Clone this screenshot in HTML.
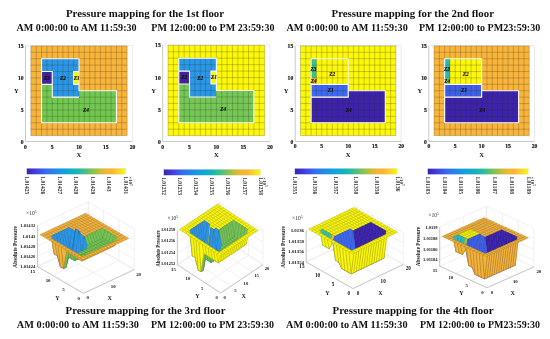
<!DOCTYPE html>
<html><head><meta charset="utf-8"><style>html,body{margin:0;padding:0;background:#fff;overflow:hidden}svg{display:block}.e{fill:none;stroke:#000;stroke-opacity:0.4;stroke-width:0.3}</style></head>
<body><svg width="550" height="339" viewBox="0 0 550 339">
<rect width="550" height="339" fill="#fff"/>
<text x="66" y="16.9" font-family="Liberation Serif, serif" font-weight="bold" font-size="10.5" textLength="158.1" lengthAdjust="spacingAndGlyphs" fill="#111">Pressure mapping for the 1st floor</text>
<text x="331.5" y="16.9" font-family="Liberation Serif, serif" font-weight="bold" font-size="10.5" textLength="162.5" lengthAdjust="spacingAndGlyphs" fill="#111">Pressure mapping for the 2nd floor</text>
<text x="16.5" y="30.5" font-family="Liberation Serif, serif" font-weight="bold" font-size="10.5" textLength="120.1" lengthAdjust="spacingAndGlyphs" fill="#111">AM 0:00:00 to AM 11:59:30</text>
<text x="151.3" y="30.5" font-family="Liberation Serif, serif" font-weight="bold" font-size="10.5" textLength="123.2" lengthAdjust="spacingAndGlyphs" fill="#111">PM 12:00:00 to PM 23:59:30</text>
<text x="286.5" y="30.5" font-family="Liberation Serif, serif" font-weight="bold" font-size="10.5" textLength="121.3" lengthAdjust="spacingAndGlyphs" fill="#111">AM 0:00:00 to AM 11:59:30</text>
<text x="418.9" y="30.5" font-family="Liberation Serif, serif" font-weight="bold" font-size="10.5" textLength="121.4" lengthAdjust="spacingAndGlyphs" fill="#111">PM 12:00:00 to PM23:59:30</text>
<text x="65.6" y="313.8" font-family="Liberation Serif, serif" font-weight="bold" font-size="9.9" textLength="159.9" lengthAdjust="spacingAndGlyphs" fill="#111">Pressure mapping for the 3rd floor</text>
<text x="332.5" y="313.8" font-family="Liberation Serif, serif" font-weight="bold" font-size="9.9" textLength="161.0" lengthAdjust="spacingAndGlyphs" fill="#111">Pressure mapping for the 4th floor</text>
<text x="16.8" y="327.5" font-family="Liberation Serif, serif" font-weight="bold" font-size="9.9" textLength="122.2" lengthAdjust="spacingAndGlyphs" fill="#111">AM 0:00:00 to AM 11:59:30</text>
<text x="151" y="327.5" font-family="Liberation Serif, serif" font-weight="bold" font-size="9.9" textLength="123.0" lengthAdjust="spacingAndGlyphs" fill="#111">PM 12:00:00 to PM 23:59:30</text>
<text x="286" y="327.5" font-family="Liberation Serif, serif" font-weight="bold" font-size="9.9" textLength="121.5" lengthAdjust="spacingAndGlyphs" fill="#111">AM 0:00:00 to AM 11:59:30</text>
<text x="420" y="327.5" font-family="Liberation Serif, serif" font-weight="bold" font-size="9.9" textLength="120.0" lengthAdjust="spacingAndGlyphs" fill="#111">PM 12:00:00 to PM23:59:30</text>
<path d="M25.50 45.60H132.50V141.50" fill="none" stroke="#e6e6e6" stroke-width="0.8"/>
<path d="M25.50 45.60V141.50H132.50" fill="none" stroke="#c8c8c8" stroke-width="1"/>
<rect x="30.85" y="45.90" width="96.30" height="89.69" fill="#f7b53c"/>
<path d="M41.55 58.71H79.00V71.53H41.55ZM52.25 71.53H73.65V84.34H52.25ZM52.25 84.34H79.00V97.15H52.25Z" fill="#2a98e8"/>
<path d="M41.55 71.53H52.25V84.34H41.55Z" fill="#43239f"/>
<path d="M73.65 71.53H79.00V84.34H73.65Z" fill="#fcf80a"/>
<path d="M41.55 84.34H52.25V122.78H41.55ZM52.25 97.15H79.00V122.78H52.25ZM79.00 90.75H116.45V122.78H79.00Z" fill="#70c850"/>
<path d="M30.85 135.59V45.90M36.20 135.59V45.90M41.55 135.59V45.90M46.90 135.59V45.90M52.25 135.59V45.90M57.60 135.59V45.90M62.95 135.59V45.90M68.30 135.59V45.90M73.65 135.59V45.90M79.00 135.59V45.90M84.35 135.59V45.90M89.70 135.59V45.90M95.05 135.59V45.90M100.40 135.59V45.90M105.75 135.59V45.90M111.10 135.59V45.90M116.45 135.59V45.90M121.80 135.59V45.90M127.15 135.59V45.90M30.85 135.59H127.15M30.85 129.19H127.15M30.85 122.78H127.15M30.85 116.37H127.15M30.85 109.97H127.15M30.85 103.56H127.15M30.85 97.15H127.15M30.85 90.75H127.15M30.85 84.34H127.15M30.85 77.93H127.15M30.85 71.53H127.15M30.85 65.12H127.15M30.85 58.71H127.15M30.85 52.31H127.15M30.85 45.90H127.15" stroke="#3a2a10" stroke-opacity="0.55" stroke-width="0.45" fill="none"/>
<path d="M41.55 58.71L79.00 58.71L79.00 90.75L116.45 90.75L116.45 122.78L41.55 122.78ZM41.55 84.34L52.25 84.34L52.25 71.53L41.55 71.53ZM73.65 84.34L79.00 84.34L79.00 71.53L73.65 71.53ZM52.25 84.34L52.25 97.15L79.00 97.15" stroke="#fff" stroke-width="1.1" fill="none" stroke-linejoin="miter"/>
<text x="76.59" y="79.85" font-family="Liberation Serif, serif" font-style="italic" font-weight="bold" font-size="5.3" text-anchor="middle" fill="#111" stroke="#111" stroke-width="0.15">Z1</text>
<text x="62.95" y="80.17" font-family="Liberation Serif, serif" font-style="italic" font-weight="bold" font-size="5.3" text-anchor="middle" fill="#111" stroke="#111" stroke-width="0.15">Z2</text>
<text x="46.90" y="79.85" font-family="Liberation Serif, serif" font-style="italic" font-weight="bold" font-size="5.3" text-anchor="middle" fill="#111" stroke="#111" stroke-width="0.15">Z3</text>
<text x="85.95" y="111.57" font-family="Liberation Serif, serif" font-style="italic" font-weight="bold" font-size="5.3" text-anchor="middle" fill="#111" stroke="#111" stroke-width="0.15">Z4</text>
<text x="25.50" y="149.10" font-family="Liberation Serif, serif" font-weight="bold" font-size="5.6" text-anchor="middle" fill="#1a1a1a" stroke="#1a1a1a" stroke-width="0.2">0</text>
<text x="52.25" y="149.10" font-family="Liberation Serif, serif" font-weight="bold" font-size="5.6" text-anchor="middle" fill="#1a1a1a" stroke="#1a1a1a" stroke-width="0.2">5</text>
<text x="79.00" y="149.10" font-family="Liberation Serif, serif" font-weight="bold" font-size="5.6" text-anchor="middle" fill="#1a1a1a" stroke="#1a1a1a" stroke-width="0.2">10</text>
<text x="105.75" y="149.10" font-family="Liberation Serif, serif" font-weight="bold" font-size="5.6" text-anchor="middle" fill="#1a1a1a" stroke="#1a1a1a" stroke-width="0.2">15</text>
<text x="132.50" y="149.10" font-family="Liberation Serif, serif" font-weight="bold" font-size="5.6" text-anchor="middle" fill="#1a1a1a" stroke="#1a1a1a" stroke-width="0.2">20</text>
<text x="23.50" y="144.00" font-family="Liberation Serif, serif" font-weight="bold" font-size="5.6" text-anchor="end" fill="#1a1a1a" stroke="#1a1a1a" stroke-width="0.2">0</text>
<text x="23.50" y="111.97" font-family="Liberation Serif, serif" font-weight="bold" font-size="5.6" text-anchor="end" fill="#1a1a1a" stroke="#1a1a1a" stroke-width="0.2">5</text>
<text x="23.50" y="79.93" font-family="Liberation Serif, serif" font-weight="bold" font-size="5.6" text-anchor="end" fill="#1a1a1a" stroke="#1a1a1a" stroke-width="0.2">10</text>
<text x="23.50" y="47.90" font-family="Liberation Serif, serif" font-weight="bold" font-size="5.6" text-anchor="end" fill="#1a1a1a" stroke="#1a1a1a" stroke-width="0.2">15</text>
<text x="79.00" y="157.20" font-family="Liberation Serif, serif" font-weight="bold" font-size="6.6" text-anchor="middle" fill="#111">X</text>
<text x="16.50" y="93.05" font-family="Liberation Serif, serif" font-weight="bold" font-size="6.6" text-anchor="middle" fill="#111">Y</text>
<path d="M162.70 45.00H270.00V141.60" fill="none" stroke="#e6e6e6" stroke-width="0.8"/>
<path d="M162.70 45.00V141.60H270.00" fill="none" stroke="#c8c8c8" stroke-width="1"/>
<rect x="168.06" y="45.30" width="96.57" height="90.35" fill="#fcf80a"/>
<path d="M178.79 58.21H216.35V71.11H178.79ZM189.52 71.11H210.98V84.02H189.52ZM189.52 84.02H216.35V96.93H189.52Z" fill="#2a98e8"/>
<path d="M178.79 71.11H189.52V84.02H178.79Z" fill="#43239f"/>
<path d="M210.98 71.11H216.35V84.02H210.98Z" fill="#fcf80a"/>
<path d="M178.79 84.02H189.52V122.74H178.79ZM189.52 96.93H216.35V122.74H189.52ZM216.35 90.47H253.90V122.74H216.35Z" fill="#74c858"/>
<path d="M168.06 135.65V45.30M173.43 135.65V45.30M178.79 135.65V45.30M184.16 135.65V45.30M189.52 135.65V45.30M194.89 135.65V45.30M200.25 135.65V45.30M205.62 135.65V45.30M210.98 135.65V45.30M216.35 135.65V45.30M221.71 135.65V45.30M227.08 135.65V45.30M232.44 135.65V45.30M237.81 135.65V45.30M243.18 135.65V45.30M248.54 135.65V45.30M253.90 135.65V45.30M259.27 135.65V45.30M264.63 135.65V45.30M168.06 135.65H264.63M168.06 129.19H264.63M168.06 122.74H264.63M168.06 116.29H264.63M168.06 109.83H264.63M168.06 103.38H264.63M168.06 96.93H264.63M168.06 90.47H264.63M168.06 84.02H264.63M168.06 77.57H264.63M168.06 71.11H264.63M168.06 64.66H264.63M168.06 58.21H264.63M168.06 51.75H264.63M168.06 45.30H264.63" stroke="#3a2a10" stroke-opacity="0.55" stroke-width="0.45" fill="none"/>
<path d="M178.79 58.21L216.35 58.21L216.35 90.47L253.90 90.47L253.90 122.74L178.79 122.74ZM178.79 84.02L189.52 84.02L189.52 71.11L178.79 71.11ZM210.98 84.02L216.35 84.02L216.35 71.11L210.98 71.11ZM189.52 84.02L189.52 96.93L216.35 96.93" stroke="#fff" stroke-width="1.1" fill="none" stroke-linejoin="miter"/>
<text x="213.94" y="79.49" font-family="Liberation Serif, serif" font-style="italic" font-weight="bold" font-size="5.3" text-anchor="middle" fill="#111" stroke="#111" stroke-width="0.15">Z1</text>
<text x="200.25" y="79.81" font-family="Liberation Serif, serif" font-style="italic" font-weight="bold" font-size="5.3" text-anchor="middle" fill="#111" stroke="#111" stroke-width="0.15">Z2</text>
<text x="184.16" y="79.49" font-family="Liberation Serif, serif" font-style="italic" font-weight="bold" font-size="5.3" text-anchor="middle" fill="#111" stroke="#111" stroke-width="0.15">Z3</text>
<text x="223.32" y="111.43" font-family="Liberation Serif, serif" font-style="italic" font-weight="bold" font-size="5.3" text-anchor="middle" fill="#111" stroke="#111" stroke-width="0.15">Z4</text>
<text x="162.70" y="149.20" font-family="Liberation Serif, serif" font-weight="bold" font-size="5.6" text-anchor="middle" fill="#1a1a1a" stroke="#1a1a1a" stroke-width="0.2">0</text>
<text x="189.52" y="149.20" font-family="Liberation Serif, serif" font-weight="bold" font-size="5.6" text-anchor="middle" fill="#1a1a1a" stroke="#1a1a1a" stroke-width="0.2">5</text>
<text x="216.35" y="149.20" font-family="Liberation Serif, serif" font-weight="bold" font-size="5.6" text-anchor="middle" fill="#1a1a1a" stroke="#1a1a1a" stroke-width="0.2">10</text>
<text x="243.18" y="149.20" font-family="Liberation Serif, serif" font-weight="bold" font-size="5.6" text-anchor="middle" fill="#1a1a1a" stroke="#1a1a1a" stroke-width="0.2">15</text>
<text x="270.00" y="149.20" font-family="Liberation Serif, serif" font-weight="bold" font-size="5.6" text-anchor="middle" fill="#1a1a1a" stroke="#1a1a1a" stroke-width="0.2">20</text>
<text x="160.70" y="144.10" font-family="Liberation Serif, serif" font-weight="bold" font-size="5.6" text-anchor="end" fill="#1a1a1a" stroke="#1a1a1a" stroke-width="0.2">0</text>
<text x="160.70" y="111.83" font-family="Liberation Serif, serif" font-weight="bold" font-size="5.6" text-anchor="end" fill="#1a1a1a" stroke="#1a1a1a" stroke-width="0.2">5</text>
<text x="160.70" y="79.57" font-family="Liberation Serif, serif" font-weight="bold" font-size="5.6" text-anchor="end" fill="#1a1a1a" stroke="#1a1a1a" stroke-width="0.2">10</text>
<text x="160.70" y="47.30" font-family="Liberation Serif, serif" font-weight="bold" font-size="5.6" text-anchor="end" fill="#1a1a1a" stroke="#1a1a1a" stroke-width="0.2">15</text>
<text x="216.35" y="157.30" font-family="Liberation Serif, serif" font-weight="bold" font-size="6.6" text-anchor="middle" fill="#111">X</text>
<text x="153.70" y="92.77" font-family="Liberation Serif, serif" font-weight="bold" font-size="6.6" text-anchor="middle" fill="#111">Y</text>
<path d="M295.20 45.60H401.20V141.50" fill="none" stroke="#e6e6e6" stroke-width="0.8"/>
<path d="M295.20 45.60V141.50H401.20" fill="none" stroke="#c8c8c8" stroke-width="1"/>
<rect x="300.50" y="45.90" width="95.40" height="89.69" fill="#fcf80a"/>
<path d="M316.40 58.71H348.20V84.34H316.40Z" fill="#fcf80a"/>
<path d="M311.10 58.71H316.40V77.93H311.10Z" fill="#3cc093"/>
<path d="M311.10 77.93H316.40V84.34H311.10Z" fill="#f0b23a"/>
<path d="M311.10 84.34H348.20V97.15H311.10Z" fill="#3d68f0"/>
<path d="M311.10 97.15H385.30V122.78H311.10ZM348.20 90.75H385.30V97.15H348.20Z" fill="#3c23ae"/>
<path d="M300.50 135.59V45.90M305.80 135.59V45.90M311.10 135.59V45.90M316.40 135.59V45.90M321.70 135.59V45.90M327.00 135.59V45.90M332.30 135.59V45.90M337.60 135.59V45.90M342.90 135.59V45.90M348.20 135.59V45.90M353.50 135.59V45.90M358.80 135.59V45.90M364.10 135.59V45.90M369.40 135.59V45.90M374.70 135.59V45.90M380.00 135.59V45.90M385.30 135.59V45.90M390.60 135.59V45.90M395.90 135.59V45.90M300.50 135.59H395.90M300.50 129.19H395.90M300.50 122.78H395.90M300.50 116.37H395.90M300.50 109.97H395.90M300.50 103.56H395.90M300.50 97.15H395.90M300.50 90.75H395.90M300.50 84.34H395.90M300.50 77.93H395.90M300.50 71.53H395.90M300.50 65.12H395.90M300.50 58.71H395.90M300.50 52.31H395.90M300.50 45.90H395.90" stroke="#3a2a10" stroke-opacity="0.55" stroke-width="0.45" fill="none"/>
<path d="M311.10 58.71L348.20 58.71L348.20 90.75L385.30 90.75L385.30 122.78L311.10 122.78ZM311.10 84.34L348.20 84.34L348.20 97.15L311.10 97.15Z" stroke="#fff" stroke-width="1.1" fill="none" stroke-linejoin="miter"/>
<text x="332.30" y="75.69" font-family="Liberation Serif, serif" font-style="italic" font-weight="bold" font-size="5.3" text-anchor="middle" fill="#111" stroke="#111" stroke-width="0.15">Z2</text>
<text x="313.49" y="71.20" font-family="Liberation Serif, serif" font-style="italic" font-weight="bold" font-size="5.3" text-anchor="middle" fill="#111" stroke="#111" stroke-width="0.15">Z3</text>
<text x="313.75" y="83.06" font-family="Liberation Serif, serif" font-style="italic" font-weight="bold" font-size="5.3" text-anchor="middle" fill="#111" stroke="#111" stroke-width="0.15">Z4</text>
<text x="330.71" y="91.71" font-family="Liberation Serif, serif" font-style="italic" font-weight="bold" font-size="5.3" text-anchor="middle" fill="#111" stroke="#111" stroke-width="0.15">Z1</text>
<text x="348.73" y="111.57" font-family="Liberation Serif, serif" font-style="italic" font-weight="bold" font-size="5.3" text-anchor="middle" fill="#111" stroke="#111" stroke-width="0.15">Z4</text>
<text x="295.20" y="148.40" font-family="Liberation Serif, serif" font-weight="bold" font-size="5.6" text-anchor="middle" fill="#1a1a1a" stroke="#1a1a1a" stroke-width="0.2">0</text>
<text x="321.70" y="148.40" font-family="Liberation Serif, serif" font-weight="bold" font-size="5.6" text-anchor="middle" fill="#1a1a1a" stroke="#1a1a1a" stroke-width="0.2">5</text>
<text x="348.20" y="148.40" font-family="Liberation Serif, serif" font-weight="bold" font-size="5.6" text-anchor="middle" fill="#1a1a1a" stroke="#1a1a1a" stroke-width="0.2">10</text>
<text x="374.70" y="148.40" font-family="Liberation Serif, serif" font-weight="bold" font-size="5.6" text-anchor="middle" fill="#1a1a1a" stroke="#1a1a1a" stroke-width="0.2">15</text>
<text x="401.20" y="148.40" font-family="Liberation Serif, serif" font-weight="bold" font-size="5.6" text-anchor="middle" fill="#1a1a1a" stroke="#1a1a1a" stroke-width="0.2">20</text>
<text x="293.20" y="144.00" font-family="Liberation Serif, serif" font-weight="bold" font-size="5.6" text-anchor="end" fill="#1a1a1a" stroke="#1a1a1a" stroke-width="0.2">0</text>
<text x="293.20" y="111.97" font-family="Liberation Serif, serif" font-weight="bold" font-size="5.6" text-anchor="end" fill="#1a1a1a" stroke="#1a1a1a" stroke-width="0.2">5</text>
<text x="293.20" y="79.93" font-family="Liberation Serif, serif" font-weight="bold" font-size="5.6" text-anchor="end" fill="#1a1a1a" stroke="#1a1a1a" stroke-width="0.2">10</text>
<text x="293.20" y="47.90" font-family="Liberation Serif, serif" font-weight="bold" font-size="5.6" text-anchor="end" fill="#1a1a1a" stroke="#1a1a1a" stroke-width="0.2">15</text>
<text x="348.20" y="156.50" font-family="Liberation Serif, serif" font-weight="bold" font-size="6.6" text-anchor="middle" fill="#111">X</text>
<text x="286.20" y="93.05" font-family="Liberation Serif, serif" font-weight="bold" font-size="6.6" text-anchor="middle" fill="#111">Y</text>
<path d="M428.80 45.60H534.50V141.50" fill="none" stroke="#e6e6e6" stroke-width="0.8"/>
<path d="M428.80 45.60V141.50H534.50" fill="none" stroke="#c8c8c8" stroke-width="1"/>
<rect x="434.09" y="45.90" width="95.13" height="89.69" fill="#f7b53c"/>
<path d="M449.94 58.71H481.65V84.34H449.94Z" fill="#fcf80a"/>
<path d="M444.66 58.71H449.94V77.93H444.66Z" fill="#28b8be"/>
<path d="M444.66 77.93H449.94V84.34H444.66Z" fill="#8cc84c"/>
<path d="M444.66 84.34H481.65V97.15H444.66Z" fill="#3c60ea"/>
<path d="M444.66 97.15H518.64V122.78H444.66ZM481.65 90.75H518.64V97.15H481.65Z" fill="#3c23ae"/>
<path d="M434.09 135.59V45.90M439.37 135.59V45.90M444.66 135.59V45.90M449.94 135.59V45.90M455.23 135.59V45.90M460.51 135.59V45.90M465.80 135.59V45.90M471.08 135.59V45.90M476.37 135.59V45.90M481.65 135.59V45.90M486.94 135.59V45.90M492.22 135.59V45.90M497.50 135.59V45.90M502.79 135.59V45.90M508.07 135.59V45.90M513.36 135.59V45.90M518.64 135.59V45.90M523.93 135.59V45.90M529.22 135.59V45.90M434.09 135.59H529.22M434.09 129.19H529.22M434.09 122.78H529.22M434.09 116.37H529.22M434.09 109.97H529.22M434.09 103.56H529.22M434.09 97.15H529.22M434.09 90.75H529.22M434.09 84.34H529.22M434.09 77.93H529.22M434.09 71.53H529.22M434.09 65.12H529.22M434.09 58.71H529.22M434.09 52.31H529.22M434.09 45.90H529.22" stroke="#3a2a10" stroke-opacity="0.55" stroke-width="0.45" fill="none"/>
<path d="M444.66 58.71L481.65 58.71L481.65 90.75L518.64 90.75L518.64 122.78L444.66 122.78ZM444.66 84.34L481.65 84.34L481.65 97.15L444.66 97.15Z" stroke="#fff" stroke-width="1.1" fill="none" stroke-linejoin="miter"/>
<text x="465.80" y="75.69" font-family="Liberation Serif, serif" font-style="italic" font-weight="bold" font-size="5.3" text-anchor="middle" fill="#111" stroke="#111" stroke-width="0.15">Z2</text>
<text x="447.03" y="71.20" font-family="Liberation Serif, serif" font-style="italic" font-weight="bold" font-size="5.3" text-anchor="middle" fill="#111" stroke="#111" stroke-width="0.15">Z3</text>
<text x="447.30" y="83.06" font-family="Liberation Serif, serif" font-style="italic" font-weight="bold" font-size="5.3" text-anchor="middle" fill="#111" stroke="#111" stroke-width="0.15">Z4</text>
<text x="464.21" y="91.71" font-family="Liberation Serif, serif" font-style="italic" font-weight="bold" font-size="5.3" text-anchor="middle" fill="#111" stroke="#111" stroke-width="0.15">Z1</text>
<text x="482.18" y="111.57" font-family="Liberation Serif, serif" font-style="italic" font-weight="bold" font-size="5.3" text-anchor="middle" fill="#111" stroke="#111" stroke-width="0.15">Z4</text>
<text x="428.80" y="148.40" font-family="Liberation Serif, serif" font-weight="bold" font-size="5.6" text-anchor="middle" fill="#1a1a1a" stroke="#1a1a1a" stroke-width="0.2">0</text>
<text x="455.23" y="148.40" font-family="Liberation Serif, serif" font-weight="bold" font-size="5.6" text-anchor="middle" fill="#1a1a1a" stroke="#1a1a1a" stroke-width="0.2">5</text>
<text x="481.65" y="148.40" font-family="Liberation Serif, serif" font-weight="bold" font-size="5.6" text-anchor="middle" fill="#1a1a1a" stroke="#1a1a1a" stroke-width="0.2">10</text>
<text x="508.07" y="148.40" font-family="Liberation Serif, serif" font-weight="bold" font-size="5.6" text-anchor="middle" fill="#1a1a1a" stroke="#1a1a1a" stroke-width="0.2">15</text>
<text x="534.50" y="148.40" font-family="Liberation Serif, serif" font-weight="bold" font-size="5.6" text-anchor="middle" fill="#1a1a1a" stroke="#1a1a1a" stroke-width="0.2">20</text>
<text x="426.80" y="144.00" font-family="Liberation Serif, serif" font-weight="bold" font-size="5.6" text-anchor="end" fill="#1a1a1a" stroke="#1a1a1a" stroke-width="0.2">0</text>
<text x="426.80" y="111.97" font-family="Liberation Serif, serif" font-weight="bold" font-size="5.6" text-anchor="end" fill="#1a1a1a" stroke="#1a1a1a" stroke-width="0.2">5</text>
<text x="426.80" y="79.93" font-family="Liberation Serif, serif" font-weight="bold" font-size="5.6" text-anchor="end" fill="#1a1a1a" stroke="#1a1a1a" stroke-width="0.2">10</text>
<text x="426.80" y="47.90" font-family="Liberation Serif, serif" font-weight="bold" font-size="5.6" text-anchor="end" fill="#1a1a1a" stroke="#1a1a1a" stroke-width="0.2">15</text>
<text x="481.65" y="156.50" font-family="Liberation Serif, serif" font-weight="bold" font-size="6.6" text-anchor="middle" fill="#111">X</text>
<text x="419.80" y="93.05" font-family="Liberation Serif, serif" font-weight="bold" font-size="6.6" text-anchor="middle" fill="#111">Y</text>
<defs><linearGradient id="par" x1="0" x2="1" y1="0" y2="0"><stop offset="0.000" stop-color="#3426ac"/><stop offset="0.025" stop-color="#382cba"/><stop offset="0.050" stop-color="#3c33c8"/><stop offset="0.075" stop-color="#4039d6"/><stop offset="0.100" stop-color="#4440e4"/><stop offset="0.125" stop-color="#404ce7"/><stop offset="0.150" stop-color="#3b58ea"/><stop offset="0.175" stop-color="#3764ed"/><stop offset="0.200" stop-color="#3270f0"/><stop offset="0.225" stop-color="#2d78ee"/><stop offset="0.250" stop-color="#287feb"/><stop offset="0.275" stop-color="#2386e8"/><stop offset="0.300" stop-color="#1e8ee6"/><stop offset="0.325" stop-color="#1a94e2"/><stop offset="0.350" stop-color="#179ade"/><stop offset="0.375" stop-color="#13a0db"/><stop offset="0.400" stop-color="#0fa6d7"/><stop offset="0.425" stop-color="#11aad0"/><stop offset="0.450" stop-color="#12aec8"/><stop offset="0.475" stop-color="#14b2c0"/><stop offset="0.500" stop-color="#16b6b9"/><stop offset="0.525" stop-color="#23b8ac"/><stop offset="0.550" stop-color="#2fbb9e"/><stop offset="0.575" stop-color="#3bbe91"/><stop offset="0.600" stop-color="#4fbf7f"/><stop offset="0.625" stop-color="#64c06c"/><stop offset="0.650" stop-color="#7ac25a"/><stop offset="0.675" stop-color="#8fc14c"/><stop offset="0.700" stop-color="#a5c043"/><stop offset="0.725" stop-color="#bbbf3a"/><stop offset="0.750" stop-color="#cfbd34"/><stop offset="0.775" stop-color="#dfba33"/><stop offset="0.800" stop-color="#f0b832"/><stop offset="0.825" stop-color="#f5b633"/><stop offset="0.850" stop-color="#fab334"/><stop offset="0.875" stop-color="#fbba31"/><stop offset="0.900" stop-color="#fac72b"/><stop offset="0.925" stop-color="#f8d325"/><stop offset="0.950" stop-color="#f8e01f"/><stop offset="0.975" stop-color="#f8ec1a"/><stop offset="1.000" stop-color="#f8f814"/></linearGradient></defs>
<rect x="26.7" y="168.2" width="99.10" height="6.20" fill="url(#par)" stroke="#e8e8e8" stroke-width="0.4"/>
<text transform="translate(24.80,176.30) rotate(90)" font-family="Liberation Serif, serif" font-weight="bold" font-size="5.5" fill="#333">1.01425</text>
<text transform="translate(41.32,176.30) rotate(90)" font-family="Liberation Serif, serif" font-weight="bold" font-size="5.5" fill="#333">1.01426</text>
<text transform="translate(57.83,176.30) rotate(90)" font-family="Liberation Serif, serif" font-weight="bold" font-size="5.5" fill="#333">1.01427</text>
<text transform="translate(74.35,176.30) rotate(90)" font-family="Liberation Serif, serif" font-weight="bold" font-size="5.5" fill="#333">1.01428</text>
<text transform="translate(90.87,176.30) rotate(90)" font-family="Liberation Serif, serif" font-weight="bold" font-size="5.5" fill="#333">1.01429</text>
<text transform="translate(107.38,176.30) rotate(90)" font-family="Liberation Serif, serif" font-weight="bold" font-size="5.5" fill="#333">1.0143</text>
<text transform="translate(123.90,176.30) rotate(90)" font-family="Liberation Serif, serif" font-weight="bold" font-size="5.5" fill="#333">1.01431</text>
<text transform="translate(128.50,176.20) rotate(90)" font-family="Liberation Serif, serif" font-weight="bold" font-size="5" fill="#333">×10<tspan dy="-1.8" font-size="3.4">5</tspan></text>
<rect x="163.7" y="169.2" width="96.90" height="6.10" fill="url(#par)" stroke="#e8e8e8" stroke-width="0.4"/>
<text transform="translate(161.80,177.20) rotate(90)" font-family="Liberation Serif, serif" font-weight="bold" font-size="5.5" fill="#333">1.01252</text>
<text transform="translate(177.95,177.20) rotate(90)" font-family="Liberation Serif, serif" font-weight="bold" font-size="5.5" fill="#333">1.01253</text>
<text transform="translate(194.10,177.20) rotate(90)" font-family="Liberation Serif, serif" font-weight="bold" font-size="5.5" fill="#333">1.01254</text>
<text transform="translate(210.25,177.20) rotate(90)" font-family="Liberation Serif, serif" font-weight="bold" font-size="5.5" fill="#333">1.01255</text>
<text transform="translate(226.40,177.20) rotate(90)" font-family="Liberation Serif, serif" font-weight="bold" font-size="5.5" fill="#333">1.01256</text>
<text transform="translate(242.55,177.20) rotate(90)" font-family="Liberation Serif, serif" font-weight="bold" font-size="5.5" fill="#333">1.01257</text>
<text transform="translate(258.70,177.20) rotate(90)" font-family="Liberation Serif, serif" font-weight="bold" font-size="5.5" fill="#333">1.01258</text>
<text transform="translate(263.30,177.10) rotate(90)" font-family="Liberation Serif, serif" font-weight="bold" font-size="5" fill="#333">×10<tspan dy="-1.8" font-size="3.4">5</tspan></text>
<rect x="294.8" y="168.3" width="102.60" height="6.10" fill="url(#par)" stroke="#e8e8e8" stroke-width="0.4"/>
<text transform="translate(292.90,176.30) rotate(90)" font-family="Liberation Serif, serif" font-weight="bold" font-size="5.5" fill="#333">1.01355</text>
<text transform="translate(313.42,176.30) rotate(90)" font-family="Liberation Serif, serif" font-weight="bold" font-size="5.5" fill="#333">1.01356</text>
<text transform="translate(333.94,176.30) rotate(90)" font-family="Liberation Serif, serif" font-weight="bold" font-size="5.5" fill="#333">1.01357</text>
<text transform="translate(354.46,176.30) rotate(90)" font-family="Liberation Serif, serif" font-weight="bold" font-size="5.5" fill="#333">1.01358</text>
<text transform="translate(374.98,176.30) rotate(90)" font-family="Liberation Serif, serif" font-weight="bold" font-size="5.5" fill="#333">1.01359</text>
<text transform="translate(395.50,176.30) rotate(90)" font-family="Liberation Serif, serif" font-weight="bold" font-size="5.5" fill="#333">1.0136</text>
<text transform="translate(400.10,176.20) rotate(90)" font-family="Liberation Serif, serif" font-weight="bold" font-size="5" fill="#333">×10<tspan dy="-1.8" font-size="3.4">5</tspan></text>
<rect x="427.6" y="168.5" width="100.80" height="6.00" fill="url(#par)" stroke="#e8e8e8" stroke-width="0.4"/>
<text transform="translate(425.70,176.40) rotate(90)" font-family="Liberation Serif, serif" font-weight="bold" font-size="5.5" fill="#333">1.01183</text>
<text transform="translate(442.50,176.40) rotate(90)" font-family="Liberation Serif, serif" font-weight="bold" font-size="5.5" fill="#333">1.01184</text>
<text transform="translate(459.30,176.40) rotate(90)" font-family="Liberation Serif, serif" font-weight="bold" font-size="5.5" fill="#333">1.01185</text>
<text transform="translate(476.10,176.40) rotate(90)" font-family="Liberation Serif, serif" font-weight="bold" font-size="5.5" fill="#333">1.01186</text>
<text transform="translate(492.90,176.40) rotate(90)" font-family="Liberation Serif, serif" font-weight="bold" font-size="5.5" fill="#333">1.01187</text>
<text transform="translate(509.70,176.40) rotate(90)" font-family="Liberation Serif, serif" font-weight="bold" font-size="5.5" fill="#333">1.01188</text>
<text transform="translate(526.50,176.40) rotate(90)" font-family="Liberation Serif, serif" font-weight="bold" font-size="5.5" fill="#333">1.01189</text>
<text transform="translate(531.10,176.30) rotate(90)" font-family="Liberation Serif, serif" font-weight="bold" font-size="5" fill="#333">×10<tspan dy="-1.8" font-size="3.4">5</tspan></text>
<path d="M83.50 293.40L37.45 266.55M37.45 266.55L37.45 225.24M108.90 281.50L62.85 254.65M62.85 254.65L62.85 213.34M134.30 269.60L88.25 242.75M88.25 242.75L88.25 201.44M83.50 293.40L134.30 269.60M134.30 269.60L134.30 228.29M68.15 284.45L118.95 260.65M118.95 260.65L118.95 219.34M52.80 275.50L103.60 251.70M103.60 251.70L103.60 210.39M37.45 266.55L88.25 242.75M88.25 242.75L88.25 201.44M37.45 266.55L88.25 242.75M88.25 242.75L134.30 269.60M37.45 256.35L88.25 232.55M88.25 232.55L134.30 259.40M37.45 246.15L88.25 222.35M88.25 222.35L134.30 249.20M37.45 235.95L88.25 212.15M88.25 212.15L134.30 239.00M37.45 225.75L88.25 201.95M88.25 201.95L134.30 228.80" stroke="#e2e2e2" stroke-width="0.5" fill="none"/>
<path d="M83.50 293.40L134.30 269.60M83.50 293.40L37.45 266.55M37.45 266.55L37.45 225.24" stroke="#a8a8a8" stroke-width="0.6" fill="none"/>
<g stroke-width="0.45" stroke-linejoin="round"><path d="M86.2 216.3L88.8 215.1L85.7 213.3L83.2 214.5Z" fill="#f3b23a" stroke="#f3b23a"/><path d="M86.2 216.3L88.8 215.1L85.7 213.3L83.2 214.5Z" class="e"/><path d="M83.7 217.5L86.2 216.3L83.2 214.5L80.6 215.7Z" fill="#f3b23a" stroke="#f3b23a"/><path d="M83.7 217.5L86.2 216.3L83.2 214.5L80.6 215.7Z" class="e"/><path d="M89.3 218.1L91.8 216.9L88.8 215.1L86.2 216.3Z" fill="#f3b23a" stroke="#f3b23a"/><path d="M89.3 218.1L91.8 216.9L88.8 215.1L86.2 216.3Z" class="e"/><path d="M81.2 218.7L83.7 217.5L80.6 215.7L78.1 216.9Z" fill="#f3b23a" stroke="#f3b23a"/><path d="M81.2 218.7L83.7 217.5L80.6 215.7L78.1 216.9Z" class="e"/><path d="M86.8 219.3L89.3 218.1L86.2 216.3L83.7 217.5Z" fill="#f3b23a" stroke="#f3b23a"/><path d="M86.8 219.3L89.3 218.1L86.2 216.3L83.7 217.5Z" class="e"/><path d="M78.6 219.9L81.2 218.7L78.1 216.9L75.5 218.1Z" fill="#f3b23a" stroke="#f3b23a"/><path d="M78.6 219.9L81.2 218.7L78.1 216.9L75.5 218.1Z" class="e"/><path d="M92.4 219.9L94.9 218.7L91.8 216.9L89.3 218.1Z" fill="#f3b23a" stroke="#f3b23a"/><path d="M92.4 219.9L94.9 218.7L91.8 216.9L89.3 218.1Z" class="e"/><path d="M84.2 220.5L86.8 219.3L83.7 217.5L81.2 218.7Z" fill="#f3b23a" stroke="#f3b23a"/><path d="M84.2 220.5L86.8 219.3L83.7 217.5L81.2 218.7Z" class="e"/><path d="M76.1 221.1L78.6 219.9L75.5 218.1L73.0 219.3Z" fill="#f3b23a" stroke="#f3b23a"/><path d="M76.1 221.1L78.6 219.9L75.5 218.1L73.0 219.3Z" class="e"/><path d="M89.8 221.1L92.4 219.9L89.3 218.1L86.8 219.3Z" fill="#f3b23a" stroke="#f3b23a"/><path d="M89.8 221.1L92.4 219.9L89.3 218.1L86.8 219.3Z" class="e"/><path d="M81.7 221.7L84.2 220.5L81.2 218.7L78.6 219.9Z" fill="#f3b23a" stroke="#f3b23a"/><path d="M81.7 221.7L84.2 220.5L81.2 218.7L78.6 219.9Z" class="e"/><path d="M95.5 221.7L98.0 220.5L94.9 218.7L92.4 219.9Z" fill="#f3b23a" stroke="#f3b23a"/><path d="M95.5 221.7L98.0 220.5L94.9 218.7L92.4 219.9Z" class="e"/><path d="M73.5 222.3L76.1 221.1L73.0 219.3L70.5 220.5Z" fill="#f3b23a" stroke="#f3b23a"/><path d="M73.5 222.3L76.1 221.1L73.0 219.3L70.5 220.5Z" class="e"/><path d="M87.3 222.3L89.8 221.1L86.8 219.3L84.2 220.5Z" fill="#f3b23a" stroke="#f3b23a"/><path d="M87.3 222.3L89.8 221.1L86.8 219.3L84.2 220.5Z" class="e"/><path d="M79.2 222.9L81.7 221.7L78.6 219.9L76.1 221.1Z" fill="#f3b23a" stroke="#f3b23a"/><path d="M79.2 222.9L81.7 221.7L78.6 219.9L76.1 221.1Z" class="e"/><path d="M92.9 222.9L95.5 221.7L92.4 219.9L89.8 221.1Z" fill="#f3b23a" stroke="#f3b23a"/><path d="M92.9 222.9L95.5 221.7L92.4 219.9L89.8 221.1Z" class="e"/><path d="M71.0 223.5L73.5 222.3L70.5 220.5L67.9 221.7Z" fill="#f3b23a" stroke="#f3b23a"/><path d="M71.0 223.5L73.5 222.3L70.5 220.5L67.9 221.7Z" class="e"/><path d="M84.8 223.5L87.3 222.3L84.2 220.5L81.7 221.7Z" fill="#f3b23a" stroke="#f3b23a"/><path d="M84.8 223.5L87.3 222.3L84.2 220.5L81.7 221.7Z" class="e"/><path d="M98.5 223.5L101.1 222.3L98.0 220.5L95.5 221.7Z" fill="#f3b23a" stroke="#f3b23a"/><path d="M98.5 223.5L101.1 222.3L98.0 220.5L95.5 221.7Z" class="e"/><path d="M76.6 224.1L79.2 222.9L76.1 221.1L73.5 222.3Z" fill="#f3b23a" stroke="#f3b23a"/><path d="M76.6 224.1L79.2 222.9L76.1 221.1L73.5 222.3Z" class="e"/><path d="M90.4 224.1L92.9 222.9L89.8 221.1L87.3 222.3Z" fill="#f3b23a" stroke="#f3b23a"/><path d="M90.4 224.1L92.9 222.9L89.8 221.1L87.3 222.3Z" class="e"/><path d="M68.5 224.7L71.0 223.5L67.9 221.7L65.4 222.9Z" fill="#f3b23a" stroke="#f3b23a"/><path d="M68.5 224.7L71.0 223.5L67.9 221.7L65.4 222.9Z" class="e"/><path d="M82.2 224.7L84.8 223.5L81.7 221.7L79.2 222.9Z" fill="#f3b23a" stroke="#f3b23a"/><path d="M82.2 224.7L84.8 223.5L81.7 221.7L79.2 222.9Z" class="e"/><path d="M96.0 224.7L98.5 223.5L95.5 221.7L92.9 222.9Z" fill="#f3b23a" stroke="#f3b23a"/><path d="M96.0 224.7L98.5 223.5L95.5 221.7L92.9 222.9Z" class="e"/><path d="M74.1 225.2L76.6 224.1L73.5 222.3L71.0 223.5Z" fill="#f3b23a" stroke="#f3b23a"/><path d="M74.1 225.2L76.6 224.1L73.5 222.3L71.0 223.5Z" class="e"/><path d="M87.8 225.3L90.4 224.1L87.3 222.3L84.8 223.5Z" fill="#f3b23a" stroke="#f3b23a"/><path d="M87.8 225.3L90.4 224.1L87.3 222.3L84.8 223.5Z" class="e"/><path d="M101.6 225.3L104.1 224.1L101.1 222.3L98.5 223.5Z" fill="#f3b23a" stroke="#f3b23a"/><path d="M101.6 225.3L104.1 224.1L101.1 222.3L98.5 223.5Z" class="e"/><path d="M65.9 225.8L68.5 224.7L65.4 222.9L62.9 224.1Z" fill="#f3b23a" stroke="#f3b23a"/><path d="M65.9 225.8L68.5 224.7L65.4 222.9L62.9 224.1Z" class="e"/><path d="M79.7 225.8L82.2 224.7L79.2 222.9L76.6 224.1Z" fill="#f3b23a" stroke="#f3b23a"/><path d="M79.7 225.8L82.2 224.7L79.2 222.9L76.6 224.1Z" class="e"/><path d="M93.4 225.9L96.0 224.7L92.9 222.9L90.4 224.1Z" fill="#f3b23a" stroke="#f3b23a"/><path d="M93.4 225.9L96.0 224.7L92.9 222.9L90.4 224.1Z" class="e"/><path d="M71.5 226.4L74.1 225.2L71.0 223.5L68.5 224.7Z" fill="#f3b23a" stroke="#f3b23a"/><path d="M71.5 226.4L74.1 225.2L71.0 223.5L68.5 224.7Z" class="e"/><path d="M85.3 226.4L87.8 225.3L84.8 223.5L82.2 224.7Z" fill="#f3b23a" stroke="#f3b23a"/><path d="M85.3 226.4L87.8 225.3L84.8 223.5L82.2 224.7Z" class="e"/><path d="M99.1 226.5L101.6 225.3L98.5 223.5L96.0 224.7Z" fill="#f3b23a" stroke="#f3b23a"/><path d="M99.1 226.5L101.6 225.3L98.5 223.5L96.0 224.7Z" class="e"/><path d="M63.4 227.0L65.9 225.8L62.9 224.1L60.3 225.2Z" fill="#f3b23a" stroke="#f3b23a"/><path d="M63.4 227.0L65.9 225.8L62.9 224.1L60.3 225.2Z" class="e"/><path d="M77.1 227.0L79.7 225.8L76.6 224.1L74.1 225.2Z" fill="#f3b23a" stroke="#f3b23a"/><path d="M77.1 227.0L79.7 225.8L76.6 224.1L74.1 225.2Z" class="e"/><path d="M90.9 227.0L93.4 225.9L90.4 224.1L87.8 225.3Z" fill="#f3b23a" stroke="#f3b23a"/><path d="M90.9 227.0L93.4 225.9L90.4 224.1L87.8 225.3Z" class="e"/><path d="M104.7 227.1L107.2 225.9L104.1 224.1L101.6 225.3Z" fill="#f3b23a" stroke="#f3b23a"/><path d="M104.7 227.1L107.2 225.9L104.1 224.1L101.6 225.3Z" class="e"/><path d="M69.0 227.6L71.5 226.4L68.5 224.7L65.9 225.8Z" fill="#f3b23a" stroke="#f3b23a"/><path d="M69.0 227.6L71.5 226.4L68.5 224.7L65.9 225.8Z" class="e"/><path d="M82.8 227.6L85.3 226.4L82.2 224.7L79.7 225.8Z" fill="#f3b23a" stroke="#f3b23a"/><path d="M82.8 227.6L85.3 226.4L82.2 224.7L79.7 225.8Z" class="e"/><path d="M96.5 227.6L99.1 226.5L96.0 224.7L93.4 225.9Z" fill="#f3b23a" stroke="#f3b23a"/><path d="M96.5 227.6L99.1 226.5L96.0 224.7L93.4 225.9Z" class="e"/><path d="M60.8 228.2L63.4 227.0L60.3 225.2L57.8 226.4Z" fill="#f3b23a" stroke="#f3b23a"/><path d="M60.8 228.2L63.4 227.0L60.3 225.2L57.8 226.4Z" class="e"/><path d="M74.6 228.2L77.1 227.0L74.1 225.2L71.5 226.4Z" fill="#f3b23a" stroke="#f3b23a"/><path d="M74.6 228.2L77.1 227.0L74.1 225.2L71.5 226.4Z" class="e"/><path d="M88.4 228.2L90.9 227.0L87.8 225.3L85.3 226.4Z" fill="#f3b23a" stroke="#f3b23a"/><path d="M88.4 228.2L90.9 227.0L87.8 225.3L85.3 226.4Z" class="e"/><path d="M102.1 228.2L104.7 227.1L101.6 225.3L99.1 226.5Z" fill="#f3b23a" stroke="#f3b23a"/><path d="M102.1 228.2L104.7 227.1L101.6 225.3L99.1 226.5Z" class="e"/><path d="M66.5 228.8L69.0 227.6L65.9 225.8L63.4 227.0Z" fill="#f3b23a" stroke="#f3b23a"/><path d="M66.5 228.8L69.0 227.6L65.9 225.8L63.4 227.0Z" class="e"/><path d="M80.2 228.8L82.8 227.6L79.7 225.8L77.1 227.0Z" fill="#f3b23a" stroke="#f3b23a"/><path d="M80.2 228.8L82.8 227.6L79.7 225.8L77.1 227.0Z" class="e"/><path d="M94.0 228.8L96.5 227.6L93.4 225.9L90.9 227.0Z" fill="#f3b23a" stroke="#f3b23a"/><path d="M94.0 228.8L96.5 227.6L93.4 225.9L90.9 227.0Z" class="e"/><path d="M107.7 228.8L110.3 227.7L107.2 225.9L104.7 227.1Z" fill="#f3b23a" stroke="#f3b23a"/><path d="M107.7 228.8L110.3 227.7L107.2 225.9L104.7 227.1Z" class="e"/><path d="M58.3 229.4L60.8 228.2L57.8 226.4L55.2 227.6Z" fill="#f3b23a" stroke="#f3b23a"/><path d="M58.3 229.4L60.8 228.2L57.8 226.4L55.2 227.6Z" class="e"/><path d="M72.1 229.4L74.6 228.2L71.5 226.4L69.0 227.6Z" fill="#f3b23a" stroke="#f3b23a"/><path d="M72.1 229.4L74.6 228.2L71.5 226.4L69.0 227.6Z" class="e"/><path d="M85.8 229.4L88.4 228.2L85.3 226.4L82.8 227.6Z" fill="#f3b23a" stroke="#f3b23a"/><path d="M85.8 229.4L88.4 228.2L85.3 226.4L82.8 227.6Z" class="e"/><path d="M99.6 229.4L102.1 228.2L99.1 226.5L96.5 227.6Z" fill="#f3b23a" stroke="#f3b23a"/><path d="M99.6 229.4L102.1 228.2L99.1 226.5L96.5 227.6Z" class="e"/><path d="M63.9 230.0L66.5 228.8L63.4 227.0L60.8 228.2Z" fill="#f3b23a" stroke="#f3b23a"/><path d="M63.9 230.0L66.5 228.8L63.4 227.0L60.8 228.2Z" class="e"/><path d="M77.7 230.0L80.2 228.8L77.1 227.0L74.6 228.2Z" fill="#f3b23a" stroke="#f3b23a"/><path d="M77.7 230.0L80.2 228.8L77.1 227.0L74.6 228.2Z" class="e"/><path d="M91.4 230.0L94.0 228.8L90.9 227.0L88.4 228.2Z" fill="#f3b23a" stroke="#f3b23a"/><path d="M91.4 230.0L94.0 228.8L90.9 227.0L88.4 228.2Z" class="e"/><path d="M105.2 230.0L107.7 228.8L104.7 227.1L102.1 228.2Z" fill="#f3b23a" stroke="#f3b23a"/><path d="M105.2 230.0L107.7 228.8L104.7 227.1L102.1 228.2Z" class="e"/><path d="M55.8 230.6L58.3 229.4L55.2 227.6L52.7 228.8Z" fill="#f3b23a" stroke="#f3b23a"/><path d="M55.8 230.6L58.3 229.4L55.2 227.6L52.7 228.8Z" class="e"/><path d="M69.5 246.9L72.1 229.4L69.0 227.6L66.5 228.8Z" fill="#2b95e6" stroke="#2b95e6"/><path d="M69.5 246.9L72.1 229.4L69.0 227.6L66.5 228.8Z" class="e"/><path d="M83.3 230.6L85.8 229.4L82.8 227.6L80.2 228.8Z" fill="#f3b23a" stroke="#f3b23a"/><path d="M83.3 230.6L85.8 229.4L82.8 227.6L80.2 228.8Z" class="e"/><path d="M97.0 230.6L99.6 229.4L96.5 227.6L94.0 228.8Z" fill="#f3b23a" stroke="#f3b23a"/><path d="M97.0 230.6L99.6 229.4L96.5 227.6L94.0 228.8Z" class="e"/><path d="M110.8 230.6L113.3 229.4L110.3 227.7L107.7 228.8Z" fill="#f3b23a" stroke="#f3b23a"/><path d="M110.8 230.6L113.3 229.4L110.3 227.7L107.7 228.8Z" class="e"/><path d="M61.4 231.2L63.9 230.0L60.8 228.2L58.3 229.4Z" fill="#f3b23a" stroke="#f3b23a"/><path d="M61.4 231.2L63.9 230.0L60.8 228.2L58.3 229.4Z" class="e"/><path d="M75.1 231.2L77.7 230.0L74.6 228.2L72.1 229.4Z" fill="#f3b23a" stroke="#f3b23a"/><path d="M75.1 231.2L77.7 230.0L74.6 228.2L72.1 229.4Z" class="e"/><path d="M88.9 231.2L91.4 230.0L88.4 228.2L85.8 229.4Z" fill="#f3b23a" stroke="#f3b23a"/><path d="M88.9 231.2L91.4 230.0L88.4 228.2L85.8 229.4Z" class="e"/><path d="M102.7 238.4L105.2 230.0L102.1 228.2L99.6 229.4Z" fill="#72c452" stroke="#72c452"/><path d="M102.7 238.4L105.2 230.0L102.1 228.2L99.6 229.4Z" class="e"/><path d="M53.2 231.8L55.8 230.6L52.7 228.8L50.2 230.0Z" fill="#f3b23a" stroke="#f3b23a"/><path d="M53.2 231.8L55.8 230.6L52.7 228.8L50.2 230.0Z" class="e"/><path d="M67.0 248.1L69.5 246.9L66.5 228.8L63.9 230.0Z" fill="#2b95e6" stroke="#2b95e6"/><path d="M67.0 248.1L69.5 246.9L66.5 228.8L63.9 230.0Z" class="e"/><path d="M80.7 231.8L83.3 230.6L80.2 228.8L77.7 230.0Z" fill="#f3b23a" stroke="#f3b23a"/><path d="M80.7 231.8L83.3 230.6L80.2 228.8L77.7 230.0Z" class="e"/><path d="M94.5 231.8L97.0 230.6L94.0 228.8L91.4 230.0Z" fill="#f3b23a" stroke="#f3b23a"/><path d="M94.5 231.8L97.0 230.6L94.0 228.8L91.4 230.0Z" class="e"/><path d="M108.3 231.8L110.8 230.6L107.7 228.8L105.2 230.0Z" fill="#f3b23a" stroke="#f3b23a"/><path d="M108.3 231.8L110.8 230.6L107.7 228.8L105.2 230.0Z" class="e"/><path d="M58.8 232.4L61.4 231.2L58.3 229.4L55.8 230.6Z" fill="#f3b23a" stroke="#f3b23a"/><path d="M58.8 232.4L61.4 231.2L58.3 229.4L55.8 230.6Z" class="e"/><path d="M72.6 248.7L75.1 231.2L72.1 229.4L69.5 246.9Z" fill="#2b95e6" stroke="#2b95e6"/><path d="M72.6 248.7L75.1 231.2L72.1 229.4L69.5 246.9Z" class="e"/><path d="M86.4 232.4L88.9 231.2L85.8 229.4L83.3 230.6Z" fill="#f3b23a" stroke="#f3b23a"/><path d="M86.4 232.4L88.9 231.2L85.8 229.4L83.3 230.6Z" class="e"/><path d="M100.1 239.6L102.7 238.4L99.6 229.4L97.0 230.6Z" fill="#72c452" stroke="#72c452"/><path d="M100.1 239.6L102.7 238.4L99.6 229.4L97.0 230.6Z" class="e"/><path d="M113.9 232.4L116.4 231.2L113.3 229.4L110.8 230.6Z" fill="#f3b23a" stroke="#f3b23a"/><path d="M113.9 232.4L116.4 231.2L113.3 229.4L110.8 230.6Z" class="e"/><path d="M50.7 233.0L53.2 231.8L50.2 230.0L47.6 231.2Z" fill="#f3b23a" stroke="#f3b23a"/><path d="M50.7 233.0L53.2 231.8L50.2 230.0L47.6 231.2Z" class="e"/><path d="M64.4 249.3L67.0 248.1L63.9 230.0L61.4 231.2Z" fill="#2b95e6" stroke="#2b95e6"/><path d="M64.4 249.3L67.0 248.1L63.9 230.0L61.4 231.2Z" class="e"/><path d="M78.2 233.0L80.7 231.8L77.7 230.0L75.1 231.2Z" fill="#f3b23a" stroke="#f3b23a"/><path d="M78.2 233.0L80.7 231.8L77.7 230.0L75.1 231.2Z" class="e"/><path d="M92.0 233.0L94.5 231.8L91.4 230.0L88.9 231.2Z" fill="#f3b23a" stroke="#f3b23a"/><path d="M92.0 233.0L94.5 231.8L91.4 230.0L88.9 231.2Z" class="e"/><path d="M105.7 240.2L108.3 231.8L105.2 230.0L102.7 238.4Z" fill="#72c452" stroke="#72c452"/><path d="M105.7 240.2L108.3 231.8L105.2 230.0L102.7 238.4Z" class="e"/><path d="M56.3 233.6L58.8 232.4L55.8 230.6L53.2 231.8Z" fill="#f3b23a" stroke="#f3b23a"/><path d="M56.3 233.6L58.8 232.4L55.8 230.6L53.2 231.8Z" class="e"/><path d="M70.0 249.9L72.6 248.7L69.5 246.9L67.0 248.1Z" fill="#2b95e6" stroke="#2b95e6"/><path d="M70.0 249.9L72.6 248.7L69.5 246.9L67.0 248.1Z" class="e"/><path d="M83.8 233.6L86.4 232.4L83.3 230.6L80.7 231.8Z" fill="#f3b23a" stroke="#f3b23a"/><path d="M83.8 233.6L86.4 232.4L83.3 230.6L80.7 231.8Z" class="e"/><path d="M97.6 240.7L100.1 239.6L97.0 230.6L94.5 231.8Z" fill="#72c452" stroke="#72c452"/><path d="M97.6 240.7L100.1 239.6L97.0 230.6L94.5 231.8Z" class="e"/><path d="M111.3 233.6L113.9 232.4L110.8 230.6L108.3 231.8Z" fill="#f3b23a" stroke="#f3b23a"/><path d="M111.3 233.6L113.9 232.4L110.8 230.6L108.3 231.8Z" class="e"/><path d="M48.1 234.2L50.7 233.0L47.6 231.2L45.1 232.4Z" fill="#f3b23a" stroke="#f3b23a"/><path d="M48.1 234.2L50.7 233.0L47.6 231.2L45.1 232.4Z" class="e"/><path d="M61.9 250.5L64.4 249.3L61.4 231.2L58.8 232.4Z" fill="#2b95e6" stroke="#2b95e6"/><path d="M61.9 250.5L64.4 249.3L61.4 231.2L58.8 232.4Z" class="e"/><path d="M75.7 229.1L78.2 233.0L75.1 231.2L72.6 248.7Z" fill="#2b95e6" stroke="#2b95e6"/><path d="M75.7 229.1L78.2 233.0L75.1 231.2L72.6 248.7Z" class="e"/><path d="M89.4 234.2L92.0 233.0L88.9 231.2L86.4 232.4Z" fill="#f3b23a" stroke="#f3b23a"/><path d="M89.4 234.2L92.0 233.0L88.9 231.2L86.4 232.4Z" class="e"/><path d="M103.2 241.3L105.7 240.2L102.7 238.4L100.1 239.6Z" fill="#72c452" stroke="#72c452"/><path d="M103.2 241.3L105.7 240.2L102.7 238.4L100.1 239.6Z" class="e"/><path d="M116.9 234.2L119.5 233.0L116.4 231.2L113.9 232.4Z" fill="#f3b23a" stroke="#f3b23a"/><path d="M116.9 234.2L119.5 233.0L116.4 231.2L113.9 232.4Z" class="e"/><path d="M53.8 234.8L56.3 233.6L53.2 231.8L50.7 233.0Z" fill="#f3b23a" stroke="#f3b23a"/><path d="M53.8 234.8L56.3 233.6L53.2 231.8L50.7 233.0Z" class="e"/><path d="M67.5 251.1L70.0 249.9L67.0 248.1L64.4 249.3Z" fill="#2b95e6" stroke="#2b95e6"/><path d="M67.5 251.1L70.0 249.9L67.0 248.1L64.4 249.3Z" class="e"/><path d="M81.3 234.8L83.8 233.6L80.7 231.8L78.2 233.0Z" fill="#f3b23a" stroke="#f3b23a"/><path d="M81.3 234.8L83.8 233.6L80.7 231.8L78.2 233.0Z" class="e"/><path d="M95.0 241.9L97.6 240.7L94.5 231.8L92.0 233.0Z" fill="#72c452" stroke="#72c452"/><path d="M95.0 241.9L97.6 240.7L94.5 231.8L92.0 233.0Z" class="e"/><path d="M108.8 241.9L111.3 233.6L108.3 231.8L105.7 240.2Z" fill="#72c452" stroke="#72c452"/><path d="M108.8 241.9L111.3 233.6L108.3 231.8L105.7 240.2Z" class="e"/><path d="M45.6 235.4L48.1 234.2L45.1 232.4L42.5 233.6Z" fill="#f3b23a" stroke="#f3b23a"/><path d="M45.6 235.4L48.1 234.2L45.1 232.4L42.5 233.6Z" class="e"/><path d="M59.4 251.7L61.9 250.5L58.8 232.4L56.3 233.6Z" fill="#2b95e6" stroke="#2b95e6"/><path d="M59.4 251.7L61.9 250.5L58.8 232.4L56.3 233.6Z" class="e"/><path d="M73.1 251.7L75.7 229.1L72.6 248.7L70.0 249.9Z" fill="#2b95e6" stroke="#2b95e6"/><path d="M73.1 251.7L75.7 229.1L72.6 248.7L70.0 249.9Z" class="e"/><path d="M86.9 235.4L89.4 234.2L86.4 232.4L83.8 233.6Z" fill="#f3b23a" stroke="#f3b23a"/><path d="M86.9 235.4L89.4 234.2L86.4 232.4L83.8 233.6Z" class="e"/><path d="M100.6 242.5L103.2 241.3L100.1 239.6L97.6 240.7Z" fill="#72c452" stroke="#72c452"/><path d="M100.6 242.5L103.2 241.3L100.1 239.6L97.6 240.7Z" class="e"/><path d="M114.4 235.4L116.9 234.2L113.9 232.4L111.3 233.6Z" fill="#f3b23a" stroke="#f3b23a"/><path d="M114.4 235.4L116.9 234.2L113.9 232.4L111.3 233.6Z" class="e"/><path d="M51.2 236.0L53.8 234.8L50.7 233.0L48.1 234.2Z" fill="#f3b23a" stroke="#f3b23a"/><path d="M51.2 236.0L53.8 234.8L50.7 233.0L48.1 234.2Z" class="e"/><path d="M65.0 252.3L67.5 251.1L64.4 249.3L61.9 250.5Z" fill="#2b95e6" stroke="#2b95e6"/><path d="M65.0 252.3L67.5 251.1L64.4 249.3L61.9 250.5Z" class="e"/><path d="M78.7 230.9L81.3 234.8L78.2 233.0L75.7 229.1Z" fill="#2b95e6" stroke="#2b95e6"/><path d="M78.7 230.9L81.3 234.8L78.2 233.0L75.7 229.1Z" class="e"/><path d="M92.5 243.1L95.0 241.9L92.0 233.0L89.4 234.2Z" fill="#72c452" stroke="#72c452"/><path d="M92.5 243.1L95.0 241.9L92.0 233.0L89.4 234.2Z" class="e"/><path d="M106.2 243.1L108.8 241.9L105.7 240.2L103.2 241.3Z" fill="#72c452" stroke="#72c452"/><path d="M106.2 243.1L108.8 241.9L105.7 240.2L103.2 241.3Z" class="e"/><path d="M120.0 236.0L122.5 234.8L119.5 233.0L116.9 234.2Z" fill="#f3b23a" stroke="#f3b23a"/><path d="M120.0 236.0L122.5 234.8L119.5 233.0L116.9 234.2Z" class="e"/><path d="M43.1 236.5L45.6 235.4L42.5 233.6L40.0 234.8Z" fill="#f3b23a" stroke="#f3b23a"/><path d="M43.1 236.5L45.6 235.4L42.5 233.6L40.0 234.8Z" class="e"/><path d="M56.8 252.9L59.4 251.7L56.3 233.6L53.8 234.8Z" fill="#2b95e6" stroke="#2b95e6"/><path d="M56.8 252.9L59.4 251.7L56.3 233.6L53.8 234.8Z" class="e"/><path d="M70.6 252.9L73.1 251.7L70.0 249.9L67.5 251.1Z" fill="#2b95e6" stroke="#2b95e6"/><path d="M70.6 252.9L73.1 251.7L70.0 249.9L67.5 251.1Z" class="e"/><path d="M84.3 236.6L86.9 235.4L83.8 233.6L81.3 234.8Z" fill="#f3b23a" stroke="#f3b23a"/><path d="M84.3 236.6L86.9 235.4L83.8 233.6L81.3 234.8Z" class="e"/><path d="M98.1 243.7L100.6 242.5L97.6 240.7L95.0 241.9Z" fill="#72c452" stroke="#72c452"/><path d="M98.1 243.7L100.6 242.5L97.6 240.7L95.0 241.9Z" class="e"/><path d="M111.9 243.7L114.4 235.4L111.3 233.6L108.8 241.9Z" fill="#72c452" stroke="#72c452"/><path d="M111.9 243.7L114.4 235.4L111.3 233.6L108.8 241.9Z" class="e"/><path d="M48.7 237.2L51.2 236.0L48.1 234.2L45.6 235.4Z" fill="#f3b23a" stroke="#f3b23a"/><path d="M48.7 237.2L51.2 236.0L48.1 234.2L45.6 235.4Z" class="e"/><path d="M62.4 253.5L65.0 252.3L61.9 250.5L59.4 251.7Z" fill="#2b95e6" stroke="#2b95e6"/><path d="M62.4 253.5L65.0 252.3L61.9 250.5L59.4 251.7Z" class="e"/><path d="M76.2 253.5L78.7 230.9L75.7 229.1L73.1 251.7Z" fill="#2b95e6" stroke="#2b95e6"/><path d="M76.2 253.5L78.7 230.9L75.7 229.1L73.1 251.7Z" class="e"/><path d="M90.0 244.3L92.5 243.1L89.4 234.2L86.9 235.4Z" fill="#72c452" stroke="#72c452"/><path d="M90.0 244.3L92.5 243.1L89.4 234.2L86.9 235.4Z" class="e"/><path d="M103.7 244.3L106.2 243.1L103.2 241.3L100.6 242.5Z" fill="#72c452" stroke="#72c452"/><path d="M103.7 244.3L106.2 243.1L103.2 241.3L100.6 242.5Z" class="e"/><path d="M117.5 237.2L120.0 236.0L116.9 234.2L114.4 235.4Z" fill="#f3b23a" stroke="#f3b23a"/><path d="M117.5 237.2L120.0 236.0L116.9 234.2L114.4 235.4Z" class="e"/><path d="M54.3 254.1L56.8 252.9L53.8 234.8L51.2 236.0Z" fill="#2b95e6" stroke="#2b95e6"/><path d="M54.3 254.1L56.8 252.9L53.8 234.8L51.2 236.0Z" class="e"/><path d="M68.0 254.1L70.6 252.9L67.5 251.1L65.0 252.3Z" fill="#2b95e6" stroke="#2b95e6"/><path d="M68.0 254.1L70.6 252.9L67.5 251.1L65.0 252.3Z" class="e"/><path d="M81.8 254.1L84.3 236.6L81.3 234.8L78.7 230.9Z" fill="#2b95e6" stroke="#2b95e6"/><path d="M81.8 254.1L84.3 236.6L81.3 234.8L78.7 230.9Z" class="e"/><path d="M95.6 244.9L98.1 243.7L95.0 241.9L92.5 243.1Z" fill="#72c452" stroke="#72c452"/><path d="M95.6 244.9L98.1 243.7L95.0 241.9L92.5 243.1Z" class="e"/><path d="M109.3 244.9L111.9 243.7L108.8 241.9L106.2 243.1Z" fill="#72c452" stroke="#72c452"/><path d="M109.3 244.9L111.9 243.7L108.8 241.9L106.2 243.1Z" class="e"/><path d="M123.1 237.8L125.6 236.6L122.5 234.8L120.0 236.0Z" fill="#f3b23a" stroke="#f3b23a"/><path d="M123.1 237.8L125.6 236.6L122.5 234.8L120.0 236.0Z" class="e"/><path d="M46.1 238.3L48.7 237.2L45.6 235.4L43.1 236.5Z" fill="#f3b23a" stroke="#f3b23a"/><path d="M46.1 238.3L48.7 237.2L45.6 235.4L43.1 236.5Z" class="e"/><path d="M59.9 254.7L62.4 253.5L59.4 251.7L56.8 252.9Z" fill="#2b95e6" stroke="#2b95e6"/><path d="M59.9 254.7L62.4 253.5L59.4 251.7L56.8 252.9Z" class="e"/><path d="M73.7 254.7L76.2 253.5L73.1 251.7L70.6 252.9Z" fill="#2b95e6" stroke="#2b95e6"/><path d="M73.7 254.7L76.2 253.5L73.1 251.7L70.6 252.9Z" class="e"/><path d="M87.4 245.5L90.0 244.3L86.9 235.4L84.3 236.6Z" fill="#72c452" stroke="#72c452"/><path d="M87.4 245.5L90.0 244.3L86.9 235.4L84.3 236.6Z" class="e"/><path d="M101.2 245.5L103.7 244.3L100.6 242.5L98.1 243.7Z" fill="#72c452" stroke="#72c452"/><path d="M101.2 245.5L103.7 244.3L100.6 242.5L98.1 243.7Z" class="e"/><path d="M114.9 245.5L117.5 237.2L114.4 235.4L111.9 243.7Z" fill="#72c452" stroke="#72c452"/><path d="M114.9 245.5L117.5 237.2L114.4 235.4L111.9 243.7Z" class="e"/><path d="M51.7 238.9L54.3 254.1L51.2 236.0L48.7 237.2Z" fill="#f3b23a" stroke="#f3b23a"/><path d="M51.7 238.9L54.3 254.1L51.2 236.0L48.7 237.2Z" class="e"/><path d="M65.5 255.3L68.0 254.1L65.0 252.3L62.4 253.5Z" fill="#2b95e6" stroke="#2b95e6"/><path d="M65.5 255.3L68.0 254.1L65.0 252.3L62.4 253.5Z" class="e"/><path d="M79.3 255.3L81.8 254.1L78.7 230.9L76.2 253.5Z" fill="#2b95e6" stroke="#2b95e6"/><path d="M79.3 255.3L81.8 254.1L78.7 230.9L76.2 253.5Z" class="e"/><path d="M93.0 246.1L95.6 244.9L92.5 243.1L90.0 244.3Z" fill="#72c452" stroke="#72c452"/><path d="M93.0 246.1L95.6 244.9L92.5 243.1L90.0 244.3Z" class="e"/><path d="M106.8 246.1L109.3 244.9L106.2 243.1L103.7 244.3Z" fill="#72c452" stroke="#72c452"/><path d="M106.8 246.1L109.3 244.9L106.2 243.1L103.7 244.3Z" class="e"/><path d="M120.5 239.0L123.1 237.8L120.0 236.0L117.5 237.2Z" fill="#f3b23a" stroke="#f3b23a"/><path d="M120.5 239.0L123.1 237.8L120.0 236.0L117.5 237.2Z" class="e"/><path d="M57.4 255.9L59.9 254.7L56.8 252.9L54.3 254.1Z" fill="#2b95e6" stroke="#2b95e6"/><path d="M57.4 255.9L59.9 254.7L56.8 252.9L54.3 254.1Z" class="e"/><path d="M71.1 255.9L73.7 254.7L70.6 252.9L68.0 254.1Z" fill="#2b95e6" stroke="#2b95e6"/><path d="M71.1 255.9L73.7 254.7L70.6 252.9L68.0 254.1Z" class="e"/><path d="M84.9 255.9L87.4 245.5L84.3 236.6L81.8 254.1Z" fill="#2b95e6" stroke="#2b95e6"/><path d="M84.9 255.9L87.4 245.5L84.3 236.6L81.8 254.1Z" class="e"/><path d="M98.6 246.7L101.2 245.5L98.1 243.7L95.6 244.9Z" fill="#72c452" stroke="#72c452"/><path d="M98.6 246.7L101.2 245.5L98.1 243.7L95.6 244.9Z" class="e"/><path d="M112.4 246.7L114.9 245.5L111.9 243.7L109.3 244.9Z" fill="#72c452" stroke="#72c452"/><path d="M112.4 246.7L114.9 245.5L111.9 243.7L109.3 244.9Z" class="e"/><path d="M126.2 239.6L128.7 238.4L125.6 236.6L123.1 237.8Z" fill="#f3b23a" stroke="#f3b23a"/><path d="M126.2 239.6L128.7 238.4L125.6 236.6L123.1 237.8Z" class="e"/><path d="M49.2 240.1L51.7 238.9L48.7 237.2L46.1 238.3Z" fill="#f3b23a" stroke="#f3b23a"/><path d="M49.2 240.1L51.7 238.9L48.7 237.2L46.1 238.3Z" class="e"/><path d="M63.0 265.6L65.5 255.3L62.4 253.5L59.9 254.7Z" fill="#43239f" stroke="#43239f"/><path d="M63.0 265.6L65.5 255.3L62.4 253.5L59.9 254.7Z" class="e"/><path d="M76.7 256.5L79.3 255.3L76.2 253.5L73.7 254.7Z" fill="#2b95e6" stroke="#2b95e6"/><path d="M76.7 256.5L79.3 255.3L76.2 253.5L73.7 254.7Z" class="e"/><path d="M90.5 247.3L93.0 246.1L90.0 244.3L87.4 245.5Z" fill="#72c452" stroke="#72c452"/><path d="M90.5 247.3L93.0 246.1L90.0 244.3L87.4 245.5Z" class="e"/><path d="M104.2 247.3L106.8 246.1L103.7 244.3L101.2 245.5Z" fill="#72c452" stroke="#72c452"/><path d="M104.2 247.3L106.8 246.1L103.7 244.3L101.2 245.5Z" class="e"/><path d="M118.0 240.2L120.5 239.0L117.5 237.2L114.9 245.5Z" fill="#f3b23a" stroke="#f3b23a"/><path d="M118.0 240.2L120.5 239.0L117.5 237.2L114.9 245.5Z" class="e"/><path d="M54.8 240.7L57.4 255.9L54.3 254.1L51.7 238.9Z" fill="#f3b23a" stroke="#f3b23a"/><path d="M54.8 240.7L57.4 255.9L54.3 254.1L51.7 238.9Z" class="e"/><path d="M68.6 257.1L71.1 255.9L68.0 254.1L65.5 255.3Z" fill="#2b95e6" stroke="#2b95e6"/><path d="M68.6 257.1L71.1 255.9L68.0 254.1L65.5 255.3Z" class="e"/><path d="M82.3 257.1L84.9 255.9L81.8 254.1L79.3 255.3Z" fill="#2b95e6" stroke="#2b95e6"/><path d="M82.3 257.1L84.9 255.9L81.8 254.1L79.3 255.3Z" class="e"/><path d="M96.1 247.9L98.6 246.7L95.6 244.9L93.0 246.1Z" fill="#72c452" stroke="#72c452"/><path d="M96.1 247.9L98.6 246.7L95.6 244.9L93.0 246.1Z" class="e"/><path d="M109.9 247.9L112.4 246.7L109.3 244.9L106.8 246.1Z" fill="#72c452" stroke="#72c452"/><path d="M109.9 247.9L112.4 246.7L109.3 244.9L106.8 246.1Z" class="e"/><path d="M123.6 240.8L126.2 239.6L123.1 237.8L120.5 239.0Z" fill="#f3b23a" stroke="#f3b23a"/><path d="M123.6 240.8L126.2 239.6L123.1 237.8L120.5 239.0Z" class="e"/><path d="M60.4 266.8L63.0 265.6L59.9 254.7L57.4 255.9Z" fill="#43239f" stroke="#43239f"/><path d="M60.4 266.8L63.0 265.6L59.9 254.7L57.4 255.9Z" class="e"/><path d="M74.2 257.7L76.7 256.5L73.7 254.7L71.1 255.9Z" fill="#2b95e6" stroke="#2b95e6"/><path d="M74.2 257.7L76.7 256.5L73.7 254.7L71.1 255.9Z" class="e"/><path d="M87.9 248.5L90.5 247.3L87.4 245.5L84.9 255.9Z" fill="#72c452" stroke="#72c452"/><path d="M87.9 248.5L90.5 247.3L87.4 245.5L84.9 255.9Z" class="e"/><path d="M101.7 248.5L104.2 247.3L101.2 245.5L98.6 246.7Z" fill="#72c452" stroke="#72c452"/><path d="M101.7 248.5L104.2 247.3L101.2 245.5L98.6 246.7Z" class="e"/><path d="M115.5 241.4L118.0 240.2L114.9 245.5L112.4 246.7Z" fill="#f3b23a" stroke="#f3b23a"/><path d="M115.5 241.4L118.0 240.2L114.9 245.5L112.4 246.7Z" class="e"/><path d="M52.3 241.9L54.8 240.7L51.7 238.9L49.2 240.1Z" fill="#f3b23a" stroke="#f3b23a"/><path d="M52.3 241.9L54.8 240.7L51.7 238.9L49.2 240.1Z" class="e"/><path d="M66.0 267.4L68.6 257.1L65.5 255.3L63.0 265.6Z" fill="#43239f" stroke="#43239f"/><path d="M66.0 267.4L68.6 257.1L65.5 255.3L63.0 265.6Z" class="e"/><path d="M79.8 258.3L82.3 257.1L79.3 255.3L76.7 256.5Z" fill="#2b95e6" stroke="#2b95e6"/><path d="M79.8 258.3L82.3 257.1L79.3 255.3L76.7 256.5Z" class="e"/><path d="M93.6 249.1L96.1 247.9L93.0 246.1L90.5 247.3Z" fill="#72c452" stroke="#72c452"/><path d="M93.6 249.1L96.1 247.9L93.0 246.1L90.5 247.3Z" class="e"/><path d="M107.3 249.1L109.9 247.9L106.8 246.1L104.2 247.3Z" fill="#72c452" stroke="#72c452"/><path d="M107.3 249.1L109.9 247.9L106.8 246.1L104.2 247.3Z" class="e"/><path d="M121.1 242.0L123.6 240.8L120.5 239.0L118.0 240.2Z" fill="#f3b23a" stroke="#f3b23a"/><path d="M121.1 242.0L123.6 240.8L120.5 239.0L118.0 240.2Z" class="e"/><path d="M57.9 242.5L60.4 266.8L57.4 255.9L54.8 240.7Z" fill="#f3b23a" stroke="#f3b23a"/><path d="M57.9 242.5L60.4 266.8L57.4 255.9L54.8 240.7Z" class="e"/><path d="M71.6 258.9L74.2 257.7L71.1 255.9L68.6 257.1Z" fill="#2b95e6" stroke="#2b95e6"/><path d="M71.6 258.9L74.2 257.7L71.1 255.9L68.6 257.1Z" class="e"/><path d="M85.4 249.7L87.9 248.5L84.9 255.9L82.3 257.1Z" fill="#72c452" stroke="#72c452"/><path d="M85.4 249.7L87.9 248.5L84.9 255.9L82.3 257.1Z" class="e"/><path d="M99.2 249.7L101.7 248.5L98.6 246.7L96.1 247.9Z" fill="#72c452" stroke="#72c452"/><path d="M99.2 249.7L101.7 248.5L98.6 246.7L96.1 247.9Z" class="e"/><path d="M112.9 242.6L115.5 241.4L112.4 246.7L109.9 247.9Z" fill="#f3b23a" stroke="#f3b23a"/><path d="M112.9 242.6L115.5 241.4L112.4 246.7L109.9 247.9Z" class="e"/><path d="M63.5 268.6L66.0 267.4L63.0 265.6L60.4 266.8Z" fill="#43239f" stroke="#43239f"/><path d="M63.5 268.6L66.0 267.4L63.0 265.6L60.4 266.8Z" class="e"/><path d="M77.2 259.5L79.8 258.3L76.7 256.5L74.2 257.7Z" fill="#2b95e6" stroke="#2b95e6"/><path d="M77.2 259.5L79.8 258.3L76.7 256.5L74.2 257.7Z" class="e"/><path d="M91.0 250.3L93.6 249.1L90.5 247.3L87.9 248.5Z" fill="#72c452" stroke="#72c452"/><path d="M91.0 250.3L93.6 249.1L90.5 247.3L87.9 248.5Z" class="e"/><path d="M104.8 250.3L107.3 249.1L104.2 247.3L101.7 248.5Z" fill="#72c452" stroke="#72c452"/><path d="M104.8 250.3L107.3 249.1L104.2 247.3L101.7 248.5Z" class="e"/><path d="M118.5 243.2L121.1 242.0L118.0 240.2L115.5 241.4Z" fill="#f3b23a" stroke="#f3b23a"/><path d="M118.5 243.2L121.1 242.0L118.0 240.2L115.5 241.4Z" class="e"/><path d="M55.3 243.7L57.9 242.5L54.8 240.7L52.3 241.9Z" fill="#f3b23a" stroke="#f3b23a"/><path d="M55.3 243.7L57.9 242.5L54.8 240.7L52.3 241.9Z" class="e"/><path d="M69.1 250.9L71.6 258.9L68.6 257.1L66.0 267.4Z" fill="#72c452" stroke="#72c452"/><path d="M69.1 250.9L71.6 258.9L68.6 257.1L66.0 267.4Z" class="e"/><path d="M82.9 250.9L85.4 249.7L82.3 257.1L79.8 258.3Z" fill="#72c452" stroke="#72c452"/><path d="M82.9 250.9L85.4 249.7L82.3 257.1L79.8 258.3Z" class="e"/><path d="M96.6 250.9L99.2 249.7L96.1 247.9L93.6 249.1Z" fill="#72c452" stroke="#72c452"/><path d="M96.6 250.9L99.2 249.7L96.1 247.9L93.6 249.1Z" class="e"/><path d="M110.4 243.7L112.9 242.6L109.9 247.9L107.3 249.1Z" fill="#f3b23a" stroke="#f3b23a"/><path d="M110.4 243.7L112.9 242.6L109.9 247.9L107.3 249.1Z" class="e"/><path d="M61.0 244.3L63.5 268.6L60.4 266.8L57.9 242.5Z" fill="#f3b23a" stroke="#f3b23a"/><path d="M61.0 244.3L63.5 268.6L60.4 266.8L57.9 242.5Z" class="e"/><path d="M74.7 260.6L77.2 259.5L74.2 257.7L71.6 258.9Z" fill="#2b95e6" stroke="#2b95e6"/><path d="M74.7 260.6L77.2 259.5L74.2 257.7L71.6 258.9Z" class="e"/><path d="M88.5 251.5L91.0 250.3L87.9 248.5L85.4 249.7Z" fill="#72c452" stroke="#72c452"/><path d="M88.5 251.5L91.0 250.3L87.9 248.5L85.4 249.7Z" class="e"/><path d="M102.2 251.5L104.8 250.3L101.7 248.5L99.2 249.7Z" fill="#72c452" stroke="#72c452"/><path d="M102.2 251.5L104.8 250.3L101.7 248.5L99.2 249.7Z" class="e"/><path d="M116.0 244.3L118.5 243.2L115.5 241.4L112.9 242.6Z" fill="#f3b23a" stroke="#f3b23a"/><path d="M116.0 244.3L118.5 243.2L115.5 241.4L112.9 242.6Z" class="e"/><path d="M66.6 252.0L69.1 250.9L66.0 267.4L63.5 268.6Z" fill="#72c452" stroke="#72c452"/><path d="M66.6 252.0L69.1 250.9L66.0 267.4L63.5 268.6Z" class="e"/><path d="M80.3 252.1L82.9 250.9L79.8 258.3L77.2 259.5Z" fill="#72c452" stroke="#72c452"/><path d="M80.3 252.1L82.9 250.9L79.8 258.3L77.2 259.5Z" class="e"/><path d="M94.1 252.1L96.6 250.9L93.6 249.1L91.0 250.3Z" fill="#72c452" stroke="#72c452"/><path d="M94.1 252.1L96.6 250.9L93.6 249.1L91.0 250.3Z" class="e"/><path d="M107.8 244.9L110.4 243.7L107.3 249.1L104.8 250.3Z" fill="#f3b23a" stroke="#f3b23a"/><path d="M107.8 244.9L110.4 243.7L107.3 249.1L104.8 250.3Z" class="e"/><path d="M58.4 245.5L61.0 244.3L57.9 242.5L55.3 243.7Z" fill="#f3b23a" stroke="#f3b23a"/><path d="M58.4 245.5L61.0 244.3L57.9 242.5L55.3 243.7Z" class="e"/><path d="M72.2 252.7L74.7 260.6L71.6 258.9L69.1 250.9Z" fill="#72c452" stroke="#72c452"/><path d="M72.2 252.7L74.7 260.6L71.6 258.9L69.1 250.9Z" class="e"/><path d="M85.9 252.7L88.5 251.5L85.4 249.7L82.9 250.9Z" fill="#72c452" stroke="#72c452"/><path d="M85.9 252.7L88.5 251.5L85.4 249.7L82.9 250.9Z" class="e"/><path d="M99.7 252.7L102.2 251.5L99.2 249.7L96.6 250.9Z" fill="#72c452" stroke="#72c452"/><path d="M99.7 252.7L102.2 251.5L99.2 249.7L96.6 250.9Z" class="e"/><path d="M113.5 245.5L116.0 244.3L112.9 242.6L110.4 243.7Z" fill="#f3b23a" stroke="#f3b23a"/><path d="M113.5 245.5L116.0 244.3L112.9 242.6L110.4 243.7Z" class="e"/><path d="M64.0 246.1L66.6 252.0L63.5 268.6L61.0 244.3Z" fill="#f3b23a" stroke="#f3b23a"/><path d="M64.0 246.1L66.6 252.0L63.5 268.6L61.0 244.3Z" class="e"/><path d="M77.8 253.2L80.3 252.1L77.2 259.5L74.7 260.6Z" fill="#72c452" stroke="#72c452"/><path d="M77.8 253.2L80.3 252.1L77.2 259.5L74.7 260.6Z" class="e"/><path d="M91.5 253.3L94.1 252.1L91.0 250.3L88.5 251.5Z" fill="#72c452" stroke="#72c452"/><path d="M91.5 253.3L94.1 252.1L91.0 250.3L88.5 251.5Z" class="e"/><path d="M105.3 246.1L107.8 244.9L104.8 250.3L102.2 251.5Z" fill="#f3b23a" stroke="#f3b23a"/><path d="M105.3 246.1L107.8 244.9L104.8 250.3L102.2 251.5Z" class="e"/><path d="M69.6 253.8L72.2 252.7L69.1 250.9L66.6 252.0Z" fill="#72c452" stroke="#72c452"/><path d="M69.6 253.8L72.2 252.7L69.1 250.9L66.6 252.0Z" class="e"/><path d="M83.4 253.8L85.9 252.7L82.9 250.9L80.3 252.1Z" fill="#72c452" stroke="#72c452"/><path d="M83.4 253.8L85.9 252.7L82.9 250.9L80.3 252.1Z" class="e"/><path d="M97.2 253.9L99.7 252.7L96.6 250.9L94.1 252.1Z" fill="#72c452" stroke="#72c452"/><path d="M97.2 253.9L99.7 252.7L96.6 250.9L94.1 252.1Z" class="e"/><path d="M110.9 246.7L113.5 245.5L110.4 243.7L107.8 244.9Z" fill="#f3b23a" stroke="#f3b23a"/><path d="M110.9 246.7L113.5 245.5L110.4 243.7L107.8 244.9Z" class="e"/><path d="M61.5 247.3L64.0 246.1L61.0 244.3L58.4 245.5Z" fill="#f3b23a" stroke="#f3b23a"/><path d="M61.5 247.3L64.0 246.1L61.0 244.3L58.4 245.5Z" class="e"/><path d="M75.2 254.4L77.8 253.2L74.7 260.6L72.2 252.7Z" fill="#72c452" stroke="#72c452"/><path d="M75.2 254.4L77.8 253.2L74.7 260.6L72.2 252.7Z" class="e"/><path d="M89.0 254.4L91.5 253.3L88.5 251.5L85.9 252.7Z" fill="#72c452" stroke="#72c452"/><path d="M89.0 254.4L91.5 253.3L88.5 251.5L85.9 252.7Z" class="e"/><path d="M102.8 247.3L105.3 246.1L102.2 251.5L99.7 252.7Z" fill="#f3b23a" stroke="#f3b23a"/><path d="M102.8 247.3L105.3 246.1L102.2 251.5L99.7 252.7Z" class="e"/><path d="M67.1 247.9L69.6 253.8L66.6 252.0L64.0 246.1Z" fill="#f3b23a" stroke="#f3b23a"/><path d="M67.1 247.9L69.6 253.8L66.6 252.0L64.0 246.1Z" class="e"/><path d="M80.9 255.0L83.4 253.8L80.3 252.1L77.8 253.2Z" fill="#72c452" stroke="#72c452"/><path d="M80.9 255.0L83.4 253.8L80.3 252.1L77.8 253.2Z" class="e"/><path d="M94.6 255.0L97.2 253.9L94.1 252.1L91.5 253.3Z" fill="#72c452" stroke="#72c452"/><path d="M94.6 255.0L97.2 253.9L94.1 252.1L91.5 253.3Z" class="e"/><path d="M108.4 247.9L110.9 246.7L107.8 244.9L105.3 246.1Z" fill="#f3b23a" stroke="#f3b23a"/><path d="M108.4 247.9L110.9 246.7L107.8 244.9L105.3 246.1Z" class="e"/><path d="M72.7 255.6L75.2 254.4L72.2 252.7L69.6 253.8Z" fill="#72c452" stroke="#72c452"/><path d="M72.7 255.6L75.2 254.4L72.2 252.7L69.6 253.8Z" class="e"/><path d="M86.5 255.6L89.0 254.4L85.9 252.7L83.4 253.8Z" fill="#72c452" stroke="#72c452"/><path d="M86.5 255.6L89.0 254.4L85.9 252.7L83.4 253.8Z" class="e"/><path d="M100.2 248.5L102.8 247.3L99.7 252.7L97.2 253.9Z" fill="#f3b23a" stroke="#f3b23a"/><path d="M100.2 248.5L102.8 247.3L99.7 252.7L97.2 253.9Z" class="e"/><path d="M64.6 249.1L67.1 247.9L64.0 246.1L61.5 247.3Z" fill="#f3b23a" stroke="#f3b23a"/><path d="M64.6 249.1L67.1 247.9L64.0 246.1L61.5 247.3Z" class="e"/><path d="M78.3 256.2L80.9 255.0L77.8 253.2L75.2 254.4Z" fill="#72c452" stroke="#72c452"/><path d="M78.3 256.2L80.9 255.0L77.8 253.2L75.2 254.4Z" class="e"/><path d="M92.1 256.2L94.6 255.0L91.5 253.3L89.0 254.4Z" fill="#72c452" stroke="#72c452"/><path d="M92.1 256.2L94.6 255.0L91.5 253.3L89.0 254.4Z" class="e"/><path d="M105.8 249.1L108.4 247.9L105.3 246.1L102.8 247.3Z" fill="#f3b23a" stroke="#f3b23a"/><path d="M105.8 249.1L108.4 247.9L105.3 246.1L102.8 247.3Z" class="e"/><path d="M70.2 249.7L72.7 255.6L69.6 253.8L67.1 247.9Z" fill="#f3b23a" stroke="#f3b23a"/><path d="M70.2 249.7L72.7 255.6L69.6 253.8L67.1 247.9Z" class="e"/><path d="M83.9 256.8L86.5 255.6L83.4 253.8L80.9 255.0Z" fill="#72c452" stroke="#72c452"/><path d="M83.9 256.8L86.5 255.6L83.4 253.8L80.9 255.0Z" class="e"/><path d="M97.7 249.7L100.2 248.5L97.2 253.9L94.6 255.0Z" fill="#f3b23a" stroke="#f3b23a"/><path d="M97.7 249.7L100.2 248.5L97.2 253.9L94.6 255.0Z" class="e"/><path d="M75.8 257.4L78.3 256.2L75.2 254.4L72.7 255.6Z" fill="#72c452" stroke="#72c452"/><path d="M75.8 257.4L78.3 256.2L75.2 254.4L72.7 255.6Z" class="e"/><path d="M89.5 257.4L92.1 256.2L89.0 254.4L86.5 255.6Z" fill="#72c452" stroke="#72c452"/><path d="M89.5 257.4L92.1 256.2L89.0 254.4L86.5 255.6Z" class="e"/><path d="M103.3 250.3L105.8 249.1L102.8 247.3L100.2 248.5Z" fill="#f3b23a" stroke="#f3b23a"/><path d="M103.3 250.3L105.8 249.1L102.8 247.3L100.2 248.5Z" class="e"/><path d="M67.6 250.9L70.2 249.7L67.1 247.9L64.6 249.1Z" fill="#f3b23a" stroke="#f3b23a"/><path d="M67.6 250.9L70.2 249.7L67.1 247.9L64.6 249.1Z" class="e"/><path d="M81.4 258.0L83.9 256.8L80.9 255.0L78.3 256.2Z" fill="#72c452" stroke="#72c452"/><path d="M81.4 258.0L83.9 256.8L80.9 255.0L78.3 256.2Z" class="e"/><path d="M95.1 250.9L97.7 249.7L94.6 255.0L92.1 256.2Z" fill="#f3b23a" stroke="#f3b23a"/><path d="M95.1 250.9L97.7 249.7L94.6 255.0L92.1 256.2Z" class="e"/><path d="M73.2 251.5L75.8 257.4L72.7 255.6L70.2 249.7Z" fill="#f3b23a" stroke="#f3b23a"/><path d="M73.2 251.5L75.8 257.4L72.7 255.6L70.2 249.7Z" class="e"/><path d="M87.0 258.6L89.5 257.4L86.5 255.6L83.9 256.8Z" fill="#72c452" stroke="#72c452"/><path d="M87.0 258.6L89.5 257.4L86.5 255.6L83.9 256.8Z" class="e"/><path d="M100.8 251.5L103.3 250.3L100.2 248.5L97.7 249.7Z" fill="#f3b23a" stroke="#f3b23a"/><path d="M100.8 251.5L103.3 250.3L100.2 248.5L97.7 249.7Z" class="e"/><path d="M78.8 259.2L81.4 258.0L78.3 256.2L75.8 257.4Z" fill="#72c452" stroke="#72c452"/><path d="M78.8 259.2L81.4 258.0L78.3 256.2L75.8 257.4Z" class="e"/><path d="M92.6 252.1L95.1 250.9L92.1 256.2L89.5 257.4Z" fill="#f3b23a" stroke="#f3b23a"/><path d="M92.6 252.1L95.1 250.9L92.1 256.2L89.5 257.4Z" class="e"/><path d="M70.7 252.7L73.2 251.5L70.2 249.7L67.6 250.9Z" fill="#f3b23a" stroke="#f3b23a"/><path d="M70.7 252.7L73.2 251.5L70.2 249.7L67.6 250.9Z" class="e"/><path d="M84.5 259.8L87.0 258.6L83.9 256.8L81.4 258.0Z" fill="#72c452" stroke="#72c452"/><path d="M84.5 259.8L87.0 258.6L83.9 256.8L81.4 258.0Z" class="e"/><path d="M98.2 252.7L100.8 251.5L97.7 249.7L95.1 250.9Z" fill="#f3b23a" stroke="#f3b23a"/><path d="M98.2 252.7L100.8 251.5L97.7 249.7L95.1 250.9Z" class="e"/><path d="M76.3 253.3L78.8 259.2L75.8 257.4L73.2 251.5Z" fill="#f3b23a" stroke="#f3b23a"/><path d="M76.3 253.3L78.8 259.2L75.8 257.4L73.2 251.5Z" class="e"/><path d="M90.1 253.3L92.6 252.1L89.5 257.4L87.0 258.6Z" fill="#f3b23a" stroke="#f3b23a"/><path d="M90.1 253.3L92.6 252.1L89.5 257.4L87.0 258.6Z" class="e"/><path d="M81.9 261.0L84.5 259.8L81.4 258.0L78.8 259.2Z" fill="#72c452" stroke="#72c452"/><path d="M81.9 261.0L84.5 259.8L81.4 258.0L78.8 259.2Z" class="e"/><path d="M95.7 253.9L98.2 252.7L95.1 250.9L92.6 252.1Z" fill="#f3b23a" stroke="#f3b23a"/><path d="M95.7 253.9L98.2 252.7L95.1 250.9L92.6 252.1Z" class="e"/><path d="M73.8 254.4L76.3 253.3L73.2 251.5L70.7 252.7Z" fill="#f3b23a" stroke="#f3b23a"/><path d="M73.8 254.4L76.3 253.3L73.2 251.5L70.7 252.7Z" class="e"/><path d="M87.5 254.5L90.1 253.3L87.0 258.6L84.5 259.8Z" fill="#f3b23a" stroke="#f3b23a"/><path d="M87.5 254.5L90.1 253.3L87.0 258.6L84.5 259.8Z" class="e"/><path d="M79.4 255.0L81.9 261.0L78.8 259.2L76.3 253.3Z" fill="#f3b23a" stroke="#f3b23a"/><path d="M79.4 255.0L81.9 261.0L78.8 259.2L76.3 253.3Z" class="e"/><path d="M93.1 255.1L95.7 253.9L92.6 252.1L90.1 253.3Z" fill="#f3b23a" stroke="#f3b23a"/><path d="M93.1 255.1L95.7 253.9L92.6 252.1L90.1 253.3Z" class="e"/><path d="M85.0 255.7L87.5 254.5L84.5 259.8L81.9 261.0Z" fill="#f3b23a" stroke="#f3b23a"/><path d="M85.0 255.7L87.5 254.5L84.5 259.8L81.9 261.0Z" class="e"/><path d="M76.8 256.2L79.4 255.0L76.3 253.3L73.8 254.4Z" fill="#f3b23a" stroke="#f3b23a"/><path d="M76.8 256.2L79.4 255.0L76.3 253.3L73.8 254.4Z" class="e"/><path d="M90.6 256.2L93.1 255.1L90.1 253.3L87.5 254.5Z" fill="#f3b23a" stroke="#f3b23a"/><path d="M90.6 256.2L93.1 255.1L90.1 253.3L87.5 254.5Z" class="e"/><path d="M82.4 256.8L85.0 255.7L81.9 261.0L79.4 255.0Z" fill="#f3b23a" stroke="#f3b23a"/><path d="M82.4 256.8L85.0 255.7L81.9 261.0L79.4 255.0Z" class="e"/><path d="M88.1 257.4L90.6 256.2L87.5 254.5L85.0 255.7Z" fill="#f3b23a" stroke="#f3b23a"/><path d="M88.1 257.4L90.6 256.2L87.5 254.5L85.0 255.7Z" class="e"/><path d="M79.9 258.0L82.4 256.8L79.4 255.0L76.8 256.2Z" fill="#f3b23a" stroke="#f3b23a"/><path d="M79.9 258.0L82.4 256.8L79.4 255.0L76.8 256.2Z" class="e"/><path d="M85.5 258.6L88.1 257.4L85.0 255.7L82.4 256.8Z" fill="#f3b23a" stroke="#f3b23a"/><path d="M85.5 258.6L88.1 257.4L85.0 255.7L82.4 256.8Z" class="e"/><path d="M83.0 259.8L85.5 258.6L82.4 256.8L79.9 258.0Z" fill="#f3b23a" stroke="#f3b23a"/><path d="M83.0 259.8L85.5 258.6L82.4 256.8L79.9 258.0Z" class="e"/></g>
<text x="35.25" y="268.15" font-family="Liberation Serif, serif" font-weight="bold" font-size="4.6" text-anchor="end" fill="#111">1.01424</text>
<text x="35.25" y="257.95" font-family="Liberation Serif, serif" font-weight="bold" font-size="4.6" text-anchor="end" fill="#111">1.01426</text>
<text x="35.25" y="247.75" font-family="Liberation Serif, serif" font-weight="bold" font-size="4.6" text-anchor="end" fill="#111">1.01428</text>
<text x="35.25" y="237.55" font-family="Liberation Serif, serif" font-weight="bold" font-size="4.6" text-anchor="end" fill="#111">1.0143</text>
<text x="35.25" y="227.35" font-family="Liberation Serif, serif" font-weight="bold" font-size="4.6" text-anchor="end" fill="#111">1.01432</text>
<text x="87.80" y="299.40" font-family="Liberation Serif, serif" font-weight="bold" font-size="4.8999999999999995" text-anchor="middle" fill="#111">0</text>
<text x="113.20" y="287.50" font-family="Liberation Serif, serif" font-weight="bold" font-size="4.8999999999999995" text-anchor="middle" fill="#111">10</text>
<text x="138.60" y="275.60" font-family="Liberation Serif, serif" font-weight="bold" font-size="4.8999999999999995" text-anchor="middle" fill="#111">20</text>
<text x="78.80" y="299.70" font-family="Liberation Serif, serif" font-weight="bold" font-size="4.8999999999999995" text-anchor="middle" fill="#111">0</text>
<text x="63.45" y="290.75" font-family="Liberation Serif, serif" font-weight="bold" font-size="4.8999999999999995" text-anchor="middle" fill="#111">5</text>
<text x="48.10" y="281.80" font-family="Liberation Serif, serif" font-weight="bold" font-size="4.8999999999999995" text-anchor="middle" fill="#111">10</text>
<text x="32.75" y="272.85" font-family="Liberation Serif, serif" font-weight="bold" font-size="4.8999999999999995" text-anchor="middle" fill="#111">15</text>
<text x="109.7" y="299.9" font-family="Liberation Serif, serif" font-weight="bold" font-size="6" text-anchor="middle" fill="#222">X</text>
<text x="57.4" y="299.9" font-family="Liberation Serif, serif" font-weight="bold" font-size="6" text-anchor="middle" fill="#222">Y</text>
<text transform="translate(16.5,246.9) rotate(-90)" font-family="Liberation Serif, serif" font-weight="bold" font-size="5.2" text-anchor="middle" textLength="41.7" lengthAdjust="spacingAndGlyphs" fill="#222">Absolute Pressure</text>
<text x="26" y="214.6" font-family="Liberation Serif, serif" font-size="5.6" fill="#333">×10<tspan dy="-2" font-size="3.6">5</tspan></text>
<path d="M220.60 293.00L177.40 264.69M177.40 264.69L177.40 230.91M231.20 285.93L188.00 257.62M188.00 257.62L188.00 223.84M241.80 278.85L198.60 250.55M198.60 250.55L198.60 216.77M252.40 271.77L209.20 243.47M209.20 243.47L209.20 209.69M263.00 264.70L219.80 236.39M219.80 236.39L219.80 202.61M220.60 293.00L263.00 264.70M263.00 264.70L263.00 230.92M206.20 283.56L248.60 255.26M248.60 255.26L248.60 221.48M191.80 274.13L234.20 245.83M234.20 245.83L234.20 212.05M177.40 264.69L219.80 236.39M219.80 236.39L219.80 202.61M177.40 264.69L219.80 236.39M219.80 236.39L263.00 264.70M177.40 253.44L219.80 225.13M219.80 225.13L263.00 253.44M177.40 242.17L219.80 213.87M219.80 213.87L263.00 242.18M177.40 230.91L219.80 202.61M219.80 202.61L263.00 230.92" stroke="#e2e2e2" stroke-width="0.5" fill="none"/>
<path d="M220.60 293.00L263.00 264.70M220.60 293.00L177.40 264.69M177.40 264.69L177.40 230.91" stroke="#a8a8a8" stroke-width="0.6" fill="none"/>
<g stroke-width="0.45" stroke-linejoin="round"><path d="M218.4 207.3L220.6 205.9L217.7 204.0L215.6 205.4Z" fill="#faf60c" stroke="#faf60c"/><path d="M218.4 207.3L220.6 205.9L217.7 204.0L215.6 205.4Z" class="e"/><path d="M216.3 208.7L218.4 207.3L215.6 205.4L213.4 206.9Z" fill="#faf60c" stroke="#faf60c"/><path d="M216.3 208.7L218.4 207.3L215.6 205.4L213.4 206.9Z" class="e"/><path d="M221.3 209.2L223.4 207.8L220.6 205.9L218.4 207.3Z" fill="#faf60c" stroke="#faf60c"/><path d="M221.3 209.2L223.4 207.8L220.6 205.9L218.4 207.3Z" class="e"/><path d="M214.2 210.2L216.3 208.7L213.4 206.9L211.3 208.3Z" fill="#faf60c" stroke="#faf60c"/><path d="M214.2 210.2L216.3 208.7L213.4 206.9L211.3 208.3Z" class="e"/><path d="M219.2 210.6L221.3 209.2L218.4 207.3L216.3 208.7Z" fill="#faf60c" stroke="#faf60c"/><path d="M219.2 210.6L221.3 209.2L218.4 207.3L216.3 208.7Z" class="e"/><path d="M224.2 211.1L226.3 209.7L223.4 207.8L221.3 209.2Z" fill="#faf60c" stroke="#faf60c"/><path d="M224.2 211.1L226.3 209.7L223.4 207.8L221.3 209.2Z" class="e"/><path d="M212.1 211.6L214.2 210.2L211.3 208.3L209.2 209.7Z" fill="#faf60c" stroke="#faf60c"/><path d="M212.1 211.6L214.2 210.2L211.3 208.3L209.2 209.7Z" class="e"/><path d="M217.1 212.0L219.2 210.6L216.3 208.7L214.2 210.2Z" fill="#faf60c" stroke="#faf60c"/><path d="M217.1 212.0L219.2 210.6L216.3 208.7L214.2 210.2Z" class="e"/><path d="M222.1 212.5L224.2 211.1L221.3 209.2L219.2 210.6Z" fill="#faf60c" stroke="#faf60c"/><path d="M222.1 212.5L224.2 211.1L221.3 209.2L219.2 210.6Z" class="e"/><path d="M210.0 213.0L212.1 211.6L209.2 209.7L207.1 211.1Z" fill="#faf60c" stroke="#faf60c"/><path d="M210.0 213.0L212.1 211.6L209.2 209.7L207.1 211.1Z" class="e"/><path d="M227.1 213.0L229.2 211.6L226.3 209.7L224.2 211.1Z" fill="#faf60c" stroke="#faf60c"/><path d="M227.1 213.0L229.2 211.6L226.3 209.7L224.2 211.1Z" class="e"/><path d="M215.0 213.5L217.1 212.0L214.2 210.2L212.1 211.6Z" fill="#faf60c" stroke="#faf60c"/><path d="M215.0 213.5L217.1 212.0L214.2 210.2L212.1 211.6Z" class="e"/><path d="M220.0 213.9L222.1 212.5L219.2 210.6L217.1 212.0Z" fill="#faf60c" stroke="#faf60c"/><path d="M220.0 213.9L222.1 212.5L219.2 210.6L217.1 212.0Z" class="e"/><path d="M207.8 214.4L210.0 213.0L207.1 211.1L205.0 212.5Z" fill="#faf60c" stroke="#faf60c"/><path d="M207.8 214.4L210.0 213.0L207.1 211.1L205.0 212.5Z" class="e"/><path d="M225.0 214.4L227.1 213.0L224.2 211.1L222.1 212.5Z" fill="#faf60c" stroke="#faf60c"/><path d="M225.0 214.4L227.1 213.0L224.2 211.1L222.1 212.5Z" class="e"/><path d="M212.8 214.9L215.0 213.5L212.1 211.6L210.0 213.0Z" fill="#faf60c" stroke="#faf60c"/><path d="M212.8 214.9L215.0 213.5L212.1 211.6L210.0 213.0Z" class="e"/><path d="M230.0 214.9L232.1 213.5L229.2 211.6L227.1 213.0Z" fill="#faf60c" stroke="#faf60c"/><path d="M230.0 214.9L232.1 213.5L229.2 211.6L227.1 213.0Z" class="e"/><path d="M217.8 215.4L220.0 213.9L217.1 212.0L215.0 213.5Z" fill="#faf60c" stroke="#faf60c"/><path d="M217.8 215.4L220.0 213.9L217.1 212.0L215.0 213.5Z" class="e"/><path d="M205.7 215.8L207.8 214.4L205.0 212.5L202.8 213.9Z" fill="#faf60c" stroke="#faf60c"/><path d="M205.7 215.8L207.8 214.4L205.0 212.5L202.8 213.9Z" class="e"/><path d="M222.8 215.8L225.0 214.4L222.1 212.5L220.0 213.9Z" fill="#faf60c" stroke="#faf60c"/><path d="M222.8 215.8L225.0 214.4L222.1 212.5L220.0 213.9Z" class="e"/><path d="M210.7 216.3L212.8 214.9L210.0 213.0L207.8 214.4Z" fill="#faf60c" stroke="#faf60c"/><path d="M210.7 216.3L212.8 214.9L210.0 213.0L207.8 214.4Z" class="e"/><path d="M227.8 216.3L230.0 214.9L227.1 213.0L225.0 214.4Z" fill="#faf60c" stroke="#faf60c"/><path d="M227.8 216.3L230.0 214.9L227.1 213.0L225.0 214.4Z" class="e"/><path d="M215.7 216.8L217.8 215.4L215.0 213.5L212.8 214.9Z" fill="#faf60c" stroke="#faf60c"/><path d="M215.7 216.8L217.8 215.4L215.0 213.5L212.8 214.9Z" class="e"/><path d="M232.8 216.8L235.0 215.4L232.1 213.5L230.0 214.9Z" fill="#faf60c" stroke="#faf60c"/><path d="M232.8 216.8L235.0 215.4L232.1 213.5L230.0 214.9Z" class="e"/><path d="M203.6 217.2L205.7 215.8L202.8 213.9L200.7 215.3Z" fill="#faf60c" stroke="#faf60c"/><path d="M203.6 217.2L205.7 215.8L202.8 213.9L200.7 215.3Z" class="e"/><path d="M220.7 217.2L222.8 215.8L220.0 213.9L217.8 215.4Z" fill="#faf60c" stroke="#faf60c"/><path d="M220.7 217.2L222.8 215.8L220.0 213.9L217.8 215.4Z" class="e"/><path d="M208.6 217.7L210.7 216.3L207.8 214.4L205.7 215.8Z" fill="#faf60c" stroke="#faf60c"/><path d="M208.6 217.7L210.7 216.3L207.8 214.4L205.7 215.8Z" class="e"/><path d="M225.7 217.7L227.8 216.3L225.0 214.4L222.8 215.8Z" fill="#faf60c" stroke="#faf60c"/><path d="M225.7 217.7L227.8 216.3L225.0 214.4L222.8 215.8Z" class="e"/><path d="M213.6 218.2L215.7 216.8L212.8 214.9L210.7 216.3Z" fill="#faf60c" stroke="#faf60c"/><path d="M213.6 218.2L215.7 216.8L212.8 214.9L210.7 216.3Z" class="e"/><path d="M230.7 218.2L232.8 216.8L230.0 214.9L227.8 216.3Z" fill="#faf60c" stroke="#faf60c"/><path d="M230.7 218.2L232.8 216.8L230.0 214.9L227.8 216.3Z" class="e"/><path d="M201.5 218.7L203.6 217.2L200.7 215.3L198.6 216.8Z" fill="#faf60c" stroke="#faf60c"/><path d="M201.5 218.7L203.6 217.2L200.7 215.3L198.6 216.8Z" class="e"/><path d="M218.6 218.7L220.7 217.2L217.8 215.4L215.7 216.8Z" fill="#faf60c" stroke="#faf60c"/><path d="M218.6 218.7L220.7 217.2L217.8 215.4L215.7 216.8Z" class="e"/><path d="M235.7 218.7L237.8 217.2L235.0 215.4L232.8 216.8Z" fill="#faf60c" stroke="#faf60c"/><path d="M235.7 218.7L237.8 217.2L235.0 215.4L232.8 216.8Z" class="e"/><path d="M206.5 219.1L208.6 217.7L205.7 215.8L203.6 217.2Z" fill="#faf60c" stroke="#faf60c"/><path d="M206.5 219.1L208.6 217.7L205.7 215.8L203.6 217.2Z" class="e"/><path d="M223.6 219.1L225.7 217.7L222.8 215.8L220.7 217.2Z" fill="#faf60c" stroke="#faf60c"/><path d="M223.6 219.1L225.7 217.7L222.8 215.8L220.7 217.2Z" class="e"/><path d="M211.5 219.6L213.6 218.2L210.7 216.3L208.6 217.7Z" fill="#faf60c" stroke="#faf60c"/><path d="M211.5 219.6L213.6 218.2L210.7 216.3L208.6 217.7Z" class="e"/><path d="M228.6 219.6L230.7 218.2L227.8 216.3L225.7 217.7Z" fill="#faf60c" stroke="#faf60c"/><path d="M228.6 219.6L230.7 218.2L227.8 216.3L225.7 217.7Z" class="e"/><path d="M199.4 220.1L201.5 218.7L198.6 216.8L196.5 218.2Z" fill="#faf60c" stroke="#faf60c"/><path d="M199.4 220.1L201.5 218.7L198.6 216.8L196.5 218.2Z" class="e"/><path d="M216.5 220.1L218.6 218.7L215.7 216.8L213.6 218.2Z" fill="#faf60c" stroke="#faf60c"/><path d="M216.5 220.1L218.6 218.7L215.7 216.8L213.6 218.2Z" class="e"/><path d="M233.6 220.1L235.7 218.7L232.8 216.8L230.7 218.2Z" fill="#faf60c" stroke="#faf60c"/><path d="M233.6 220.1L235.7 218.7L232.8 216.8L230.7 218.2Z" class="e"/><path d="M204.4 220.5L206.5 219.1L203.6 217.2L201.5 218.7Z" fill="#faf60c" stroke="#faf60c"/><path d="M204.4 220.5L206.5 219.1L203.6 217.2L201.5 218.7Z" class="e"/><path d="M221.5 220.5L223.6 219.1L220.7 217.2L218.6 218.7Z" fill="#faf60c" stroke="#faf60c"/><path d="M221.5 220.5L223.6 219.1L220.7 217.2L218.6 218.7Z" class="e"/><path d="M238.6 220.5L240.7 219.1L237.8 217.2L235.7 218.7Z" fill="#faf60c" stroke="#faf60c"/><path d="M238.6 220.5L240.7 219.1L237.8 217.2L235.7 218.7Z" class="e"/><path d="M209.4 221.0L211.5 219.6L208.6 217.7L206.5 219.1Z" fill="#faf60c" stroke="#faf60c"/><path d="M209.4 221.0L211.5 219.6L208.6 217.7L206.5 219.1Z" class="e"/><path d="M226.5 221.0L228.6 219.6L225.7 217.7L223.6 219.1Z" fill="#faf60c" stroke="#faf60c"/><path d="M226.5 221.0L228.6 219.6L225.7 217.7L223.6 219.1Z" class="e"/><path d="M197.2 221.5L199.4 220.1L196.5 218.2L194.4 219.6Z" fill="#faf60c" stroke="#faf60c"/><path d="M197.2 221.5L199.4 220.1L196.5 218.2L194.4 219.6Z" class="e"/><path d="M214.4 221.5L216.5 220.1L213.6 218.2L211.5 219.6Z" fill="#faf60c" stroke="#faf60c"/><path d="M214.4 221.5L216.5 220.1L213.6 218.2L211.5 219.6Z" class="e"/><path d="M231.5 221.5L233.6 220.1L230.7 218.2L228.6 219.6Z" fill="#faf60c" stroke="#faf60c"/><path d="M231.5 221.5L233.6 220.1L230.7 218.2L228.6 219.6Z" class="e"/><path d="M202.2 222.0L204.4 220.5L201.5 218.7L199.4 220.1Z" fill="#faf60c" stroke="#faf60c"/><path d="M202.2 222.0L204.4 220.5L201.5 218.7L199.4 220.1Z" class="e"/><path d="M219.4 222.0L221.5 220.5L218.6 218.7L216.5 220.1Z" fill="#faf60c" stroke="#faf60c"/><path d="M219.4 222.0L221.5 220.5L218.6 218.7L216.5 220.1Z" class="e"/><path d="M236.5 222.0L238.6 220.5L235.7 218.7L233.6 220.1Z" fill="#faf60c" stroke="#faf60c"/><path d="M236.5 222.0L238.6 220.5L235.7 218.7L233.6 220.1Z" class="e"/><path d="M207.2 222.4L209.4 221.0L206.5 219.1L204.4 220.5Z" fill="#faf60c" stroke="#faf60c"/><path d="M207.2 222.4L209.4 221.0L206.5 219.1L204.4 220.5Z" class="e"/><path d="M224.4 222.4L226.5 221.0L223.6 219.1L221.5 220.5Z" fill="#faf60c" stroke="#faf60c"/><path d="M224.4 222.4L226.5 221.0L223.6 219.1L221.5 220.5Z" class="e"/><path d="M241.5 222.4L243.6 221.0L240.7 219.1L238.6 220.5Z" fill="#faf60c" stroke="#faf60c"/><path d="M241.5 222.4L243.6 221.0L240.7 219.1L238.6 220.5Z" class="e"/><path d="M195.1 222.9L197.2 221.5L194.4 219.6L192.2 221.0Z" fill="#faf60c" stroke="#faf60c"/><path d="M195.1 222.9L197.2 221.5L194.4 219.6L192.2 221.0Z" class="e"/><path d="M212.2 222.9L214.4 221.5L211.5 219.6L209.4 221.0Z" fill="#faf60c" stroke="#faf60c"/><path d="M212.2 222.9L214.4 221.5L211.5 219.6L209.4 221.0Z" class="e"/><path d="M229.4 222.9L231.5 221.5L228.6 219.6L226.5 221.0Z" fill="#faf60c" stroke="#faf60c"/><path d="M229.4 222.9L231.5 221.5L228.6 219.6L226.5 221.0Z" class="e"/><path d="M200.1 223.4L202.2 222.0L199.4 220.1L197.2 221.5Z" fill="#faf60c" stroke="#faf60c"/><path d="M200.1 223.4L202.2 222.0L199.4 220.1L197.2 221.5Z" class="e"/><path d="M217.2 223.4L219.4 222.0L216.5 220.1L214.4 221.5Z" fill="#faf60c" stroke="#faf60c"/><path d="M217.2 223.4L219.4 222.0L216.5 220.1L214.4 221.5Z" class="e"/><path d="M234.4 236.9L236.5 222.0L233.6 220.1L231.5 221.5Z" fill="#72c256" stroke="#72c256"/><path d="M234.4 236.9L236.5 222.0L233.6 220.1L231.5 221.5Z" class="e"/><path d="M205.1 247.5L207.2 222.4L204.4 220.5L202.2 222.0Z" fill="#2b95e6" stroke="#2b95e6"/><path d="M205.1 247.5L207.2 222.4L204.4 220.5L202.2 222.0Z" class="e"/><path d="M222.2 223.8L224.4 222.4L221.5 220.5L219.4 222.0Z" fill="#faf60c" stroke="#faf60c"/><path d="M222.2 223.8L224.4 222.4L221.5 220.5L219.4 222.0Z" class="e"/><path d="M239.4 223.8L241.5 222.4L238.6 220.5L236.5 222.0Z" fill="#faf60c" stroke="#faf60c"/><path d="M239.4 223.8L241.5 222.4L238.6 220.5L236.5 222.0Z" class="e"/><path d="M193.0 224.3L195.1 222.9L192.2 221.0L190.1 222.4Z" fill="#faf60c" stroke="#faf60c"/><path d="M193.0 224.3L195.1 222.9L192.2 221.0L190.1 222.4Z" class="e"/><path d="M210.1 224.3L212.2 222.9L209.4 221.0L207.2 222.4Z" fill="#faf60c" stroke="#faf60c"/><path d="M210.1 224.3L212.2 222.9L209.4 221.0L207.2 222.4Z" class="e"/><path d="M227.2 224.3L229.4 222.9L226.5 221.0L224.4 222.4Z" fill="#faf60c" stroke="#faf60c"/><path d="M227.2 224.3L229.4 222.9L226.5 221.0L224.4 222.4Z" class="e"/><path d="M244.4 224.3L246.5 222.9L243.6 221.0L241.5 222.4Z" fill="#faf60c" stroke="#faf60c"/><path d="M244.4 224.3L246.5 222.9L243.6 221.0L241.5 222.4Z" class="e"/><path d="M198.0 224.8L200.1 223.4L197.2 221.5L195.1 222.9Z" fill="#faf60c" stroke="#faf60c"/><path d="M198.0 224.8L200.1 223.4L197.2 221.5L195.1 222.9Z" class="e"/><path d="M215.1 224.8L217.2 223.4L214.4 221.5L212.2 222.9Z" fill="#faf60c" stroke="#faf60c"/><path d="M215.1 224.8L217.2 223.4L214.4 221.5L212.2 222.9Z" class="e"/><path d="M232.2 238.3L234.4 236.9L231.5 221.5L229.4 222.9Z" fill="#72c256" stroke="#72c256"/><path d="M232.2 238.3L234.4 236.9L231.5 221.5L229.4 222.9Z" class="e"/><path d="M203.0 248.9L205.1 247.5L202.2 222.0L200.1 223.4Z" fill="#2b95e6" stroke="#2b95e6"/><path d="M203.0 248.9L205.1 247.5L202.2 222.0L200.1 223.4Z" class="e"/><path d="M220.1 225.3L222.2 223.8L219.4 222.0L217.2 223.4Z" fill="#faf60c" stroke="#faf60c"/><path d="M220.1 225.3L222.2 223.8L219.4 222.0L217.2 223.4Z" class="e"/><path d="M237.2 238.8L239.4 223.8L236.5 222.0L234.4 236.9Z" fill="#72c256" stroke="#72c256"/><path d="M237.2 238.8L239.4 223.8L236.5 222.0L234.4 236.9Z" class="e"/><path d="M190.9 225.7L193.0 224.3L190.1 222.4L188.0 223.8Z" fill="#faf60c" stroke="#faf60c"/><path d="M190.9 225.7L193.0 224.3L190.1 222.4L188.0 223.8Z" class="e"/><path d="M208.0 249.4L210.1 224.3L207.2 222.4L205.1 247.5Z" fill="#2b95e6" stroke="#2b95e6"/><path d="M208.0 249.4L210.1 224.3L207.2 222.4L205.1 247.5Z" class="e"/><path d="M225.1 225.7L227.2 224.3L224.4 222.4L222.2 223.8Z" fill="#faf60c" stroke="#faf60c"/><path d="M225.1 225.7L227.2 224.3L224.4 222.4L222.2 223.8Z" class="e"/><path d="M242.2 225.7L244.4 224.3L241.5 222.4L239.4 223.8Z" fill="#faf60c" stroke="#faf60c"/><path d="M242.2 225.7L244.4 224.3L241.5 222.4L239.4 223.8Z" class="e"/><path d="M195.9 226.2L198.0 224.8L195.1 222.9L193.0 224.3Z" fill="#faf60c" stroke="#faf60c"/><path d="M195.9 226.2L198.0 224.8L195.1 222.9L193.0 224.3Z" class="e"/><path d="M213.0 226.2L215.1 224.8L212.2 222.9L210.1 224.3Z" fill="#faf60c" stroke="#faf60c"/><path d="M213.0 226.2L215.1 224.8L212.2 222.9L210.1 224.3Z" class="e"/><path d="M230.1 239.7L232.2 238.3L229.4 222.9L227.2 224.3Z" fill="#72c256" stroke="#72c256"/><path d="M230.1 239.7L232.2 238.3L229.4 222.9L227.2 224.3Z" class="e"/><path d="M247.2 226.2L249.4 224.8L246.5 222.9L244.4 224.3Z" fill="#faf60c" stroke="#faf60c"/><path d="M247.2 226.2L249.4 224.8L246.5 222.9L244.4 224.3Z" class="e"/><path d="M200.9 250.3L203.0 248.9L200.1 223.4L198.0 224.8Z" fill="#2b95e6" stroke="#2b95e6"/><path d="M200.9 250.3L203.0 248.9L200.1 223.4L198.0 224.8Z" class="e"/><path d="M218.0 226.7L220.1 225.3L217.2 223.4L215.1 224.8Z" fill="#faf60c" stroke="#faf60c"/><path d="M218.0 226.7L220.1 225.3L217.2 223.4L215.1 224.8Z" class="e"/><path d="M235.1 240.2L237.2 238.8L234.4 236.9L232.2 238.3Z" fill="#72c256" stroke="#72c256"/><path d="M235.1 240.2L237.2 238.8L234.4 236.9L232.2 238.3Z" class="e"/><path d="M188.8 227.1L190.9 225.7L188.0 223.8L185.9 225.3Z" fill="#faf60c" stroke="#faf60c"/><path d="M188.8 227.1L190.9 225.7L188.0 223.8L185.9 225.3Z" class="e"/><path d="M205.9 250.8L208.0 249.4L205.1 247.5L203.0 248.9Z" fill="#2b95e6" stroke="#2b95e6"/><path d="M205.9 250.8L208.0 249.4L205.1 247.5L203.0 248.9Z" class="e"/><path d="M223.0 227.1L225.1 225.7L222.2 223.8L220.1 225.3Z" fill="#faf60c" stroke="#faf60c"/><path d="M223.0 227.1L225.1 225.7L222.2 223.8L220.1 225.3Z" class="e"/><path d="M240.1 240.7L242.2 225.7L239.4 223.8L237.2 238.8Z" fill="#72c256" stroke="#72c256"/><path d="M240.1 240.7L242.2 225.7L239.4 223.8L237.2 238.8Z" class="e"/><path d="M193.8 227.6L195.9 226.2L193.0 224.3L190.9 225.7Z" fill="#faf60c" stroke="#faf60c"/><path d="M193.8 227.6L195.9 226.2L193.0 224.3L190.9 225.7Z" class="e"/><path d="M210.9 227.6L213.0 226.2L210.1 224.3L208.0 249.4Z" fill="#faf60c" stroke="#faf60c"/><path d="M210.9 227.6L213.0 226.2L210.1 224.3L208.0 249.4Z" class="e"/><path d="M228.0 241.1L230.1 239.7L227.2 224.3L225.1 225.7Z" fill="#72c256" stroke="#72c256"/><path d="M228.0 241.1L230.1 239.7L227.2 224.3L225.1 225.7Z" class="e"/><path d="M245.1 227.6L247.2 226.2L244.4 224.3L242.2 225.7Z" fill="#faf60c" stroke="#faf60c"/><path d="M245.1 227.6L247.2 226.2L244.4 224.3L242.2 225.7Z" class="e"/><path d="M198.8 251.7L200.9 250.3L198.0 224.8L195.9 226.2Z" fill="#2b95e6" stroke="#2b95e6"/><path d="M198.8 251.7L200.9 250.3L198.0 224.8L195.9 226.2Z" class="e"/><path d="M215.9 228.1L218.0 226.7L215.1 224.8L213.0 226.2Z" fill="#faf60c" stroke="#faf60c"/><path d="M215.9 228.1L218.0 226.7L215.1 224.8L213.0 226.2Z" class="e"/><path d="M233.0 241.6L235.1 240.2L232.2 238.3L230.1 239.7Z" fill="#72c256" stroke="#72c256"/><path d="M233.0 241.6L235.1 240.2L232.2 238.3L230.1 239.7Z" class="e"/><path d="M250.1 228.1L252.2 226.7L249.4 224.8L247.2 226.2Z" fill="#faf60c" stroke="#faf60c"/><path d="M250.1 228.1L252.2 226.7L249.4 224.8L247.2 226.2Z" class="e"/><path d="M186.6 228.6L188.8 227.1L185.9 225.3L183.8 226.7Z" fill="#faf60c" stroke="#faf60c"/><path d="M186.6 228.6L188.8 227.1L185.9 225.3L183.8 226.7Z" class="e"/><path d="M203.8 252.2L205.9 250.8L203.0 248.9L200.9 250.3Z" fill="#2b95e6" stroke="#2b95e6"/><path d="M203.8 252.2L205.9 250.8L203.0 248.9L200.9 250.3Z" class="e"/><path d="M220.9 228.6L223.0 227.1L220.1 225.3L218.0 226.7Z" fill="#faf60c" stroke="#faf60c"/><path d="M220.9 228.6L223.0 227.1L220.1 225.3L218.0 226.7Z" class="e"/><path d="M238.0 242.1L240.1 240.7L237.2 238.8L235.1 240.2Z" fill="#72c256" stroke="#72c256"/><path d="M238.0 242.1L240.1 240.7L237.2 238.8L235.1 240.2Z" class="e"/><path d="M191.6 229.0L193.8 227.6L190.9 225.7L188.8 227.1Z" fill="#faf60c" stroke="#faf60c"/><path d="M191.6 229.0L193.8 227.6L190.9 225.7L188.8 227.1Z" class="e"/><path d="M208.8 252.7L210.9 227.6L208.0 249.4L205.9 250.8Z" fill="#2b95e6" stroke="#2b95e6"/><path d="M208.8 252.7L210.9 227.6L208.0 249.4L205.9 250.8Z" class="e"/><path d="M225.9 242.5L228.0 241.1L225.1 225.7L223.0 227.1Z" fill="#72c256" stroke="#72c256"/><path d="M225.9 242.5L228.0 241.1L225.1 225.7L223.0 227.1Z" class="e"/><path d="M243.0 242.5L245.1 227.6L242.2 225.7L240.1 240.7Z" fill="#72c256" stroke="#72c256"/><path d="M243.0 242.5L245.1 227.6L242.2 225.7L240.1 240.7Z" class="e"/><path d="M196.6 253.1L198.8 251.7L195.9 226.2L193.8 227.6Z" fill="#2b95e6" stroke="#2b95e6"/><path d="M196.6 253.1L198.8 251.7L195.9 226.2L193.8 227.6Z" class="e"/><path d="M213.8 229.5L215.9 228.1L213.0 226.2L210.9 227.6Z" fill="#faf60c" stroke="#faf60c"/><path d="M213.8 229.5L215.9 228.1L213.0 226.2L210.9 227.6Z" class="e"/><path d="M230.9 243.0L233.0 241.6L230.1 239.7L228.0 241.1Z" fill="#72c256" stroke="#72c256"/><path d="M230.9 243.0L233.0 241.6L230.1 239.7L228.0 241.1Z" class="e"/><path d="M248.0 229.5L250.1 228.1L247.2 226.2L245.1 227.6Z" fill="#faf60c" stroke="#faf60c"/><path d="M248.0 229.5L250.1 228.1L247.2 226.2L245.1 227.6Z" class="e"/><path d="M184.5 230.0L186.6 228.6L183.8 226.7L181.6 228.1Z" fill="#faf60c" stroke="#faf60c"/><path d="M184.5 230.0L186.6 228.6L183.8 226.7L181.6 228.1Z" class="e"/><path d="M201.6 253.6L203.8 252.2L200.9 250.3L198.8 251.7Z" fill="#2b95e6" stroke="#2b95e6"/><path d="M201.6 253.6L203.8 252.2L200.9 250.3L198.8 251.7Z" class="e"/><path d="M218.8 230.0L220.9 228.6L218.0 226.7L215.9 228.1Z" fill="#faf60c" stroke="#faf60c"/><path d="M218.8 230.0L220.9 228.6L218.0 226.7L215.9 228.1Z" class="e"/><path d="M235.9 243.5L238.0 242.1L235.1 240.2L233.0 241.6Z" fill="#72c256" stroke="#72c256"/><path d="M235.9 243.5L238.0 242.1L235.1 240.2L233.0 241.6Z" class="e"/><path d="M253.0 230.0L255.1 228.6L252.2 226.7L250.1 228.1Z" fill="#faf60c" stroke="#faf60c"/><path d="M253.0 230.0L255.1 228.6L252.2 226.7L250.1 228.1Z" class="e"/><path d="M189.5 230.4L191.6 229.0L188.8 227.1L186.6 228.6Z" fill="#faf60c" stroke="#faf60c"/><path d="M189.5 230.4L191.6 229.0L188.8 227.1L186.6 228.6Z" class="e"/><path d="M206.6 254.1L208.8 252.7L205.9 250.8L203.8 252.2Z" fill="#2b95e6" stroke="#2b95e6"/><path d="M206.6 254.1L208.8 252.7L205.9 250.8L203.8 252.2Z" class="e"/><path d="M223.8 244.0L225.9 242.5L223.0 227.1L220.9 228.6Z" fill="#72c256" stroke="#72c256"/><path d="M223.8 244.0L225.9 242.5L223.0 227.1L220.9 228.6Z" class="e"/><path d="M240.9 244.0L243.0 242.5L240.1 240.7L238.0 242.1Z" fill="#72c256" stroke="#72c256"/><path d="M240.9 244.0L243.0 242.5L240.1 240.7L238.0 242.1Z" class="e"/><path d="M194.5 254.6L196.6 253.1L193.8 227.6L191.6 229.0Z" fill="#2b95e6" stroke="#2b95e6"/><path d="M194.5 254.6L196.6 253.1L193.8 227.6L191.6 229.0Z" class="e"/><path d="M211.6 254.6L213.8 229.5L210.9 227.6L208.8 252.7Z" fill="#2b95e6" stroke="#2b95e6"/><path d="M211.6 254.6L213.8 229.5L210.9 227.6L208.8 252.7Z" class="e"/><path d="M228.8 244.4L230.9 243.0L228.0 241.1L225.9 242.5Z" fill="#72c256" stroke="#72c256"/><path d="M228.8 244.4L230.9 243.0L228.0 241.1L225.9 242.5Z" class="e"/><path d="M245.9 244.4L248.0 229.5L245.1 227.6L243.0 242.5Z" fill="#72c256" stroke="#72c256"/><path d="M245.9 244.4L248.0 229.5L245.1 227.6L243.0 242.5Z" class="e"/><path d="M182.4 231.4L184.5 230.0L181.6 228.1L179.5 229.5Z" fill="#faf60c" stroke="#faf60c"/><path d="M182.4 231.4L184.5 230.0L181.6 228.1L179.5 229.5Z" class="e"/><path d="M199.5 255.0L201.6 253.6L198.8 251.7L196.6 253.1Z" fill="#2b95e6" stroke="#2b95e6"/><path d="M199.5 255.0L201.6 253.6L198.8 251.7L196.6 253.1Z" class="e"/><path d="M216.6 255.0L218.8 230.0L215.9 228.1L213.8 229.5Z" fill="#2b95e6" stroke="#2b95e6"/><path d="M216.6 255.0L218.8 230.0L215.9 228.1L213.8 229.5Z" class="e"/><path d="M233.8 244.9L235.9 243.5L233.0 241.6L230.9 243.0Z" fill="#72c256" stroke="#72c256"/><path d="M233.8 244.9L235.9 243.5L233.0 241.6L230.9 243.0Z" class="e"/><path d="M250.9 231.4L253.0 230.0L250.1 228.1L248.0 229.5Z" fill="#faf60c" stroke="#faf60c"/><path d="M250.9 231.4L253.0 230.0L250.1 228.1L248.0 229.5Z" class="e"/><path d="M187.4 231.9L189.5 230.4L186.6 228.6L184.5 230.0Z" fill="#faf60c" stroke="#faf60c"/><path d="M187.4 231.9L189.5 230.4L186.6 228.6L184.5 230.0Z" class="e"/><path d="M204.5 255.5L206.6 254.1L203.8 252.2L201.6 253.6Z" fill="#2b95e6" stroke="#2b95e6"/><path d="M204.5 255.5L206.6 254.1L203.8 252.2L201.6 253.6Z" class="e"/><path d="M221.6 245.4L223.8 244.0L220.9 228.6L218.8 230.0Z" fill="#72c256" stroke="#72c256"/><path d="M221.6 245.4L223.8 244.0L220.9 228.6L218.8 230.0Z" class="e"/><path d="M238.8 245.4L240.9 244.0L238.0 242.1L235.9 243.5Z" fill="#72c256" stroke="#72c256"/><path d="M238.8 245.4L240.9 244.0L238.0 242.1L235.9 243.5Z" class="e"/><path d="M255.9 231.9L258.0 230.4L255.1 228.6L253.0 230.0Z" fill="#faf60c" stroke="#faf60c"/><path d="M255.9 231.9L258.0 230.4L255.1 228.6L253.0 230.0Z" class="e"/><path d="M192.4 256.0L194.5 254.6L191.6 229.0L189.5 230.4Z" fill="#2b95e6" stroke="#2b95e6"/><path d="M192.4 256.0L194.5 254.6L191.6 229.0L189.5 230.4Z" class="e"/><path d="M209.5 256.0L211.6 254.6L208.8 252.7L206.6 254.1Z" fill="#2b95e6" stroke="#2b95e6"/><path d="M209.5 256.0L211.6 254.6L208.8 252.7L206.6 254.1Z" class="e"/><path d="M226.6 245.8L228.8 244.4L225.9 242.5L223.8 244.0Z" fill="#72c256" stroke="#72c256"/><path d="M226.6 245.8L228.8 244.4L225.9 242.5L223.8 244.0Z" class="e"/><path d="M243.8 245.8L245.9 244.4L243.0 242.5L240.9 244.0Z" fill="#72c256" stroke="#72c256"/><path d="M243.8 245.8L245.9 244.4L243.0 242.5L240.9 244.0Z" class="e"/><path d="M197.4 256.4L199.5 255.0L196.6 253.1L194.5 254.6Z" fill="#2b95e6" stroke="#2b95e6"/><path d="M197.4 256.4L199.5 255.0L196.6 253.1L194.5 254.6Z" class="e"/><path d="M214.5 256.4L216.6 255.0L213.8 229.5L211.6 254.6Z" fill="#2b95e6" stroke="#2b95e6"/><path d="M214.5 256.4L216.6 255.0L213.8 229.5L211.6 254.6Z" class="e"/><path d="M231.6 246.3L233.8 244.9L230.9 243.0L228.8 244.4Z" fill="#72c256" stroke="#72c256"/><path d="M231.6 246.3L233.8 244.9L230.9 243.0L228.8 244.4Z" class="e"/><path d="M248.8 232.8L250.9 231.4L248.0 229.5L245.9 244.4Z" fill="#faf60c" stroke="#faf60c"/><path d="M248.8 232.8L250.9 231.4L248.0 229.5L245.9 244.4Z" class="e"/><path d="M185.3 233.3L187.4 231.9L184.5 230.0L182.4 231.4Z" fill="#faf60c" stroke="#faf60c"/><path d="M185.3 233.3L187.4 231.9L184.5 230.0L182.4 231.4Z" class="e"/><path d="M202.4 256.9L204.5 255.5L201.6 253.6L199.5 255.0Z" fill="#2b95e6" stroke="#2b95e6"/><path d="M202.4 256.9L204.5 255.5L201.6 253.6L199.5 255.0Z" class="e"/><path d="M219.5 256.9L221.6 245.4L218.8 230.0L216.6 255.0Z" fill="#2b95e6" stroke="#2b95e6"/><path d="M219.5 256.9L221.6 245.4L218.8 230.0L216.6 255.0Z" class="e"/><path d="M236.6 246.8L238.8 245.4L235.9 243.5L233.8 244.9Z" fill="#72c256" stroke="#72c256"/><path d="M236.6 246.8L238.8 245.4L235.9 243.5L233.8 244.9Z" class="e"/><path d="M253.8 233.3L255.9 231.9L253.0 230.0L250.9 231.4Z" fill="#faf60c" stroke="#faf60c"/><path d="M253.8 233.3L255.9 231.9L253.0 230.0L250.9 231.4Z" class="e"/><path d="M190.3 233.7L192.4 256.0L189.5 230.4L187.4 231.9Z" fill="#faf60c" stroke="#faf60c"/><path d="M190.3 233.7L192.4 256.0L189.5 230.4L187.4 231.9Z" class="e"/><path d="M207.4 257.4L209.5 256.0L206.6 254.1L204.5 255.5Z" fill="#2b95e6" stroke="#2b95e6"/><path d="M207.4 257.4L209.5 256.0L206.6 254.1L204.5 255.5Z" class="e"/><path d="M224.5 247.3L226.6 245.8L223.8 244.0L221.6 245.4Z" fill="#72c256" stroke="#72c256"/><path d="M224.5 247.3L226.6 245.8L223.8 244.0L221.6 245.4Z" class="e"/><path d="M241.6 247.3L243.8 245.8L240.9 244.0L238.8 245.4Z" fill="#72c256" stroke="#72c256"/><path d="M241.6 247.3L243.8 245.8L240.9 244.0L238.8 245.4Z" class="e"/><path d="M195.3 257.9L197.4 256.4L194.5 254.6L192.4 256.0Z" fill="#2b95e6" stroke="#2b95e6"/><path d="M195.3 257.9L197.4 256.4L194.5 254.6L192.4 256.0Z" class="e"/><path d="M212.4 257.9L214.5 256.4L211.6 254.6L209.5 256.0Z" fill="#2b95e6" stroke="#2b95e6"/><path d="M212.4 257.9L214.5 256.4L211.6 254.6L209.5 256.0Z" class="e"/><path d="M229.5 247.7L231.6 246.3L228.8 244.4L226.6 245.8Z" fill="#72c256" stroke="#72c256"/><path d="M229.5 247.7L231.6 246.3L228.8 244.4L226.6 245.8Z" class="e"/><path d="M246.6 234.2L248.8 232.8L245.9 244.4L243.8 245.8Z" fill="#faf60c" stroke="#faf60c"/><path d="M246.6 234.2L248.8 232.8L245.9 244.4L243.8 245.8Z" class="e"/><path d="M200.3 268.5L202.4 256.9L199.5 255.0L197.4 256.4Z" fill="#43239f" stroke="#43239f"/><path d="M200.3 268.5L202.4 256.9L199.5 255.0L197.4 256.4Z" class="e"/><path d="M217.4 258.3L219.5 256.9L216.6 255.0L214.5 256.4Z" fill="#2b95e6" stroke="#2b95e6"/><path d="M217.4 258.3L219.5 256.9L216.6 255.0L214.5 256.4Z" class="e"/><path d="M234.5 248.2L236.6 246.8L233.8 244.9L231.6 246.3Z" fill="#72c256" stroke="#72c256"/><path d="M234.5 248.2L236.6 246.8L233.8 244.9L231.6 246.3Z" class="e"/><path d="M251.6 234.7L253.8 233.3L250.9 231.4L248.8 232.8Z" fill="#faf60c" stroke="#faf60c"/><path d="M251.6 234.7L253.8 233.3L250.9 231.4L248.8 232.8Z" class="e"/><path d="M188.2 235.2L190.3 233.7L187.4 231.9L185.3 233.3Z" fill="#faf60c" stroke="#faf60c"/><path d="M188.2 235.2L190.3 233.7L187.4 231.9L185.3 233.3Z" class="e"/><path d="M205.3 258.8L207.4 257.4L204.5 255.5L202.4 256.9Z" fill="#2b95e6" stroke="#2b95e6"/><path d="M205.3 258.8L207.4 257.4L204.5 255.5L202.4 256.9Z" class="e"/><path d="M222.4 248.7L224.5 247.3L221.6 245.4L219.5 256.9Z" fill="#72c256" stroke="#72c256"/><path d="M222.4 248.7L224.5 247.3L221.6 245.4L219.5 256.9Z" class="e"/><path d="M239.5 248.7L241.6 247.3L238.8 245.4L236.6 246.8Z" fill="#72c256" stroke="#72c256"/><path d="M239.5 248.7L241.6 247.3L238.8 245.4L236.6 246.8Z" class="e"/><path d="M193.2 235.6L195.3 257.9L192.4 256.0L190.3 233.7Z" fill="#faf60c" stroke="#faf60c"/><path d="M193.2 235.6L195.3 257.9L192.4 256.0L190.3 233.7Z" class="e"/><path d="M210.3 259.3L212.4 257.9L209.5 256.0L207.4 257.4Z" fill="#2b95e6" stroke="#2b95e6"/><path d="M210.3 259.3L212.4 257.9L209.5 256.0L207.4 257.4Z" class="e"/><path d="M227.4 249.1L229.5 247.7L226.6 245.8L224.5 247.3Z" fill="#72c256" stroke="#72c256"/><path d="M227.4 249.1L229.5 247.7L226.6 245.8L224.5 247.3Z" class="e"/><path d="M244.5 235.6L246.6 234.2L243.8 245.8L241.6 247.3Z" fill="#faf60c" stroke="#faf60c"/><path d="M244.5 235.6L246.6 234.2L243.8 245.8L241.6 247.3Z" class="e"/><path d="M198.2 269.9L200.3 268.5L197.4 256.4L195.3 257.9Z" fill="#43239f" stroke="#43239f"/><path d="M198.2 269.9L200.3 268.5L197.4 256.4L195.3 257.9Z" class="e"/><path d="M215.3 259.8L217.4 258.3L214.5 256.4L212.4 257.9Z" fill="#2b95e6" stroke="#2b95e6"/><path d="M215.3 259.8L217.4 258.3L214.5 256.4L212.4 257.9Z" class="e"/><path d="M232.4 249.6L234.5 248.2L231.6 246.3L229.5 247.7Z" fill="#72c256" stroke="#72c256"/><path d="M232.4 249.6L234.5 248.2L231.6 246.3L229.5 247.7Z" class="e"/><path d="M249.5 236.1L251.6 234.7L248.8 232.8L246.6 234.2Z" fill="#faf60c" stroke="#faf60c"/><path d="M249.5 236.1L251.6 234.7L248.8 232.8L246.6 234.2Z" class="e"/><path d="M203.2 270.4L205.3 258.8L202.4 256.9L200.3 268.5Z" fill="#43239f" stroke="#43239f"/><path d="M203.2 270.4L205.3 258.8L202.4 256.9L200.3 268.5Z" class="e"/><path d="M220.3 250.1L222.4 248.7L219.5 256.9L217.4 258.3Z" fill="#72c256" stroke="#72c256"/><path d="M220.3 250.1L222.4 248.7L219.5 256.9L217.4 258.3Z" class="e"/><path d="M237.4 250.1L239.5 248.7L236.6 246.8L234.5 248.2Z" fill="#72c256" stroke="#72c256"/><path d="M237.4 250.1L239.5 248.7L236.6 246.8L234.5 248.2Z" class="e"/><path d="M191.0 237.0L193.2 235.6L190.3 233.7L188.2 235.2Z" fill="#faf60c" stroke="#faf60c"/><path d="M191.0 237.0L193.2 235.6L190.3 233.7L188.2 235.2Z" class="e"/><path d="M208.2 260.7L210.3 259.3L207.4 257.4L205.3 258.8Z" fill="#2b95e6" stroke="#2b95e6"/><path d="M208.2 260.7L210.3 259.3L207.4 257.4L205.3 258.8Z" class="e"/><path d="M225.3 250.6L227.4 249.1L224.5 247.3L222.4 248.7Z" fill="#72c256" stroke="#72c256"/><path d="M225.3 250.6L227.4 249.1L224.5 247.3L222.4 248.7Z" class="e"/><path d="M242.4 237.1L244.5 235.6L241.6 247.3L239.5 248.7Z" fill="#faf60c" stroke="#faf60c"/><path d="M242.4 237.1L244.5 235.6L241.6 247.3L239.5 248.7Z" class="e"/><path d="M196.0 237.5L198.2 269.9L195.3 257.9L193.2 235.6Z" fill="#faf60c" stroke="#faf60c"/><path d="M196.0 237.5L198.2 269.9L195.3 257.9L193.2 235.6Z" class="e"/><path d="M213.2 261.2L215.3 259.8L212.4 257.9L210.3 259.3Z" fill="#2b95e6" stroke="#2b95e6"/><path d="M213.2 261.2L215.3 259.8L212.4 257.9L210.3 259.3Z" class="e"/><path d="M230.3 251.0L232.4 249.6L229.5 247.7L227.4 249.1Z" fill="#72c256" stroke="#72c256"/><path d="M230.3 251.0L232.4 249.6L229.5 247.7L227.4 249.1Z" class="e"/><path d="M247.4 237.5L249.5 236.1L246.6 234.2L244.5 235.6Z" fill="#faf60c" stroke="#faf60c"/><path d="M247.4 237.5L249.5 236.1L246.6 234.2L244.5 235.6Z" class="e"/><path d="M201.0 271.8L203.2 270.4L200.3 268.5L198.2 269.9Z" fill="#43239f" stroke="#43239f"/><path d="M201.0 271.8L203.2 270.4L200.3 268.5L198.2 269.9Z" class="e"/><path d="M218.2 251.5L220.3 250.1L217.4 258.3L215.3 259.8Z" fill="#72c256" stroke="#72c256"/><path d="M218.2 251.5L220.3 250.1L217.4 258.3L215.3 259.8Z" class="e"/><path d="M235.3 251.5L237.4 250.1L234.5 248.2L232.4 249.6Z" fill="#72c256" stroke="#72c256"/><path d="M235.3 251.5L237.4 250.1L234.5 248.2L232.4 249.6Z" class="e"/><path d="M206.0 252.0L208.2 260.7L205.3 258.8L203.2 270.4Z" fill="#72c256" stroke="#72c256"/><path d="M206.0 252.0L208.2 260.7L205.3 258.8L203.2 270.4Z" class="e"/><path d="M223.2 252.0L225.3 250.6L222.4 248.7L220.3 250.1Z" fill="#72c256" stroke="#72c256"/><path d="M223.2 252.0L225.3 250.6L222.4 248.7L220.3 250.1Z" class="e"/><path d="M240.3 238.5L242.4 237.1L239.5 248.7L237.4 250.1Z" fill="#faf60c" stroke="#faf60c"/><path d="M240.3 238.5L242.4 237.1L239.5 248.7L237.4 250.1Z" class="e"/><path d="M193.9 238.9L196.0 237.5L193.2 235.6L191.0 237.0Z" fill="#faf60c" stroke="#faf60c"/><path d="M193.9 238.9L196.0 237.5L193.2 235.6L191.0 237.0Z" class="e"/><path d="M211.0 262.6L213.2 261.2L210.3 259.3L208.2 260.7Z" fill="#2b95e6" stroke="#2b95e6"/><path d="M211.0 262.6L213.2 261.2L210.3 259.3L208.2 260.7Z" class="e"/><path d="M228.2 252.4L230.3 251.0L227.4 249.1L225.3 250.6Z" fill="#72c256" stroke="#72c256"/><path d="M228.2 252.4L230.3 251.0L227.4 249.1L225.3 250.6Z" class="e"/><path d="M245.3 238.9L247.4 237.5L244.5 235.6L242.4 237.1Z" fill="#faf60c" stroke="#faf60c"/><path d="M245.3 238.9L247.4 237.5L244.5 235.6L242.4 237.1Z" class="e"/><path d="M198.9 239.4L201.0 271.8L198.2 269.9L196.0 237.5Z" fill="#faf60c" stroke="#faf60c"/><path d="M198.9 239.4L201.0 271.8L198.2 269.9L196.0 237.5Z" class="e"/><path d="M216.0 252.9L218.2 251.5L215.3 259.8L213.2 261.2Z" fill="#72c256" stroke="#72c256"/><path d="M216.0 252.9L218.2 251.5L215.3 259.8L213.2 261.2Z" class="e"/><path d="M233.2 252.9L235.3 251.5L232.4 249.6L230.3 251.0Z" fill="#72c256" stroke="#72c256"/><path d="M233.2 252.9L235.3 251.5L232.4 249.6L230.3 251.0Z" class="e"/><path d="M203.9 253.4L206.0 252.0L203.2 270.4L201.0 271.8Z" fill="#72c256" stroke="#72c256"/><path d="M203.9 253.4L206.0 252.0L203.2 270.4L201.0 271.8Z" class="e"/><path d="M221.0 253.4L223.2 252.0L220.3 250.1L218.2 251.5Z" fill="#72c256" stroke="#72c256"/><path d="M221.0 253.4L223.2 252.0L220.3 250.1L218.2 251.5Z" class="e"/><path d="M238.2 239.9L240.3 238.5L237.4 250.1L235.3 251.5Z" fill="#faf60c" stroke="#faf60c"/><path d="M238.2 239.9L240.3 238.5L237.4 250.1L235.3 251.5Z" class="e"/><path d="M208.9 253.9L211.0 262.6L208.2 260.7L206.0 252.0Z" fill="#72c256" stroke="#72c256"/><path d="M208.9 253.9L211.0 262.6L208.2 260.7L206.0 252.0Z" class="e"/><path d="M226.0 253.9L228.2 252.4L225.3 250.6L223.2 252.0Z" fill="#72c256" stroke="#72c256"/><path d="M226.0 253.9L228.2 252.4L225.3 250.6L223.2 252.0Z" class="e"/><path d="M243.2 240.4L245.3 238.9L242.4 237.1L240.3 238.5Z" fill="#faf60c" stroke="#faf60c"/><path d="M243.2 240.4L245.3 238.9L242.4 237.1L240.3 238.5Z" class="e"/><path d="M196.8 240.8L198.9 239.4L196.0 237.5L193.9 238.9Z" fill="#faf60c" stroke="#faf60c"/><path d="M196.8 240.8L198.9 239.4L196.0 237.5L193.9 238.9Z" class="e"/><path d="M213.9 254.3L216.0 252.9L213.2 261.2L211.0 262.6Z" fill="#72c256" stroke="#72c256"/><path d="M213.9 254.3L216.0 252.9L213.2 261.2L211.0 262.6Z" class="e"/><path d="M231.0 254.3L233.2 252.9L230.3 251.0L228.2 252.4Z" fill="#72c256" stroke="#72c256"/><path d="M231.0 254.3L233.2 252.9L230.3 251.0L228.2 252.4Z" class="e"/><path d="M201.8 241.3L203.9 253.4L201.0 271.8L198.9 239.4Z" fill="#faf60c" stroke="#faf60c"/><path d="M201.8 241.3L203.9 253.4L201.0 271.8L198.9 239.4Z" class="e"/><path d="M218.9 254.8L221.0 253.4L218.2 251.5L216.0 252.9Z" fill="#72c256" stroke="#72c256"/><path d="M218.9 254.8L221.0 253.4L218.2 251.5L216.0 252.9Z" class="e"/><path d="M236.0 241.3L238.2 239.9L235.3 251.5L233.2 252.9Z" fill="#faf60c" stroke="#faf60c"/><path d="M236.0 241.3L238.2 239.9L235.3 251.5L233.2 252.9Z" class="e"/><path d="M206.8 255.3L208.9 253.9L206.0 252.0L203.9 253.4Z" fill="#72c256" stroke="#72c256"/><path d="M206.8 255.3L208.9 253.9L206.0 252.0L203.9 253.4Z" class="e"/><path d="M223.9 255.3L226.0 253.9L223.2 252.0L221.0 253.4Z" fill="#72c256" stroke="#72c256"/><path d="M223.9 255.3L226.0 253.9L223.2 252.0L221.0 253.4Z" class="e"/><path d="M241.0 241.8L243.2 240.4L240.3 238.5L238.2 239.9Z" fill="#faf60c" stroke="#faf60c"/><path d="M241.0 241.8L243.2 240.4L240.3 238.5L238.2 239.9Z" class="e"/><path d="M211.8 255.7L213.9 254.3L211.0 262.6L208.9 253.9Z" fill="#72c256" stroke="#72c256"/><path d="M211.8 255.7L213.9 254.3L211.0 262.6L208.9 253.9Z" class="e"/><path d="M228.9 255.8L231.0 254.3L228.2 252.4L226.0 253.9Z" fill="#72c256" stroke="#72c256"/><path d="M228.9 255.8L231.0 254.3L228.2 252.4L226.0 253.9Z" class="e"/><path d="M199.7 242.7L201.8 241.3L198.9 239.4L196.8 240.8Z" fill="#faf60c" stroke="#faf60c"/><path d="M199.7 242.7L201.8 241.3L198.9 239.4L196.8 240.8Z" class="e"/><path d="M216.8 256.2L218.9 254.8L216.0 252.9L213.9 254.3Z" fill="#72c256" stroke="#72c256"/><path d="M216.8 256.2L218.9 254.8L216.0 252.9L213.9 254.3Z" class="e"/><path d="M233.9 242.7L236.0 241.3L233.2 252.9L231.0 254.3Z" fill="#faf60c" stroke="#faf60c"/><path d="M233.9 242.7L236.0 241.3L233.2 252.9L231.0 254.3Z" class="e"/><path d="M204.7 243.2L206.8 255.3L203.9 253.4L201.8 241.3Z" fill="#faf60c" stroke="#faf60c"/><path d="M204.7 243.2L206.8 255.3L203.9 253.4L201.8 241.3Z" class="e"/><path d="M221.8 256.7L223.9 255.3L221.0 253.4L218.9 254.8Z" fill="#72c256" stroke="#72c256"/><path d="M221.8 256.7L223.9 255.3L221.0 253.4L218.9 254.8Z" class="e"/><path d="M238.9 243.2L241.0 241.8L238.2 239.9L236.0 241.3Z" fill="#faf60c" stroke="#faf60c"/><path d="M238.9 243.2L241.0 241.8L238.2 239.9L236.0 241.3Z" class="e"/><path d="M209.7 257.2L211.8 255.7L208.9 253.9L206.8 255.3Z" fill="#72c256" stroke="#72c256"/><path d="M209.7 257.2L211.8 255.7L208.9 253.9L206.8 255.3Z" class="e"/><path d="M226.8 257.2L228.9 255.8L226.0 253.9L223.9 255.3Z" fill="#72c256" stroke="#72c256"/><path d="M226.8 257.2L228.9 255.8L226.0 253.9L223.9 255.3Z" class="e"/><path d="M214.7 257.6L216.8 256.2L213.9 254.3L211.8 255.7Z" fill="#72c256" stroke="#72c256"/><path d="M214.7 257.6L216.8 256.2L213.9 254.3L211.8 255.7Z" class="e"/><path d="M231.8 244.1L233.9 242.7L231.0 254.3L228.9 255.8Z" fill="#faf60c" stroke="#faf60c"/><path d="M231.8 244.1L233.9 242.7L231.0 254.3L228.9 255.8Z" class="e"/><path d="M202.6 244.6L204.7 243.2L201.8 241.3L199.7 242.7Z" fill="#faf60c" stroke="#faf60c"/><path d="M202.6 244.6L204.7 243.2L201.8 241.3L199.7 242.7Z" class="e"/><path d="M219.7 258.1L221.8 256.7L218.9 254.8L216.8 256.2Z" fill="#72c256" stroke="#72c256"/><path d="M219.7 258.1L221.8 256.7L218.9 254.8L216.8 256.2Z" class="e"/><path d="M236.8 244.6L238.9 243.2L236.0 241.3L233.9 242.7Z" fill="#faf60c" stroke="#faf60c"/><path d="M236.8 244.6L238.9 243.2L236.0 241.3L233.9 242.7Z" class="e"/><path d="M207.6 245.1L209.7 257.2L206.8 255.3L204.7 243.2Z" fill="#faf60c" stroke="#faf60c"/><path d="M207.6 245.1L209.7 257.2L206.8 255.3L204.7 243.2Z" class="e"/><path d="M224.7 258.6L226.8 257.2L223.9 255.3L221.8 256.7Z" fill="#72c256" stroke="#72c256"/><path d="M224.7 258.6L226.8 257.2L223.9 255.3L221.8 256.7Z" class="e"/><path d="M212.6 259.1L214.7 257.6L211.8 255.7L209.7 257.2Z" fill="#72c256" stroke="#72c256"/><path d="M212.6 259.1L214.7 257.6L211.8 255.7L209.7 257.2Z" class="e"/><path d="M229.7 245.5L231.8 244.1L228.9 255.8L226.8 257.2Z" fill="#faf60c" stroke="#faf60c"/><path d="M229.7 245.5L231.8 244.1L228.9 255.8L226.8 257.2Z" class="e"/><path d="M217.6 259.5L219.7 258.1L216.8 256.2L214.7 257.6Z" fill="#72c256" stroke="#72c256"/><path d="M217.6 259.5L219.7 258.1L216.8 256.2L214.7 257.6Z" class="e"/><path d="M234.7 246.0L236.8 244.6L233.9 242.7L231.8 244.1Z" fill="#faf60c" stroke="#faf60c"/><path d="M234.7 246.0L236.8 244.6L233.9 242.7L231.8 244.1Z" class="e"/><path d="M205.4 246.5L207.6 245.1L204.7 243.2L202.6 244.6Z" fill="#faf60c" stroke="#faf60c"/><path d="M205.4 246.5L207.6 245.1L204.7 243.2L202.6 244.6Z" class="e"/><path d="M222.6 260.0L224.7 258.6L221.8 256.7L219.7 258.1Z" fill="#72c256" stroke="#72c256"/><path d="M222.6 260.0L224.7 258.6L221.8 256.7L219.7 258.1Z" class="e"/><path d="M210.4 247.0L212.6 259.1L209.7 257.2L207.6 245.1Z" fill="#faf60c" stroke="#faf60c"/><path d="M210.4 247.0L212.6 259.1L209.7 257.2L207.6 245.1Z" class="e"/><path d="M227.6 247.0L229.7 245.5L226.8 257.2L224.7 258.6Z" fill="#faf60c" stroke="#faf60c"/><path d="M227.6 247.0L229.7 245.5L226.8 257.2L224.7 258.6Z" class="e"/><path d="M215.4 260.9L217.6 259.5L214.7 257.6L212.6 259.1Z" fill="#72c256" stroke="#72c256"/><path d="M215.4 260.9L217.6 259.5L214.7 257.6L212.6 259.1Z" class="e"/><path d="M232.6 247.4L234.7 246.0L231.8 244.1L229.7 245.5Z" fill="#faf60c" stroke="#faf60c"/><path d="M232.6 247.4L234.7 246.0L231.8 244.1L229.7 245.5Z" class="e"/><path d="M220.4 261.4L222.6 260.0L219.7 258.1L217.6 259.5Z" fill="#72c256" stroke="#72c256"/><path d="M220.4 261.4L222.6 260.0L219.7 258.1L217.6 259.5Z" class="e"/><path d="M208.3 248.4L210.4 247.0L207.6 245.1L205.4 246.5Z" fill="#faf60c" stroke="#faf60c"/><path d="M208.3 248.4L210.4 247.0L207.6 245.1L205.4 246.5Z" class="e"/><path d="M225.4 248.4L227.6 247.0L224.7 258.6L222.6 260.0Z" fill="#faf60c" stroke="#faf60c"/><path d="M225.4 248.4L227.6 247.0L224.7 258.6L222.6 260.0Z" class="e"/><path d="M213.3 248.8L215.4 260.9L212.6 259.1L210.4 247.0Z" fill="#faf60c" stroke="#faf60c"/><path d="M213.3 248.8L215.4 260.9L212.6 259.1L210.4 247.0Z" class="e"/><path d="M230.4 248.8L232.6 247.4L229.7 245.5L227.6 247.0Z" fill="#faf60c" stroke="#faf60c"/><path d="M230.4 248.8L232.6 247.4L229.7 245.5L227.6 247.0Z" class="e"/><path d="M218.3 262.8L220.4 261.4L217.6 259.5L215.4 260.9Z" fill="#72c256" stroke="#72c256"/><path d="M218.3 262.8L220.4 261.4L217.6 259.5L215.4 260.9Z" class="e"/><path d="M223.3 249.8L225.4 248.4L222.6 260.0L220.4 261.4Z" fill="#faf60c" stroke="#faf60c"/><path d="M223.3 249.8L225.4 248.4L222.6 260.0L220.4 261.4Z" class="e"/><path d="M211.2 250.3L213.3 248.8L210.4 247.0L208.3 248.4Z" fill="#faf60c" stroke="#faf60c"/><path d="M211.2 250.3L213.3 248.8L210.4 247.0L208.3 248.4Z" class="e"/><path d="M228.3 250.3L230.4 248.8L227.6 247.0L225.4 248.4Z" fill="#faf60c" stroke="#faf60c"/><path d="M228.3 250.3L230.4 248.8L227.6 247.0L225.4 248.4Z" class="e"/><path d="M216.2 250.7L218.3 262.8L215.4 260.9L213.3 248.8Z" fill="#faf60c" stroke="#faf60c"/><path d="M216.2 250.7L218.3 262.8L215.4 260.9L213.3 248.8Z" class="e"/><path d="M221.2 251.2L223.3 249.8L220.4 261.4L218.3 262.8Z" fill="#faf60c" stroke="#faf60c"/><path d="M221.2 251.2L223.3 249.8L220.4 261.4L218.3 262.8Z" class="e"/><path d="M226.2 251.7L228.3 250.3L225.4 248.4L223.3 249.8Z" fill="#faf60c" stroke="#faf60c"/><path d="M226.2 251.7L228.3 250.3L225.4 248.4L223.3 249.8Z" class="e"/><path d="M214.1 252.1L216.2 250.7L213.3 248.8L211.2 250.3Z" fill="#faf60c" stroke="#faf60c"/><path d="M214.1 252.1L216.2 250.7L213.3 248.8L211.2 250.3Z" class="e"/><path d="M219.1 252.6L221.2 251.2L218.3 262.8L216.2 250.7Z" fill="#faf60c" stroke="#faf60c"/><path d="M219.1 252.6L221.2 251.2L218.3 262.8L216.2 250.7Z" class="e"/><path d="M224.1 253.1L226.2 251.7L223.3 249.8L221.2 251.2Z" fill="#faf60c" stroke="#faf60c"/><path d="M224.1 253.1L226.2 251.7L223.3 249.8L221.2 251.2Z" class="e"/><path d="M217.0 254.0L219.1 252.6L216.2 250.7L214.1 252.1Z" fill="#faf60c" stroke="#faf60c"/><path d="M217.0 254.0L219.1 252.6L216.2 250.7L214.1 252.1Z" class="e"/><path d="M222.0 254.5L224.1 253.1L221.2 251.2L219.1 252.6Z" fill="#faf60c" stroke="#faf60c"/><path d="M222.0 254.5L224.1 253.1L221.2 251.2L219.1 252.6Z" class="e"/><path d="M219.8 255.9L222.0 254.5L219.1 252.6L217.0 254.0Z" fill="#faf60c" stroke="#faf60c"/><path d="M219.8 255.9L222.0 254.5L219.1 252.6L217.0 254.0Z" class="e"/></g>
<text x="175.20" y="265.00" font-family="Liberation Serif, serif" font-weight="bold" font-size="4.35" text-anchor="end" fill="#111">1.01252</text>
<text x="175.20" y="253.73" font-family="Liberation Serif, serif" font-weight="bold" font-size="4.35" text-anchor="end" fill="#111">1.01254</text>
<text x="175.20" y="242.47" font-family="Liberation Serif, serif" font-weight="bold" font-size="4.35" text-anchor="end" fill="#111">1.01256</text>
<text x="175.20" y="231.21" font-family="Liberation Serif, serif" font-weight="bold" font-size="4.35" text-anchor="end" fill="#111">1.01258</text>
<text x="224.70" y="298.70" font-family="Liberation Serif, serif" font-weight="bold" font-size="4.6499999999999995" text-anchor="middle" fill="#111">0</text>
<text x="235.30" y="291.62" font-family="Liberation Serif, serif" font-weight="bold" font-size="4.6499999999999995" text-anchor="middle" fill="#111">5</text>
<text x="245.90" y="284.55" font-family="Liberation Serif, serif" font-weight="bold" font-size="4.6499999999999995" text-anchor="middle" fill="#111">10</text>
<text x="256.50" y="277.47" font-family="Liberation Serif, serif" font-weight="bold" font-size="4.6499999999999995" text-anchor="middle" fill="#111">15</text>
<text x="267.10" y="270.40" font-family="Liberation Serif, serif" font-weight="bold" font-size="4.6499999999999995" text-anchor="middle" fill="#111">20</text>
<text x="216.60" y="299.00" font-family="Liberation Serif, serif" font-weight="bold" font-size="4.6499999999999995" text-anchor="middle" fill="#111">0</text>
<text x="202.20" y="289.56" font-family="Liberation Serif, serif" font-weight="bold" font-size="4.6499999999999995" text-anchor="middle" fill="#111">5</text>
<text x="187.80" y="280.13" font-family="Liberation Serif, serif" font-weight="bold" font-size="4.6499999999999995" text-anchor="middle" fill="#111">10</text>
<text x="173.40" y="270.69" font-family="Liberation Serif, serif" font-weight="bold" font-size="4.6499999999999995" text-anchor="middle" fill="#111">15</text>
<text x="243.6" y="297.8" font-family="Liberation Serif, serif" font-weight="bold" font-size="6" text-anchor="middle" fill="#222">X</text>
<text x="197.4" y="297.8" font-family="Liberation Serif, serif" font-weight="bold" font-size="6" text-anchor="middle" fill="#222">Y</text>
<text transform="translate(159.5,248.5) rotate(-90)" font-family="Liberation Serif, serif" font-weight="bold" font-size="5.2" text-anchor="middle" textLength="36.2" lengthAdjust="spacingAndGlyphs" fill="#222">Absolute Pressure</text>
<text x="167.5" y="220.2" font-family="Liberation Serif, serif" font-size="5.6" fill="#333">×10<tspan dy="-2" font-size="3.6">5</tspan></text>
<path d="M353.00 288.60L306.20 262.10M306.20 262.10L306.20 230.48M378.15 276.50L331.35 250.00M331.35 250.00L331.35 218.38M403.30 264.40L356.50 237.90M356.50 237.90L356.50 206.28M353.00 288.60L403.30 264.40M403.30 264.40L403.30 232.78M337.40 279.77L387.70 255.57M387.70 255.57L387.70 223.95M321.80 270.93L372.10 246.73M372.10 246.73L372.10 215.11M306.20 262.10L356.50 237.90M356.50 237.90L356.50 206.28M306.20 262.10L356.50 237.90M356.50 237.90L403.30 264.40M306.20 251.56L356.50 227.36M356.50 227.36L403.30 253.86M306.20 241.02L356.50 216.82M356.50 216.82L403.30 243.32M306.20 230.48L356.50 206.28M356.50 206.28L403.30 232.78" stroke="#e2e2e2" stroke-width="0.5" fill="none"/>
<path d="M353.00 288.60L403.30 264.40M353.00 288.60L306.20 262.10M306.20 262.10L306.20 230.48" stroke="#a8a8a8" stroke-width="0.6" fill="none"/>
<g stroke-width="0.45" stroke-linejoin="round"><path d="M354.6 210.5L357.1 209.3L354.0 207.5L351.5 208.7Z" fill="#faf60c" stroke="#faf60c"/><path d="M354.6 210.5L357.1 209.3L354.0 207.5L351.5 208.7Z" class="e"/><path d="M352.1 211.7L354.6 210.5L351.5 208.7L349.0 209.9Z" fill="#faf60c" stroke="#faf60c"/><path d="M352.1 211.7L354.6 210.5L351.5 208.7L349.0 209.9Z" class="e"/><path d="M357.7 212.2L360.2 211.0L357.1 209.3L354.6 210.5Z" fill="#faf60c" stroke="#faf60c"/><path d="M357.7 212.2L360.2 211.0L357.1 209.3L354.6 210.5Z" class="e"/><path d="M349.6 212.9L352.1 211.7L349.0 209.9L346.4 211.1Z" fill="#faf60c" stroke="#faf60c"/><path d="M349.6 212.9L352.1 211.7L349.0 209.9L346.4 211.1Z" class="e"/><path d="M355.2 213.4L357.7 212.2L354.6 210.5L352.1 211.7Z" fill="#faf60c" stroke="#faf60c"/><path d="M355.2 213.4L357.7 212.2L354.6 210.5L352.1 211.7Z" class="e"/><path d="M360.8 214.0L363.3 212.8L360.2 211.0L357.7 212.2Z" fill="#faf60c" stroke="#faf60c"/><path d="M360.8 214.0L363.3 212.8L360.2 211.0L357.7 212.2Z" class="e"/><path d="M347.0 214.1L349.6 212.9L346.4 211.1L343.9 212.3Z" fill="#faf60c" stroke="#faf60c"/><path d="M347.0 214.1L349.6 212.9L346.4 211.1L343.9 212.3Z" class="e"/><path d="M352.7 214.6L355.2 213.4L352.1 211.7L349.6 212.9Z" fill="#faf60c" stroke="#faf60c"/><path d="M352.7 214.6L355.2 213.4L352.1 211.7L349.6 212.9Z" class="e"/><path d="M358.3 215.2L360.8 214.0L357.7 212.2L355.2 213.4Z" fill="#faf60c" stroke="#faf60c"/><path d="M358.3 215.2L360.8 214.0L357.7 212.2L355.2 213.4Z" class="e"/><path d="M344.5 215.3L347.0 214.1L343.9 212.3L341.4 213.5Z" fill="#faf60c" stroke="#faf60c"/><path d="M344.5 215.3L347.0 214.1L343.9 212.3L341.4 213.5Z" class="e"/><path d="M363.9 215.8L366.5 214.6L363.3 212.8L360.8 214.0Z" fill="#faf60c" stroke="#faf60c"/><path d="M363.9 215.8L366.5 214.6L363.3 212.8L360.8 214.0Z" class="e"/><path d="M350.2 215.9L352.7 214.6L349.6 212.9L347.0 214.1Z" fill="#faf60c" stroke="#faf60c"/><path d="M350.2 215.9L352.7 214.6L349.6 212.9L347.0 214.1Z" class="e"/><path d="M355.8 216.4L358.3 215.2L355.2 213.4L352.7 214.6Z" fill="#faf60c" stroke="#faf60c"/><path d="M355.8 216.4L358.3 215.2L355.2 213.4L352.7 214.6Z" class="e"/><path d="M342.0 216.5L344.5 215.3L341.4 213.5L338.9 214.7Z" fill="#faf60c" stroke="#faf60c"/><path d="M342.0 216.5L344.5 215.3L341.4 213.5L338.9 214.7Z" class="e"/><path d="M361.4 217.0L363.9 215.8L360.8 214.0L358.3 215.2Z" fill="#faf60c" stroke="#faf60c"/><path d="M361.4 217.0L363.9 215.8L360.8 214.0L358.3 215.2Z" class="e"/><path d="M347.6 217.1L350.2 215.9L347.0 214.1L344.5 215.3Z" fill="#faf60c" stroke="#faf60c"/><path d="M347.6 217.1L350.2 215.9L347.0 214.1L344.5 215.3Z" class="e"/><path d="M367.1 217.5L369.6 216.3L366.5 214.6L363.9 215.8Z" fill="#faf60c" stroke="#faf60c"/><path d="M367.1 217.5L369.6 216.3L366.5 214.6L363.9 215.8Z" class="e"/><path d="M353.3 217.6L355.8 216.4L352.7 214.6L350.2 215.9Z" fill="#faf60c" stroke="#faf60c"/><path d="M353.3 217.6L355.8 216.4L352.7 214.6L350.2 215.9Z" class="e"/><path d="M339.5 217.7L342.0 216.5L338.9 214.7L336.4 216.0Z" fill="#faf60c" stroke="#faf60c"/><path d="M339.5 217.7L342.0 216.5L338.9 214.7L336.4 216.0Z" class="e"/><path d="M358.9 218.2L361.4 217.0L358.3 215.2L355.8 216.4Z" fill="#faf60c" stroke="#faf60c"/><path d="M358.9 218.2L361.4 217.0L358.3 215.2L355.8 216.4Z" class="e"/><path d="M345.1 218.3L347.6 217.1L344.5 215.3L342.0 216.5Z" fill="#faf60c" stroke="#faf60c"/><path d="M345.1 218.3L347.6 217.1L344.5 215.3L342.0 216.5Z" class="e"/><path d="M364.6 218.7L367.1 217.5L363.9 215.8L361.4 217.0Z" fill="#faf60c" stroke="#faf60c"/><path d="M364.6 218.7L367.1 217.5L363.9 215.8L361.4 217.0Z" class="e"/><path d="M350.8 218.8L353.3 217.6L350.2 215.9L347.6 217.1Z" fill="#faf60c" stroke="#faf60c"/><path d="M350.8 218.8L353.3 217.6L350.2 215.9L347.6 217.1Z" class="e"/><path d="M337.0 218.9L339.5 217.7L336.4 216.0L333.9 217.2Z" fill="#faf60c" stroke="#faf60c"/><path d="M337.0 218.9L339.5 217.7L336.4 216.0L333.9 217.2Z" class="e"/><path d="M370.2 219.3L372.7 218.1L369.6 216.3L367.1 217.5Z" fill="#faf60c" stroke="#faf60c"/><path d="M370.2 219.3L372.7 218.1L369.6 216.3L367.1 217.5Z" class="e"/><path d="M356.4 219.4L358.9 218.2L355.8 216.4L353.3 217.6Z" fill="#faf60c" stroke="#faf60c"/><path d="M356.4 219.4L358.9 218.2L355.8 216.4L353.3 217.6Z" class="e"/><path d="M342.6 219.5L345.1 218.3L342.0 216.5L339.5 217.7Z" fill="#faf60c" stroke="#faf60c"/><path d="M342.6 219.5L345.1 218.3L342.0 216.5L339.5 217.7Z" class="e"/><path d="M362.0 220.0L364.6 218.7L361.4 217.0L358.9 218.2Z" fill="#faf60c" stroke="#faf60c"/><path d="M362.0 220.0L364.6 218.7L361.4 217.0L358.9 218.2Z" class="e"/><path d="M348.3 220.0L350.8 218.8L347.6 217.1L345.1 218.3Z" fill="#faf60c" stroke="#faf60c"/><path d="M348.3 220.0L350.8 218.8L347.6 217.1L345.1 218.3Z" class="e"/><path d="M334.5 220.1L337.0 218.9L333.9 217.2L331.3 218.4Z" fill="#faf60c" stroke="#faf60c"/><path d="M334.5 220.1L337.0 218.9L333.9 217.2L331.3 218.4Z" class="e"/><path d="M367.7 220.5L370.2 219.3L367.1 217.5L364.6 218.7Z" fill="#faf60c" stroke="#faf60c"/><path d="M367.7 220.5L370.2 219.3L367.1 217.5L364.6 218.7Z" class="e"/><path d="M353.9 220.6L356.4 219.4L353.3 217.6L350.8 218.8Z" fill="#faf60c" stroke="#faf60c"/><path d="M353.9 220.6L356.4 219.4L353.3 217.6L350.8 218.8Z" class="e"/><path d="M340.1 220.7L342.6 219.5L339.5 217.7L337.0 218.9Z" fill="#faf60c" stroke="#faf60c"/><path d="M340.1 220.7L342.6 219.5L339.5 217.7L337.0 218.9Z" class="e"/><path d="M373.3 221.1L375.8 219.9L372.7 218.1L370.2 219.3Z" fill="#faf60c" stroke="#faf60c"/><path d="M373.3 221.1L375.8 219.9L372.7 218.1L370.2 219.3Z" class="e"/><path d="M359.5 221.2L362.0 220.0L358.9 218.2L356.4 219.4Z" fill="#faf60c" stroke="#faf60c"/><path d="M359.5 221.2L362.0 220.0L358.9 218.2L356.4 219.4Z" class="e"/><path d="M345.7 221.3L348.3 220.0L345.1 218.3L342.6 219.5Z" fill="#faf60c" stroke="#faf60c"/><path d="M345.7 221.3L348.3 220.0L345.1 218.3L342.6 219.5Z" class="e"/><path d="M332.0 221.4L334.5 220.1L331.3 218.4L328.8 219.6Z" fill="#faf60c" stroke="#faf60c"/><path d="M332.0 221.4L334.5 220.1L331.3 218.4L328.8 219.6Z" class="e"/><path d="M365.2 221.7L367.7 220.5L364.6 218.7L362.0 220.0Z" fill="#faf60c" stroke="#faf60c"/><path d="M365.2 221.7L367.7 220.5L364.6 218.7L362.0 220.0Z" class="e"/><path d="M351.4 221.8L353.9 220.6L350.8 218.8L348.3 220.0Z" fill="#faf60c" stroke="#faf60c"/><path d="M351.4 221.8L353.9 220.6L350.8 218.8L348.3 220.0Z" class="e"/><path d="M337.6 221.9L340.1 220.7L337.0 218.9L334.5 220.1Z" fill="#faf60c" stroke="#faf60c"/><path d="M337.6 221.9L340.1 220.7L337.0 218.9L334.5 220.1Z" class="e"/><path d="M370.8 222.3L373.3 221.1L370.2 219.3L367.7 220.5Z" fill="#faf60c" stroke="#faf60c"/><path d="M370.8 222.3L373.3 221.1L370.2 219.3L367.7 220.5Z" class="e"/><path d="M357.0 222.4L359.5 221.2L356.4 219.4L353.9 220.6Z" fill="#faf60c" stroke="#faf60c"/><path d="M357.0 222.4L359.5 221.2L356.4 219.4L353.9 220.6Z" class="e"/><path d="M343.2 222.5L345.7 221.3L342.6 219.5L340.1 220.7Z" fill="#faf60c" stroke="#faf60c"/><path d="M343.2 222.5L345.7 221.3L342.6 219.5L340.1 220.7Z" class="e"/><path d="M329.4 222.6L332.0 221.4L328.8 219.6L326.3 220.8Z" fill="#faf60c" stroke="#faf60c"/><path d="M329.4 222.6L332.0 221.4L328.8 219.6L326.3 220.8Z" class="e"/><path d="M376.4 222.8L378.9 221.6L375.8 219.9L373.3 221.1Z" fill="#faf60c" stroke="#faf60c"/><path d="M376.4 222.8L378.9 221.6L375.8 219.9L373.3 221.1Z" class="e"/><path d="M362.6 222.9L365.2 221.7L362.0 220.0L359.5 221.2Z" fill="#faf60c" stroke="#faf60c"/><path d="M362.6 222.9L365.2 221.7L362.0 220.0L359.5 221.2Z" class="e"/><path d="M348.9 223.0L351.4 221.8L348.3 220.0L345.7 221.3Z" fill="#faf60c" stroke="#faf60c"/><path d="M348.9 223.0L351.4 221.8L348.3 220.0L345.7 221.3Z" class="e"/><path d="M335.1 223.1L337.6 221.9L334.5 220.1L332.0 221.4Z" fill="#faf60c" stroke="#faf60c"/><path d="M335.1 223.1L337.6 221.9L334.5 220.1L332.0 221.4Z" class="e"/><path d="M368.3 223.5L370.8 222.3L367.7 220.5L365.2 221.7Z" fill="#faf60c" stroke="#faf60c"/><path d="M368.3 223.5L370.8 222.3L367.7 220.5L365.2 221.7Z" class="e"/><path d="M354.5 223.6L357.0 222.4L353.9 220.6L351.4 221.8Z" fill="#faf60c" stroke="#faf60c"/><path d="M354.5 223.6L357.0 222.4L353.9 220.6L351.4 221.8Z" class="e"/><path d="M340.7 223.7L343.2 222.5L340.1 220.7L337.6 221.9Z" fill="#faf60c" stroke="#faf60c"/><path d="M340.7 223.7L343.2 222.5L340.1 220.7L337.6 221.9Z" class="e"/><path d="M326.9 223.8L329.4 222.6L326.3 220.8L323.8 222.0Z" fill="#faf60c" stroke="#faf60c"/><path d="M326.9 223.8L329.4 222.6L326.3 220.8L323.8 222.0Z" class="e"/><path d="M373.9 224.0L376.4 222.8L373.3 221.1L370.8 222.3Z" fill="#faf60c" stroke="#faf60c"/><path d="M373.9 224.0L376.4 222.8L373.3 221.1L370.8 222.3Z" class="e"/><path d="M360.1 224.1L362.6 222.9L359.5 221.2L357.0 222.4Z" fill="#faf60c" stroke="#faf60c"/><path d="M360.1 224.1L362.6 222.9L359.5 221.2L357.0 222.4Z" class="e"/><path d="M346.3 224.2L348.9 223.0L345.7 221.3L343.2 222.5Z" fill="#faf60c" stroke="#faf60c"/><path d="M346.3 224.2L348.9 223.0L345.7 221.3L343.2 222.5Z" class="e"/><path d="M332.6 224.3L335.1 223.1L332.0 221.4L329.4 222.6Z" fill="#faf60c" stroke="#faf60c"/><path d="M332.6 224.3L335.1 223.1L332.0 221.4L329.4 222.6Z" class="e"/><path d="M379.5 224.6L382.1 223.4L378.9 221.6L376.4 222.8Z" fill="#faf60c" stroke="#faf60c"/><path d="M379.5 224.6L382.1 223.4L378.9 221.6L376.4 222.8Z" class="e"/><path d="M365.8 224.7L368.3 223.5L365.2 221.7L362.6 222.9Z" fill="#faf60c" stroke="#faf60c"/><path d="M365.8 224.7L368.3 223.5L365.2 221.7L362.6 222.9Z" class="e"/><path d="M352.0 224.8L354.5 223.6L351.4 221.8L348.9 223.0Z" fill="#faf60c" stroke="#faf60c"/><path d="M352.0 224.8L354.5 223.6L351.4 221.8L348.9 223.0Z" class="e"/><path d="M338.2 224.9L340.7 223.7L337.6 221.9L335.1 223.1Z" fill="#faf60c" stroke="#faf60c"/><path d="M338.2 224.9L340.7 223.7L337.6 221.9L335.1 223.1Z" class="e"/><path d="M324.4 225.0L326.9 223.8L323.8 222.0L321.3 223.2Z" fill="#faf60c" stroke="#faf60c"/><path d="M324.4 225.0L326.9 223.8L323.8 222.0L321.3 223.2Z" class="e"/><path d="M371.4 251.1L373.9 224.0L370.8 222.3L368.3 223.5Z" fill="#3c23ae" stroke="#3c23ae"/><path d="M371.4 251.1L373.9 224.0L370.8 222.3L368.3 223.5Z" class="e"/><path d="M357.6 225.3L360.1 224.1L357.0 222.4L354.5 223.6Z" fill="#faf60c" stroke="#faf60c"/><path d="M357.6 225.3L360.1 224.1L357.0 222.4L354.5 223.6Z" class="e"/><path d="M343.8 225.4L346.3 224.2L343.2 222.5L340.7 223.7Z" fill="#faf60c" stroke="#faf60c"/><path d="M343.8 225.4L346.3 224.2L343.2 222.5L340.7 223.7Z" class="e"/><path d="M330.0 225.5L332.6 224.3L329.4 222.6L326.9 223.8Z" fill="#faf60c" stroke="#faf60c"/><path d="M330.0 225.5L332.6 224.3L329.4 222.6L326.9 223.8Z" class="e"/><path d="M377.0 225.8L379.5 224.6L376.4 222.8L373.9 224.0Z" fill="#faf60c" stroke="#faf60c"/><path d="M377.0 225.8L379.5 224.6L376.4 222.8L373.9 224.0Z" class="e"/><path d="M363.2 225.9L365.8 224.7L362.6 222.9L360.1 224.1Z" fill="#faf60c" stroke="#faf60c"/><path d="M363.2 225.9L365.8 224.7L362.6 222.9L360.1 224.1Z" class="e"/><path d="M349.5 226.0L352.0 224.8L348.9 223.0L346.3 224.2Z" fill="#faf60c" stroke="#faf60c"/><path d="M349.5 226.0L352.0 224.8L348.9 223.0L346.3 224.2Z" class="e"/><path d="M335.7 226.1L338.2 224.9L335.1 223.1L332.6 224.3Z" fill="#faf60c" stroke="#faf60c"/><path d="M335.7 226.1L338.2 224.9L335.1 223.1L332.6 224.3Z" class="e"/><path d="M321.9 226.2L324.4 225.0L321.3 223.2L318.8 224.4Z" fill="#faf60c" stroke="#faf60c"/><path d="M321.9 226.2L324.4 225.0L321.3 223.2L318.8 224.4Z" class="e"/><path d="M382.7 226.4L385.2 225.2L382.1 223.4L379.5 224.6Z" fill="#faf60c" stroke="#faf60c"/><path d="M382.7 226.4L385.2 225.2L382.1 223.4L379.5 224.6Z" class="e"/><path d="M368.9 252.3L371.4 251.1L368.3 223.5L365.8 224.7Z" fill="#3c23ae" stroke="#3c23ae"/><path d="M368.9 252.3L371.4 251.1L368.3 223.5L365.8 224.7Z" class="e"/><path d="M355.1 226.6L357.6 225.3L354.5 223.6L352.0 224.8Z" fill="#faf60c" stroke="#faf60c"/><path d="M355.1 226.6L357.6 225.3L354.5 223.6L352.0 224.8Z" class="e"/><path d="M341.3 226.7L343.8 225.4L340.7 223.7L338.2 224.9Z" fill="#faf60c" stroke="#faf60c"/><path d="M341.3 226.7L343.8 225.4L340.7 223.7L338.2 224.9Z" class="e"/><path d="M327.5 226.7L330.0 225.5L326.9 223.8L324.4 225.0Z" fill="#faf60c" stroke="#faf60c"/><path d="M327.5 226.7L330.0 225.5L326.9 223.8L324.4 225.0Z" class="e"/><path d="M374.5 252.8L377.0 225.8L373.9 224.0L371.4 251.1Z" fill="#3c23ae" stroke="#3c23ae"/><path d="M374.5 252.8L377.0 225.8L373.9 224.0L371.4 251.1Z" class="e"/><path d="M360.7 227.1L363.2 225.9L360.1 224.1L357.6 225.3Z" fill="#faf60c" stroke="#faf60c"/><path d="M360.7 227.1L363.2 225.9L360.1 224.1L357.6 225.3Z" class="e"/><path d="M346.9 227.2L349.5 226.0L346.3 224.2L343.8 225.4Z" fill="#faf60c" stroke="#faf60c"/><path d="M346.9 227.2L349.5 226.0L346.3 224.2L343.8 225.4Z" class="e"/><path d="M333.2 227.3L335.7 226.1L332.6 224.3L330.0 225.5Z" fill="#faf60c" stroke="#faf60c"/><path d="M333.2 227.3L335.7 226.1L332.6 224.3L330.0 225.5Z" class="e"/><path d="M319.4 227.4L321.9 226.2L318.8 224.4L316.3 225.6Z" fill="#faf60c" stroke="#faf60c"/><path d="M319.4 227.4L321.9 226.2L318.8 224.4L316.3 225.6Z" class="e"/><path d="M380.2 227.6L382.7 226.4L379.5 224.6L377.0 225.8Z" fill="#faf60c" stroke="#faf60c"/><path d="M380.2 227.6L382.7 226.4L379.5 224.6L377.0 225.8Z" class="e"/><path d="M366.4 253.5L368.9 252.3L365.8 224.7L363.2 225.9Z" fill="#3c23ae" stroke="#3c23ae"/><path d="M366.4 253.5L368.9 252.3L365.8 224.7L363.2 225.9Z" class="e"/><path d="M352.6 227.8L355.1 226.6L352.0 224.8L349.5 226.0Z" fill="#faf60c" stroke="#faf60c"/><path d="M352.6 227.8L355.1 226.6L352.0 224.8L349.5 226.0Z" class="e"/><path d="M338.8 227.9L341.3 226.7L338.2 224.9L335.7 226.1Z" fill="#faf60c" stroke="#faf60c"/><path d="M338.8 227.9L341.3 226.7L338.2 224.9L335.7 226.1Z" class="e"/><path d="M325.0 228.0L327.5 226.7L324.4 225.0L321.9 226.2Z" fill="#faf60c" stroke="#faf60c"/><path d="M325.0 228.0L327.5 226.7L324.4 225.0L321.9 226.2Z" class="e"/><path d="M385.8 228.1L388.3 226.9L385.2 225.2L382.7 226.4Z" fill="#faf60c" stroke="#faf60c"/><path d="M385.8 228.1L388.3 226.9L385.2 225.2L382.7 226.4Z" class="e"/><path d="M372.0 254.1L374.5 252.8L371.4 251.1L368.9 252.3Z" fill="#3c23ae" stroke="#3c23ae"/><path d="M372.0 254.1L374.5 252.8L371.4 251.1L368.9 252.3Z" class="e"/><path d="M358.2 228.3L360.7 227.1L357.6 225.3L355.1 226.6Z" fill="#faf60c" stroke="#faf60c"/><path d="M358.2 228.3L360.7 227.1L357.6 225.3L355.1 226.6Z" class="e"/><path d="M344.4 228.4L346.9 227.2L343.8 225.4L341.3 226.7Z" fill="#faf60c" stroke="#faf60c"/><path d="M344.4 228.4L346.9 227.2L343.8 225.4L341.3 226.7Z" class="e"/><path d="M330.6 228.5L333.2 227.3L330.0 225.5L327.5 226.7Z" fill="#faf60c" stroke="#faf60c"/><path d="M330.6 228.5L333.2 227.3L330.0 225.5L327.5 226.7Z" class="e"/><path d="M316.9 228.6L319.4 227.4L316.3 225.6L313.7 226.8Z" fill="#faf60c" stroke="#faf60c"/><path d="M316.9 228.6L319.4 227.4L316.3 225.6L313.7 226.8Z" class="e"/><path d="M377.6 254.6L380.2 227.6L377.0 225.8L374.5 252.8Z" fill="#3c23ae" stroke="#3c23ae"/><path d="M377.6 254.6L380.2 227.6L377.0 225.8L374.5 252.8Z" class="e"/><path d="M363.9 254.7L366.4 253.5L363.2 225.9L360.7 227.1Z" fill="#3c23ae" stroke="#3c23ae"/><path d="M363.9 254.7L366.4 253.5L363.2 225.9L360.7 227.1Z" class="e"/><path d="M350.1 229.0L352.6 227.8L349.5 226.0L346.9 227.2Z" fill="#faf60c" stroke="#faf60c"/><path d="M350.1 229.0L352.6 227.8L349.5 226.0L346.9 227.2Z" class="e"/><path d="M336.3 229.1L338.8 227.9L335.7 226.1L333.2 227.3Z" fill="#faf60c" stroke="#faf60c"/><path d="M336.3 229.1L338.8 227.9L335.7 226.1L333.2 227.3Z" class="e"/><path d="M322.5 229.2L325.0 228.0L321.9 226.2L319.4 227.4Z" fill="#faf60c" stroke="#faf60c"/><path d="M322.5 229.2L325.0 228.0L321.9 226.2L319.4 227.4Z" class="e"/><path d="M383.3 229.3L385.8 228.1L382.7 226.4L380.2 227.6Z" fill="#faf60c" stroke="#faf60c"/><path d="M383.3 229.3L385.8 228.1L382.7 226.4L380.2 227.6Z" class="e"/><path d="M369.5 255.3L372.0 254.1L368.9 252.3L366.4 253.5Z" fill="#3c23ae" stroke="#3c23ae"/><path d="M369.5 255.3L372.0 254.1L368.9 252.3L366.4 253.5Z" class="e"/><path d="M355.7 229.5L358.2 228.3L355.1 226.6L352.6 227.8Z" fill="#faf60c" stroke="#faf60c"/><path d="M355.7 229.5L358.2 228.3L355.1 226.6L352.6 227.8Z" class="e"/><path d="M341.9 229.6L344.4 228.4L341.3 226.7L338.8 227.9Z" fill="#faf60c" stroke="#faf60c"/><path d="M341.9 229.6L344.4 228.4L341.3 226.7L338.8 227.9Z" class="e"/><path d="M328.1 229.7L330.6 228.5L327.5 226.7L325.0 228.0Z" fill="#faf60c" stroke="#faf60c"/><path d="M328.1 229.7L330.6 228.5L327.5 226.7L325.0 228.0Z" class="e"/><path d="M314.3 229.8L316.9 228.6L313.7 226.8L311.2 228.1Z" fill="#faf60c" stroke="#faf60c"/><path d="M314.3 229.8L316.9 228.6L313.7 226.8L311.2 228.1Z" class="e"/><path d="M388.9 229.9L391.4 228.7L388.3 226.9L385.8 228.1Z" fill="#faf60c" stroke="#faf60c"/><path d="M388.9 229.9L391.4 228.7L388.3 226.9L385.8 228.1Z" class="e"/><path d="M375.1 255.8L377.6 254.6L374.5 252.8L372.0 254.1Z" fill="#3c23ae" stroke="#3c23ae"/><path d="M375.1 255.8L377.6 254.6L374.5 252.8L372.0 254.1Z" class="e"/><path d="M361.3 255.9L363.9 254.7L360.7 227.1L358.2 228.3Z" fill="#3c23ae" stroke="#3c23ae"/><path d="M361.3 255.9L363.9 254.7L360.7 227.1L358.2 228.3Z" class="e"/><path d="M347.6 230.2L350.1 229.0L346.9 227.2L344.4 228.4Z" fill="#faf60c" stroke="#faf60c"/><path d="M347.6 230.2L350.1 229.0L346.9 227.2L344.4 228.4Z" class="e"/><path d="M333.8 230.3L336.3 229.1L333.2 227.3L330.6 228.5Z" fill="#faf60c" stroke="#faf60c"/><path d="M333.8 230.3L336.3 229.1L333.2 227.3L330.6 228.5Z" class="e"/><path d="M320.0 230.4L322.5 229.2L319.4 227.4L316.9 228.6Z" fill="#faf60c" stroke="#faf60c"/><path d="M320.0 230.4L322.5 229.2L319.4 227.4L316.9 228.6Z" class="e"/><path d="M380.8 256.4L383.3 229.3L380.2 227.6L377.6 254.6Z" fill="#3c23ae" stroke="#3c23ae"/><path d="M380.8 256.4L383.3 229.3L380.2 227.6L377.6 254.6Z" class="e"/><path d="M367.0 256.5L369.5 255.3L366.4 253.5L363.9 254.7Z" fill="#3c23ae" stroke="#3c23ae"/><path d="M367.0 256.5L369.5 255.3L366.4 253.5L363.9 254.7Z" class="e"/><path d="M353.2 230.7L355.7 229.5L352.6 227.8L350.1 229.0Z" fill="#faf60c" stroke="#faf60c"/><path d="M353.2 230.7L355.7 229.5L352.6 227.8L350.1 229.0Z" class="e"/><path d="M339.4 230.8L341.9 229.6L338.8 227.9L336.3 229.1Z" fill="#faf60c" stroke="#faf60c"/><path d="M339.4 230.8L341.9 229.6L338.8 227.9L336.3 229.1Z" class="e"/><path d="M325.6 230.9L328.1 229.7L325.0 228.0L322.5 229.2Z" fill="#faf60c" stroke="#faf60c"/><path d="M325.6 230.9L328.1 229.7L325.0 228.0L322.5 229.2Z" class="e"/><path d="M311.8 231.0L314.3 229.8L311.2 228.1L308.7 229.3Z" fill="#faf60c" stroke="#faf60c"/><path d="M311.8 231.0L314.3 229.8L311.2 228.1L308.7 229.3Z" class="e"/><path d="M386.4 231.1L388.9 229.9L385.8 228.1L383.3 229.3Z" fill="#faf60c" stroke="#faf60c"/><path d="M386.4 231.1L388.9 229.9L385.8 228.1L383.3 229.3Z" class="e"/><path d="M372.6 257.0L375.1 255.8L372.0 254.1L369.5 255.3Z" fill="#3c23ae" stroke="#3c23ae"/><path d="M372.6 257.0L375.1 255.8L372.0 254.1L369.5 255.3Z" class="e"/><path d="M358.8 257.1L361.3 255.9L358.2 228.3L355.7 229.5Z" fill="#3c23ae" stroke="#3c23ae"/><path d="M358.8 257.1L361.3 255.9L358.2 228.3L355.7 229.5Z" class="e"/><path d="M345.0 231.4L347.6 230.2L344.4 228.4L341.9 229.6Z" fill="#faf60c" stroke="#faf60c"/><path d="M345.0 231.4L347.6 230.2L344.4 228.4L341.9 229.6Z" class="e"/><path d="M331.3 231.5L333.8 230.3L330.6 228.5L328.1 229.7Z" fill="#faf60c" stroke="#faf60c"/><path d="M331.3 231.5L333.8 230.3L330.6 228.5L328.1 229.7Z" class="e"/><path d="M317.5 231.6L320.0 230.4L316.9 228.6L314.3 229.8Z" fill="#faf60c" stroke="#faf60c"/><path d="M317.5 231.6L320.0 230.4L316.9 228.6L314.3 229.8Z" class="e"/><path d="M392.0 231.7L394.5 230.5L391.4 228.7L388.9 229.9Z" fill="#faf60c" stroke="#faf60c"/><path d="M392.0 231.7L394.5 230.5L391.4 228.7L388.9 229.9Z" class="e"/><path d="M378.2 257.6L380.8 256.4L377.6 254.6L375.1 255.8Z" fill="#3c23ae" stroke="#3c23ae"/><path d="M378.2 257.6L380.8 256.4L377.6 254.6L375.1 255.8Z" class="e"/><path d="M364.5 257.7L367.0 256.5L363.9 254.7L361.3 255.9Z" fill="#3c23ae" stroke="#3c23ae"/><path d="M364.5 257.7L367.0 256.5L363.9 254.7L361.3 255.9Z" class="e"/><path d="M350.7 253.0L353.2 230.7L350.1 229.0L347.6 230.2Z" fill="#3d68f0" stroke="#3d68f0"/><path d="M350.7 253.0L353.2 230.7L350.1 229.0L347.6 230.2Z" class="e"/><path d="M336.9 232.1L339.4 230.8L336.3 229.1L333.8 230.3Z" fill="#faf60c" stroke="#faf60c"/><path d="M336.9 232.1L339.4 230.8L336.3 229.1L333.8 230.3Z" class="e"/><path d="M323.1 245.3L325.6 230.9L322.5 229.2L320.0 230.4Z" fill="#3cc093" stroke="#3cc093"/><path d="M323.1 245.3L325.6 230.9L322.5 229.2L320.0 230.4Z" class="e"/><path d="M383.9 258.1L386.4 231.1L383.3 229.3L380.8 256.4Z" fill="#3c23ae" stroke="#3c23ae"/><path d="M383.9 258.1L386.4 231.1L383.3 229.3L380.8 256.4Z" class="e"/><path d="M370.1 258.2L372.6 257.0L369.5 255.3L367.0 256.5Z" fill="#3c23ae" stroke="#3c23ae"/><path d="M370.1 258.2L372.6 257.0L369.5 255.3L367.0 256.5Z" class="e"/><path d="M356.3 258.3L358.8 257.1L355.7 229.5L353.2 230.7Z" fill="#3c23ae" stroke="#3c23ae"/><path d="M356.3 258.3L358.8 257.1L355.7 229.5L353.2 230.7Z" class="e"/><path d="M342.5 232.6L345.0 231.4L341.9 229.6L339.4 230.8Z" fill="#faf60c" stroke="#faf60c"/><path d="M342.5 232.6L345.0 231.4L341.9 229.6L339.4 230.8Z" class="e"/><path d="M328.7 232.7L331.3 231.5L328.1 229.7L325.6 230.9Z" fill="#faf60c" stroke="#faf60c"/><path d="M328.7 232.7L331.3 231.5L328.1 229.7L325.6 230.9Z" class="e"/><path d="M315.0 232.8L317.5 231.6L314.3 229.8L311.8 231.0Z" fill="#faf60c" stroke="#faf60c"/><path d="M315.0 232.8L317.5 231.6L314.3 229.8L311.8 231.0Z" class="e"/><path d="M389.5 232.9L392.0 231.7L388.9 229.9L386.4 231.1Z" fill="#faf60c" stroke="#faf60c"/><path d="M389.5 232.9L392.0 231.7L388.9 229.9L386.4 231.1Z" class="e"/><path d="M375.7 258.8L378.2 257.6L375.1 255.8L372.6 257.0Z" fill="#3c23ae" stroke="#3c23ae"/><path d="M375.7 258.8L378.2 257.6L375.1 255.8L372.6 257.0Z" class="e"/><path d="M361.9 258.9L364.5 257.7L361.3 255.9L358.8 257.1Z" fill="#3c23ae" stroke="#3c23ae"/><path d="M361.9 258.9L364.5 257.7L361.3 255.9L358.8 257.1Z" class="e"/><path d="M348.2 254.2L350.7 253.0L347.6 230.2L345.0 231.4Z" fill="#3d68f0" stroke="#3d68f0"/><path d="M348.2 254.2L350.7 253.0L347.6 230.2L345.0 231.4Z" class="e"/><path d="M334.4 233.3L336.9 232.1L333.8 230.3L331.3 231.5Z" fill="#faf60c" stroke="#faf60c"/><path d="M334.4 233.3L336.9 232.1L333.8 230.3L331.3 231.5Z" class="e"/><path d="M320.6 233.4L323.1 245.3L320.0 230.4L317.5 231.6Z" fill="#faf60c" stroke="#faf60c"/><path d="M320.6 233.4L323.1 245.3L320.0 230.4L317.5 231.6Z" class="e"/><path d="M395.1 233.4L397.7 232.2L394.5 230.5L392.0 231.7Z" fill="#faf60c" stroke="#faf60c"/><path d="M395.1 233.4L397.7 232.2L394.5 230.5L392.0 231.7Z" class="e"/><path d="M381.4 259.4L383.9 258.1L380.8 256.4L378.2 257.6Z" fill="#3c23ae" stroke="#3c23ae"/><path d="M381.4 259.4L383.9 258.1L380.8 256.4L378.2 257.6Z" class="e"/><path d="M367.6 259.4L370.1 258.2L367.0 256.5L364.5 257.7Z" fill="#3c23ae" stroke="#3c23ae"/><path d="M367.6 259.4L370.1 258.2L367.0 256.5L364.5 257.7Z" class="e"/><path d="M353.8 254.8L356.3 258.3L353.2 230.7L350.7 253.0Z" fill="#3d68f0" stroke="#3d68f0"/><path d="M353.8 254.8L356.3 258.3L353.2 230.7L350.7 253.0Z" class="e"/><path d="M340.0 233.8L342.5 232.6L339.4 230.8L336.9 232.1Z" fill="#faf60c" stroke="#faf60c"/><path d="M340.0 233.8L342.5 232.6L339.4 230.8L336.9 232.1Z" class="e"/><path d="M326.2 247.1L328.7 232.7L325.6 230.9L323.1 245.3Z" fill="#3cc093" stroke="#3cc093"/><path d="M326.2 247.1L328.7 232.7L325.6 230.9L323.1 245.3Z" class="e"/><path d="M387.0 234.1L389.5 232.9L386.4 231.1L383.9 258.1Z" fill="#faf60c" stroke="#faf60c"/><path d="M387.0 234.1L389.5 232.9L386.4 231.1L383.9 258.1Z" class="e"/><path d="M373.2 260.0L375.7 258.8L372.6 257.0L370.1 258.2Z" fill="#3c23ae" stroke="#3c23ae"/><path d="M373.2 260.0L375.7 258.8L372.6 257.0L370.1 258.2Z" class="e"/><path d="M359.4 260.1L361.9 258.9L358.8 257.1L356.3 258.3Z" fill="#3c23ae" stroke="#3c23ae"/><path d="M359.4 260.1L361.9 258.9L358.8 257.1L356.3 258.3Z" class="e"/><path d="M345.6 255.5L348.2 254.2L345.0 231.4L342.5 232.6Z" fill="#3d68f0" stroke="#3d68f0"/><path d="M345.6 255.5L348.2 254.2L345.0 231.4L342.5 232.6Z" class="e"/><path d="M331.9 234.5L334.4 233.3L331.3 231.5L328.7 232.7Z" fill="#faf60c" stroke="#faf60c"/><path d="M331.9 234.5L334.4 233.3L331.3 231.5L328.7 232.7Z" class="e"/><path d="M318.1 234.6L320.6 233.4L317.5 231.6L315.0 232.8Z" fill="#faf60c" stroke="#faf60c"/><path d="M318.1 234.6L320.6 233.4L317.5 231.6L315.0 232.8Z" class="e"/><path d="M392.6 234.6L395.1 233.4L392.0 231.7L389.5 232.9Z" fill="#faf60c" stroke="#faf60c"/><path d="M392.6 234.6L395.1 233.4L392.0 231.7L389.5 232.9Z" class="e"/><path d="M378.8 260.6L381.4 259.4L378.2 257.6L375.7 258.8Z" fill="#3c23ae" stroke="#3c23ae"/><path d="M378.8 260.6L381.4 259.4L378.2 257.6L375.7 258.8Z" class="e"/><path d="M365.1 260.7L367.6 259.4L364.5 257.7L361.9 258.9Z" fill="#3c23ae" stroke="#3c23ae"/><path d="M365.1 260.7L367.6 259.4L364.5 257.7L361.9 258.9Z" class="e"/><path d="M351.3 256.0L353.8 254.8L350.7 253.0L348.2 254.2Z" fill="#3d68f0" stroke="#3d68f0"/><path d="M351.3 256.0L353.8 254.8L350.7 253.0L348.2 254.2Z" class="e"/><path d="M337.5 235.0L340.0 233.8L336.9 232.1L334.4 233.3Z" fill="#faf60c" stroke="#faf60c"/><path d="M337.5 235.0L340.0 233.8L336.9 232.1L334.4 233.3Z" class="e"/><path d="M323.7 235.1L326.2 247.1L323.1 245.3L320.6 233.4Z" fill="#faf60c" stroke="#faf60c"/><path d="M323.7 235.1L326.2 247.1L323.1 245.3L320.6 233.4Z" class="e"/><path d="M384.5 235.3L387.0 234.1L383.9 258.1L381.4 259.4Z" fill="#faf60c" stroke="#faf60c"/><path d="M384.5 235.3L387.0 234.1L383.9 258.1L381.4 259.4Z" class="e"/><path d="M370.7 261.2L373.2 260.0L370.1 258.2L367.6 259.4Z" fill="#3c23ae" stroke="#3c23ae"/><path d="M370.7 261.2L373.2 260.0L370.1 258.2L367.6 259.4Z" class="e"/><path d="M356.9 261.3L359.4 260.1L356.3 258.3L353.8 254.8Z" fill="#3c23ae" stroke="#3c23ae"/><path d="M356.9 261.3L359.4 260.1L356.3 258.3L353.8 254.8Z" class="e"/><path d="M343.1 256.7L345.6 255.5L342.5 232.6L340.0 233.8Z" fill="#3d68f0" stroke="#3d68f0"/><path d="M343.1 256.7L345.6 255.5L342.5 232.6L340.0 233.8Z" class="e"/><path d="M329.3 248.9L331.9 234.5L328.7 232.7L326.2 247.1Z" fill="#3cc093" stroke="#3cc093"/><path d="M329.3 248.9L331.9 234.5L328.7 232.7L326.2 247.1Z" class="e"/><path d="M390.1 235.9L392.6 234.6L389.5 232.9L387.0 234.1Z" fill="#faf60c" stroke="#faf60c"/><path d="M390.1 235.9L392.6 234.6L389.5 232.9L387.0 234.1Z" class="e"/><path d="M376.3 261.8L378.8 260.6L375.7 258.8L373.2 260.0Z" fill="#3c23ae" stroke="#3c23ae"/><path d="M376.3 261.8L378.8 260.6L375.7 258.8L373.2 260.0Z" class="e"/><path d="M362.5 261.9L365.1 260.7L361.9 258.9L359.4 260.1Z" fill="#3c23ae" stroke="#3c23ae"/><path d="M362.5 261.9L365.1 260.7L361.9 258.9L359.4 260.1Z" class="e"/><path d="M348.8 257.2L351.3 256.0L348.2 254.2L345.6 255.5Z" fill="#3d68f0" stroke="#3d68f0"/><path d="M348.8 257.2L351.3 256.0L348.2 254.2L345.6 255.5Z" class="e"/><path d="M335.0 236.2L337.5 235.0L334.4 233.3L331.9 234.5Z" fill="#faf60c" stroke="#faf60c"/><path d="M335.0 236.2L337.5 235.0L334.4 233.3L331.9 234.5Z" class="e"/><path d="M321.2 236.3L323.7 235.1L320.6 233.4L318.1 234.6Z" fill="#faf60c" stroke="#faf60c"/><path d="M321.2 236.3L323.7 235.1L320.6 233.4L318.1 234.6Z" class="e"/><path d="M382.0 236.5L384.5 235.3L381.4 259.4L378.8 260.6Z" fill="#faf60c" stroke="#faf60c"/><path d="M382.0 236.5L384.5 235.3L381.4 259.4L378.8 260.6Z" class="e"/><path d="M368.2 262.4L370.7 261.2L367.6 259.4L365.1 260.7Z" fill="#3c23ae" stroke="#3c23ae"/><path d="M368.2 262.4L370.7 261.2L367.6 259.4L365.1 260.7Z" class="e"/><path d="M354.4 262.5L356.9 261.3L353.8 254.8L351.3 256.0Z" fill="#3c23ae" stroke="#3c23ae"/><path d="M354.4 262.5L356.9 261.3L353.8 254.8L351.3 256.0Z" class="e"/><path d="M340.6 257.9L343.1 256.7L340.0 233.8L337.5 235.0Z" fill="#3d68f0" stroke="#3d68f0"/><path d="M340.6 257.9L343.1 256.7L340.0 233.8L337.5 235.0Z" class="e"/><path d="M326.8 236.9L329.3 248.9L326.2 247.1L323.7 235.1Z" fill="#faf60c" stroke="#faf60c"/><path d="M326.8 236.9L329.3 248.9L326.2 247.1L323.7 235.1Z" class="e"/><path d="M387.6 237.1L390.1 235.9L387.0 234.1L384.5 235.3Z" fill="#faf60c" stroke="#faf60c"/><path d="M387.6 237.1L390.1 235.9L387.0 234.1L384.5 235.3Z" class="e"/><path d="M373.8 263.0L376.3 261.8L373.2 260.0L370.7 261.2Z" fill="#3c23ae" stroke="#3c23ae"/><path d="M373.8 263.0L376.3 261.8L373.2 260.0L370.7 261.2Z" class="e"/><path d="M360.0 263.1L362.5 261.9L359.4 260.1L356.9 261.3Z" fill="#3c23ae" stroke="#3c23ae"/><path d="M360.0 263.1L362.5 261.9L359.4 260.1L356.9 261.3Z" class="e"/><path d="M346.2 258.4L348.8 257.2L345.6 255.5L343.1 256.7Z" fill="#3d68f0" stroke="#3d68f0"/><path d="M346.2 258.4L348.8 257.2L345.6 255.5L343.1 256.7Z" class="e"/><path d="M332.5 241.4L335.0 236.2L331.9 234.5L329.3 248.9Z" fill="#f0b23a" stroke="#f0b23a"/><path d="M332.5 241.4L335.0 236.2L331.9 234.5L329.3 248.9Z" class="e"/><path d="M379.5 237.7L382.0 236.5L378.8 260.6L376.3 261.8Z" fill="#faf60c" stroke="#faf60c"/><path d="M379.5 237.7L382.0 236.5L378.8 260.6L376.3 261.8Z" class="e"/><path d="M365.7 263.6L368.2 262.4L365.1 260.7L362.5 261.9Z" fill="#3c23ae" stroke="#3c23ae"/><path d="M365.7 263.6L368.2 262.4L365.1 260.7L362.5 261.9Z" class="e"/><path d="M351.9 263.7L354.4 262.5L351.3 256.0L348.8 257.2Z" fill="#3c23ae" stroke="#3c23ae"/><path d="M351.9 263.7L354.4 262.5L351.3 256.0L348.8 257.2Z" class="e"/><path d="M338.1 259.1L340.6 257.9L337.5 235.0L335.0 236.2Z" fill="#3d68f0" stroke="#3d68f0"/><path d="M338.1 259.1L340.6 257.9L337.5 235.0L335.0 236.2Z" class="e"/><path d="M324.3 238.1L326.8 236.9L323.7 235.1L321.2 236.3Z" fill="#faf60c" stroke="#faf60c"/><path d="M324.3 238.1L326.8 236.9L323.7 235.1L321.2 236.3Z" class="e"/><path d="M385.1 238.3L387.6 237.1L384.5 235.3L382.0 236.5Z" fill="#faf60c" stroke="#faf60c"/><path d="M385.1 238.3L387.6 237.1L384.5 235.3L382.0 236.5Z" class="e"/><path d="M371.3 264.2L373.8 263.0L370.7 261.2L368.2 262.4Z" fill="#3c23ae" stroke="#3c23ae"/><path d="M371.3 264.2L373.8 263.0L370.7 261.2L368.2 262.4Z" class="e"/><path d="M357.5 264.3L360.0 263.1L356.9 261.3L354.4 262.5Z" fill="#3c23ae" stroke="#3c23ae"/><path d="M357.5 264.3L360.0 263.1L356.9 261.3L354.4 262.5Z" class="e"/><path d="M343.7 259.6L346.2 258.4L343.1 256.7L340.6 257.9Z" fill="#3d68f0" stroke="#3d68f0"/><path d="M343.7 259.6L346.2 258.4L343.1 256.7L340.6 257.9Z" class="e"/><path d="M329.9 238.7L332.5 241.4L329.3 248.9L326.8 236.9Z" fill="#faf60c" stroke="#faf60c"/><path d="M329.9 238.7L332.5 241.4L329.3 248.9L326.8 236.9Z" class="e"/><path d="M376.9 238.9L379.5 237.7L376.3 261.8L373.8 263.0Z" fill="#faf60c" stroke="#faf60c"/><path d="M376.9 238.9L379.5 237.7L376.3 261.8L373.8 263.0Z" class="e"/><path d="M363.2 264.8L365.7 263.6L362.5 261.9L360.0 263.1Z" fill="#3c23ae" stroke="#3c23ae"/><path d="M363.2 264.8L365.7 263.6L362.5 261.9L360.0 263.1Z" class="e"/><path d="M349.4 264.9L351.9 263.7L348.8 257.2L346.2 258.4Z" fill="#3c23ae" stroke="#3c23ae"/><path d="M349.4 264.9L351.9 263.7L348.8 257.2L346.2 258.4Z" class="e"/><path d="M335.6 260.3L338.1 259.1L335.0 236.2L332.5 241.4Z" fill="#3d68f0" stroke="#3d68f0"/><path d="M335.6 260.3L338.1 259.1L335.0 236.2L332.5 241.4Z" class="e"/><path d="M382.6 239.5L385.1 238.3L382.0 236.5L379.5 237.7Z" fill="#faf60c" stroke="#faf60c"/><path d="M382.6 239.5L385.1 238.3L382.0 236.5L379.5 237.7Z" class="e"/><path d="M368.8 265.4L371.3 264.2L368.2 262.4L365.7 263.6Z" fill="#3c23ae" stroke="#3c23ae"/><path d="M368.8 265.4L371.3 264.2L368.2 262.4L365.7 263.6Z" class="e"/><path d="M355.0 265.5L357.5 264.3L354.4 262.5L351.9 263.7Z" fill="#3c23ae" stroke="#3c23ae"/><path d="M355.0 265.5L357.5 264.3L354.4 262.5L351.9 263.7Z" class="e"/><path d="M341.2 260.9L343.7 259.6L340.6 257.9L338.1 259.1Z" fill="#3d68f0" stroke="#3d68f0"/><path d="M341.2 260.9L343.7 259.6L340.6 257.9L338.1 259.1Z" class="e"/><path d="M327.4 239.9L329.9 238.7L326.8 236.9L324.3 238.1Z" fill="#faf60c" stroke="#faf60c"/><path d="M327.4 239.9L329.9 238.7L326.8 236.9L324.3 238.1Z" class="e"/><path d="M374.4 240.1L376.9 238.9L373.8 263.0L371.3 264.2Z" fill="#faf60c" stroke="#faf60c"/><path d="M374.4 240.1L376.9 238.9L373.8 263.0L371.3 264.2Z" class="e"/><path d="M360.6 266.1L363.2 264.8L360.0 263.1L357.5 264.3Z" fill="#3c23ae" stroke="#3c23ae"/><path d="M360.6 266.1L363.2 264.8L360.0 263.1L357.5 264.3Z" class="e"/><path d="M346.9 266.2L349.4 264.9L346.2 258.4L343.7 259.6Z" fill="#3c23ae" stroke="#3c23ae"/><path d="M346.9 266.2L349.4 264.9L346.2 258.4L343.7 259.6Z" class="e"/><path d="M333.1 240.4L335.6 260.3L332.5 241.4L329.9 238.7Z" fill="#faf60c" stroke="#faf60c"/><path d="M333.1 240.4L335.6 260.3L332.5 241.4L329.9 238.7Z" class="e"/><path d="M380.1 240.7L382.6 239.5L379.5 237.7L376.9 238.9Z" fill="#faf60c" stroke="#faf60c"/><path d="M380.1 240.7L382.6 239.5L379.5 237.7L376.9 238.9Z" class="e"/><path d="M366.3 266.6L368.8 265.4L365.7 263.6L363.2 264.8Z" fill="#3c23ae" stroke="#3c23ae"/><path d="M366.3 266.6L368.8 265.4L365.7 263.6L363.2 264.8Z" class="e"/><path d="M352.5 266.7L355.0 265.5L351.9 263.7L349.4 264.9Z" fill="#3c23ae" stroke="#3c23ae"/><path d="M352.5 266.7L355.0 265.5L351.9 263.7L349.4 264.9Z" class="e"/><path d="M338.7 262.1L341.2 260.9L338.1 259.1L335.6 260.3Z" fill="#3d68f0" stroke="#3d68f0"/><path d="M338.7 262.1L341.2 260.9L338.1 259.1L335.6 260.3Z" class="e"/><path d="M371.9 241.3L374.4 240.1L371.3 264.2L368.8 265.4Z" fill="#faf60c" stroke="#faf60c"/><path d="M371.9 241.3L374.4 240.1L371.3 264.2L368.8 265.4Z" class="e"/><path d="M358.1 267.3L360.6 266.1L357.5 264.3L355.0 265.5Z" fill="#3c23ae" stroke="#3c23ae"/><path d="M358.1 267.3L360.6 266.1L357.5 264.3L355.0 265.5Z" class="e"/><path d="M344.3 267.4L346.9 266.2L343.7 259.6L341.2 260.9Z" fill="#3c23ae" stroke="#3c23ae"/><path d="M344.3 267.4L346.9 266.2L343.7 259.6L341.2 260.9Z" class="e"/><path d="M330.6 241.6L333.1 240.4L329.9 238.7L327.4 239.9Z" fill="#faf60c" stroke="#faf60c"/><path d="M330.6 241.6L333.1 240.4L329.9 238.7L327.4 239.9Z" class="e"/><path d="M377.5 241.9L380.1 240.7L376.9 238.9L374.4 240.1Z" fill="#faf60c" stroke="#faf60c"/><path d="M377.5 241.9L380.1 240.7L376.9 238.9L374.4 240.1Z" class="e"/><path d="M363.8 267.8L366.3 266.6L363.2 264.8L360.6 266.1Z" fill="#3c23ae" stroke="#3c23ae"/><path d="M363.8 267.8L366.3 266.6L363.2 264.8L360.6 266.1Z" class="e"/><path d="M350.0 267.9L352.5 266.7L349.4 264.9L346.9 266.2Z" fill="#3c23ae" stroke="#3c23ae"/><path d="M350.0 267.9L352.5 266.7L349.4 264.9L346.9 266.2Z" class="e"/><path d="M336.2 242.2L338.7 262.1L335.6 260.3L333.1 240.4Z" fill="#faf60c" stroke="#faf60c"/><path d="M336.2 242.2L338.7 262.1L335.6 260.3L333.1 240.4Z" class="e"/><path d="M369.4 242.6L371.9 241.3L368.8 265.4L366.3 266.6Z" fill="#faf60c" stroke="#faf60c"/><path d="M369.4 242.6L371.9 241.3L368.8 265.4L366.3 266.6Z" class="e"/><path d="M355.6 268.5L358.1 267.3L355.0 265.5L352.5 266.7Z" fill="#3c23ae" stroke="#3c23ae"/><path d="M355.6 268.5L358.1 267.3L355.0 265.5L352.5 266.7Z" class="e"/><path d="M341.8 268.6L344.3 267.4L341.2 260.9L338.7 262.1Z" fill="#3c23ae" stroke="#3c23ae"/><path d="M341.8 268.6L344.3 267.4L341.2 260.9L338.7 262.1Z" class="e"/><path d="M375.0 243.1L377.5 241.9L374.4 240.1L371.9 241.3Z" fill="#faf60c" stroke="#faf60c"/><path d="M375.0 243.1L377.5 241.9L374.4 240.1L371.9 241.3Z" class="e"/><path d="M361.2 269.0L363.8 267.8L360.6 266.1L358.1 267.3Z" fill="#3c23ae" stroke="#3c23ae"/><path d="M361.2 269.0L363.8 267.8L360.6 266.1L358.1 267.3Z" class="e"/><path d="M347.5 269.1L350.0 267.9L346.9 266.2L344.3 267.4Z" fill="#3c23ae" stroke="#3c23ae"/><path d="M347.5 269.1L350.0 267.9L346.9 266.2L344.3 267.4Z" class="e"/><path d="M333.7 243.4L336.2 242.2L333.1 240.4L330.6 241.6Z" fill="#faf60c" stroke="#faf60c"/><path d="M333.7 243.4L336.2 242.2L333.1 240.4L330.6 241.6Z" class="e"/><path d="M366.9 243.8L369.4 242.6L366.3 266.6L363.8 267.8Z" fill="#faf60c" stroke="#faf60c"/><path d="M366.9 243.8L369.4 242.6L366.3 266.6L363.8 267.8Z" class="e"/><path d="M353.1 269.7L355.6 268.5L352.5 266.7L350.0 267.9Z" fill="#3c23ae" stroke="#3c23ae"/><path d="M353.1 269.7L355.6 268.5L352.5 266.7L350.0 267.9Z" class="e"/><path d="M339.3 244.0L341.8 268.6L338.7 262.1L336.2 242.2Z" fill="#faf60c" stroke="#faf60c"/><path d="M339.3 244.0L341.8 268.6L338.7 262.1L336.2 242.2Z" class="e"/><path d="M372.5 244.3L375.0 243.1L371.9 241.3L369.4 242.6Z" fill="#faf60c" stroke="#faf60c"/><path d="M372.5 244.3L375.0 243.1L371.9 241.3L369.4 242.6Z" class="e"/><path d="M358.7 270.2L361.2 269.0L358.1 267.3L355.6 268.5Z" fill="#3c23ae" stroke="#3c23ae"/><path d="M358.7 270.2L361.2 269.0L358.1 267.3L355.6 268.5Z" class="e"/><path d="M344.9 270.3L347.5 269.1L344.3 267.4L341.8 268.6Z" fill="#3c23ae" stroke="#3c23ae"/><path d="M344.9 270.3L347.5 269.1L344.3 267.4L341.8 268.6Z" class="e"/><path d="M364.4 245.0L366.9 243.8L363.8 267.8L361.2 269.0Z" fill="#faf60c" stroke="#faf60c"/><path d="M364.4 245.0L366.9 243.8L363.8 267.8L361.2 269.0Z" class="e"/><path d="M350.6 270.9L353.1 269.7L350.0 267.9L347.5 269.1Z" fill="#3c23ae" stroke="#3c23ae"/><path d="M350.6 270.9L353.1 269.7L350.0 267.9L347.5 269.1Z" class="e"/><path d="M336.8 245.2L339.3 244.0L336.2 242.2L333.7 243.4Z" fill="#faf60c" stroke="#faf60c"/><path d="M336.8 245.2L339.3 244.0L336.2 242.2L333.7 243.4Z" class="e"/><path d="M370.0 245.5L372.5 244.3L369.4 242.6L366.9 243.8Z" fill="#faf60c" stroke="#faf60c"/><path d="M370.0 245.5L372.5 244.3L369.4 242.6L366.9 243.8Z" class="e"/><path d="M356.2 271.5L358.7 270.2L355.6 268.5L353.1 269.7Z" fill="#3c23ae" stroke="#3c23ae"/><path d="M356.2 271.5L358.7 270.2L355.6 268.5L353.1 269.7Z" class="e"/><path d="M342.4 245.7L344.9 270.3L341.8 268.6L339.3 244.0Z" fill="#faf60c" stroke="#faf60c"/><path d="M342.4 245.7L344.9 270.3L341.8 268.6L339.3 244.0Z" class="e"/><path d="M361.8 246.2L364.4 245.0L361.2 269.0L358.7 270.2Z" fill="#faf60c" stroke="#faf60c"/><path d="M361.8 246.2L364.4 245.0L361.2 269.0L358.7 270.2Z" class="e"/><path d="M348.1 272.1L350.6 270.9L347.5 269.1L344.9 270.3Z" fill="#3c23ae" stroke="#3c23ae"/><path d="M348.1 272.1L350.6 270.9L347.5 269.1L344.9 270.3Z" class="e"/><path d="M367.5 246.7L370.0 245.5L366.9 243.8L364.4 245.0Z" fill="#faf60c" stroke="#faf60c"/><path d="M367.5 246.7L370.0 245.5L366.9 243.8L364.4 245.0Z" class="e"/><path d="M353.7 272.7L356.2 271.5L353.1 269.7L350.6 270.9Z" fill="#3c23ae" stroke="#3c23ae"/><path d="M353.7 272.7L356.2 271.5L353.1 269.7L350.6 270.9Z" class="e"/><path d="M339.9 246.9L342.4 245.7L339.3 244.0L336.8 245.2Z" fill="#faf60c" stroke="#faf60c"/><path d="M339.9 246.9L342.4 245.7L339.3 244.0L336.8 245.2Z" class="e"/><path d="M359.3 247.4L361.8 246.2L358.7 270.2L356.2 271.5Z" fill="#faf60c" stroke="#faf60c"/><path d="M359.3 247.4L361.8 246.2L358.7 270.2L356.2 271.5Z" class="e"/><path d="M345.5 247.5L348.1 272.1L344.9 270.3L342.4 245.7Z" fill="#faf60c" stroke="#faf60c"/><path d="M345.5 247.5L348.1 272.1L344.9 270.3L342.4 245.7Z" class="e"/><path d="M365.0 248.0L367.5 246.7L364.4 245.0L361.8 246.2Z" fill="#faf60c" stroke="#faf60c"/><path d="M365.0 248.0L367.5 246.7L364.4 245.0L361.8 246.2Z" class="e"/><path d="M351.2 273.9L353.7 272.7L350.6 270.9L348.1 272.1Z" fill="#3c23ae" stroke="#3c23ae"/><path d="M351.2 273.9L353.7 272.7L350.6 270.9L348.1 272.1Z" class="e"/><path d="M356.8 248.6L359.3 247.4L356.2 271.5L353.7 272.7Z" fill="#faf60c" stroke="#faf60c"/><path d="M356.8 248.6L359.3 247.4L356.2 271.5L353.7 272.7Z" class="e"/><path d="M343.0 248.7L345.5 247.5L342.4 245.7L339.9 246.9Z" fill="#faf60c" stroke="#faf60c"/><path d="M343.0 248.7L345.5 247.5L342.4 245.7L339.9 246.9Z" class="e"/><path d="M362.5 249.2L365.0 248.0L361.8 246.2L359.3 247.4Z" fill="#faf60c" stroke="#faf60c"/><path d="M362.5 249.2L365.0 248.0L361.8 246.2L359.3 247.4Z" class="e"/><path d="M348.7 249.3L351.2 273.9L348.1 272.1L345.5 247.5Z" fill="#faf60c" stroke="#faf60c"/><path d="M348.7 249.3L351.2 273.9L348.1 272.1L345.5 247.5Z" class="e"/><path d="M354.3 249.8L356.8 248.6L353.7 272.7L351.2 273.9Z" fill="#faf60c" stroke="#faf60c"/><path d="M354.3 249.8L356.8 248.6L353.7 272.7L351.2 273.9Z" class="e"/><path d="M359.9 250.4L362.5 249.2L359.3 247.4L356.8 248.6Z" fill="#faf60c" stroke="#faf60c"/><path d="M359.9 250.4L362.5 249.2L359.3 247.4L356.8 248.6Z" class="e"/><path d="M346.2 250.5L348.7 249.3L345.5 247.5L343.0 248.7Z" fill="#faf60c" stroke="#faf60c"/><path d="M346.2 250.5L348.7 249.3L345.5 247.5L343.0 248.7Z" class="e"/><path d="M351.8 251.0L354.3 249.8L351.2 273.9L348.7 249.3Z" fill="#faf60c" stroke="#faf60c"/><path d="M351.8 251.0L354.3 249.8L351.2 273.9L348.7 249.3Z" class="e"/><path d="M357.4 251.6L359.9 250.4L356.8 248.6L354.3 249.8Z" fill="#faf60c" stroke="#faf60c"/><path d="M357.4 251.6L359.9 250.4L356.8 248.6L354.3 249.8Z" class="e"/><path d="M349.3 252.2L351.8 251.0L348.7 249.3L346.2 250.5Z" fill="#faf60c" stroke="#faf60c"/><path d="M349.3 252.2L351.8 251.0L348.7 249.3L346.2 250.5Z" class="e"/><path d="M354.9 252.8L357.4 251.6L354.3 249.8L351.8 251.0Z" fill="#faf60c" stroke="#faf60c"/><path d="M354.9 252.8L357.4 251.6L354.3 249.8L351.8 251.0Z" class="e"/><path d="M352.4 254.0L354.9 252.8L351.8 251.0L349.3 252.2Z" fill="#faf60c" stroke="#faf60c"/><path d="M352.4 254.0L354.9 252.8L351.8 251.0L349.3 252.2Z" class="e"/></g>
<text x="304.00" y="263.70" font-family="Liberation Serif, serif" font-weight="bold" font-size="4.85" text-anchor="end" fill="#111">1.01354</text>
<text x="304.00" y="253.16" font-family="Liberation Serif, serif" font-weight="bold" font-size="4.85" text-anchor="end" fill="#111">1.01356</text>
<text x="304.00" y="242.62" font-family="Liberation Serif, serif" font-weight="bold" font-size="4.85" text-anchor="end" fill="#111">1.01358</text>
<text x="304.00" y="232.08" font-family="Liberation Serif, serif" font-weight="bold" font-size="4.85" text-anchor="end" fill="#111">1.0136</text>
<text x="358.00" y="294.60" font-family="Liberation Serif, serif" font-weight="bold" font-size="5.1499999999999995" text-anchor="middle" fill="#111">0</text>
<text x="383.15" y="282.50" font-family="Liberation Serif, serif" font-weight="bold" font-size="5.1499999999999995" text-anchor="middle" fill="#111">10</text>
<text x="408.30" y="270.40" font-family="Liberation Serif, serif" font-weight="bold" font-size="5.1499999999999995" text-anchor="middle" fill="#111">20</text>
<text x="348.70" y="294.90" font-family="Liberation Serif, serif" font-weight="bold" font-size="5.1499999999999995" text-anchor="middle" fill="#111">0</text>
<text x="333.10" y="286.07" font-family="Liberation Serif, serif" font-weight="bold" font-size="5.1499999999999995" text-anchor="middle" fill="#111">5</text>
<text x="317.50" y="277.23" font-family="Liberation Serif, serif" font-weight="bold" font-size="5.1499999999999995" text-anchor="middle" fill="#111">10</text>
<text x="301.90" y="268.40" font-family="Liberation Serif, serif" font-weight="bold" font-size="5.1499999999999995" text-anchor="middle" fill="#111">15</text>
<text x="380.4" y="294.8" font-family="Liberation Serif, serif" font-weight="bold" font-size="6" text-anchor="middle" fill="#222">X</text>
<text x="327.4" y="294.8" font-family="Liberation Serif, serif" font-weight="bold" font-size="6" text-anchor="middle" fill="#222">Y</text>
<text transform="translate(285.2,246.9) rotate(-90)" font-family="Liberation Serif, serif" font-weight="bold" font-size="5.2" text-anchor="middle" textLength="41.7" lengthAdjust="spacingAndGlyphs" fill="#222">Absolute Pressure</text>
<text x="292" y="219.8" font-family="Liberation Serif, serif" font-size="5.6" fill="#333">×10<tspan dy="-2" font-size="3.6">5</tspan></text>
<path d="M487.00 287.70L439.70 266.20M439.70 266.20L439.70 227.13M510.45 277.30L463.15 255.81M463.15 255.81L463.15 216.73M533.90 266.90L486.60 245.40M486.60 245.40L486.60 206.33M487.00 287.70L533.90 266.90M533.90 266.90L533.90 227.82M471.24 280.53L518.13 259.73M518.13 259.73L518.13 220.66M455.47 273.37L502.37 252.57M502.37 252.57L502.37 213.49M439.70 266.20L486.60 245.40M486.60 245.40L486.60 206.33M439.70 259.83L486.60 239.03M486.60 239.03L533.90 260.52M439.70 248.93L486.60 228.13M486.60 228.13L533.90 249.62M439.70 238.03L486.60 217.23M486.60 217.23L533.90 238.72M439.70 227.13L486.60 206.33M486.60 206.33L533.90 227.82" stroke="#e2e2e2" stroke-width="0.5" fill="none"/>
<path d="M487.00 287.70L533.90 266.90M487.00 287.70L439.70 266.20M439.70 266.20L439.70 227.13" stroke="#a8a8a8" stroke-width="0.6" fill="none"/>
<g stroke-width="0.45" stroke-linejoin="round"><path d="M485.1 220.2L487.4 219.2L484.3 217.7L481.9 218.8Z" fill="#f3b23a" stroke="#f3b23a"/><path d="M485.1 220.2L487.4 219.2L484.3 217.7L481.9 218.8Z" class="e"/><path d="M482.7 221.2L485.1 220.2L481.9 218.8L479.6 219.8Z" fill="#f3b23a" stroke="#f3b23a"/><path d="M482.7 221.2L485.1 220.2L481.9 218.8L479.6 219.8Z" class="e"/><path d="M488.2 221.6L490.6 220.6L487.4 219.2L485.1 220.2Z" fill="#f3b23a" stroke="#f3b23a"/><path d="M488.2 221.6L490.6 220.6L487.4 219.2L485.1 220.2Z" class="e"/><path d="M480.4 222.3L482.7 221.2L479.6 219.8L477.2 220.8Z" fill="#f3b23a" stroke="#f3b23a"/><path d="M480.4 222.3L482.7 221.2L479.6 219.8L477.2 220.8Z" class="e"/><path d="M485.9 222.7L488.2 221.6L485.1 220.2L482.7 221.2Z" fill="#f3b23a" stroke="#f3b23a"/><path d="M485.9 222.7L488.2 221.6L485.1 220.2L482.7 221.2Z" class="e"/><path d="M491.4 223.1L493.7 222.0L490.6 220.6L488.2 221.6Z" fill="#f3b23a" stroke="#f3b23a"/><path d="M491.4 223.1L493.7 222.0L490.6 220.6L488.2 221.6Z" class="e"/><path d="M478.0 223.3L480.4 222.3L477.2 220.8L474.9 221.9Z" fill="#f3b23a" stroke="#f3b23a"/><path d="M478.0 223.3L480.4 222.3L477.2 220.8L474.9 221.9Z" class="e"/><path d="M483.5 223.7L485.9 222.7L482.7 221.2L480.4 222.3Z" fill="#f3b23a" stroke="#f3b23a"/><path d="M483.5 223.7L485.9 222.7L482.7 221.2L480.4 222.3Z" class="e"/><path d="M489.0 224.1L491.4 223.1L488.2 221.6L485.9 222.7Z" fill="#f3b23a" stroke="#f3b23a"/><path d="M489.0 224.1L491.4 223.1L488.2 221.6L485.9 222.7Z" class="e"/><path d="M475.7 224.4L478.0 223.3L474.9 221.9L472.5 222.9Z" fill="#f3b23a" stroke="#f3b23a"/><path d="M475.7 224.4L478.0 223.3L474.9 221.9L472.5 222.9Z" class="e"/><path d="M494.5 224.5L496.9 223.5L493.7 222.0L491.4 223.1Z" fill="#f3b23a" stroke="#f3b23a"/><path d="M494.5 224.5L496.9 223.5L493.7 222.0L491.4 223.1Z" class="e"/><path d="M481.2 224.7L483.5 223.7L480.4 222.3L478.0 223.3Z" fill="#f3b23a" stroke="#f3b23a"/><path d="M481.2 224.7L483.5 223.7L480.4 222.3L478.0 223.3Z" class="e"/><path d="M486.7 225.1L489.0 224.1L485.9 222.7L483.5 223.7Z" fill="#f3b23a" stroke="#f3b23a"/><path d="M486.7 225.1L489.0 224.1L485.9 222.7L483.5 223.7Z" class="e"/><path d="M473.3 225.4L475.7 224.4L472.5 222.9L470.2 224.0Z" fill="#f3b23a" stroke="#f3b23a"/><path d="M473.3 225.4L475.7 224.4L472.5 222.9L470.2 224.0Z" class="e"/><path d="M492.2 225.5L494.5 224.5L491.4 223.1L489.0 224.1Z" fill="#f3b23a" stroke="#f3b23a"/><path d="M492.2 225.5L494.5 224.5L491.4 223.1L489.0 224.1Z" class="e"/><path d="M478.8 225.8L481.2 224.7L478.0 223.3L475.7 224.4Z" fill="#f3b23a" stroke="#f3b23a"/><path d="M478.8 225.8L481.2 224.7L478.0 223.3L475.7 224.4Z" class="e"/><path d="M497.7 225.9L500.0 224.9L496.9 223.5L494.5 224.5Z" fill="#f3b23a" stroke="#f3b23a"/><path d="M497.7 225.9L500.0 224.9L496.9 223.5L494.5 224.5Z" class="e"/><path d="M484.3 226.2L486.7 225.1L483.5 223.7L481.2 224.7Z" fill="#f3b23a" stroke="#f3b23a"/><path d="M484.3 226.2L486.7 225.1L483.5 223.7L481.2 224.7Z" class="e"/><path d="M471.0 226.4L473.3 225.4L470.2 224.0L467.8 225.0Z" fill="#f3b23a" stroke="#f3b23a"/><path d="M471.0 226.4L473.3 225.4L470.2 224.0L467.8 225.0Z" class="e"/><path d="M489.8 226.6L492.2 225.5L489.0 224.1L486.7 225.1Z" fill="#f3b23a" stroke="#f3b23a"/><path d="M489.8 226.6L492.2 225.5L489.0 224.1L486.7 225.1Z" class="e"/><path d="M476.5 226.8L478.8 225.8L475.7 224.4L473.3 225.4Z" fill="#f3b23a" stroke="#f3b23a"/><path d="M476.5 226.8L478.8 225.8L475.7 224.4L473.3 225.4Z" class="e"/><path d="M495.3 227.0L497.7 225.9L494.5 224.5L492.2 225.5Z" fill="#f3b23a" stroke="#f3b23a"/><path d="M495.3 227.0L497.7 225.9L494.5 224.5L492.2 225.5Z" class="e"/><path d="M482.0 227.2L484.3 226.2L481.2 224.7L478.8 225.8Z" fill="#f3b23a" stroke="#f3b23a"/><path d="M482.0 227.2L484.3 226.2L481.2 224.7L478.8 225.8Z" class="e"/><path d="M500.8 227.4L503.2 226.3L500.0 224.9L497.7 225.9Z" fill="#f3b23a" stroke="#f3b23a"/><path d="M500.8 227.4L503.2 226.3L500.0 224.9L497.7 225.9Z" class="e"/><path d="M468.7 227.5L471.0 226.4L467.8 225.0L465.5 226.0Z" fill="#f3b23a" stroke="#f3b23a"/><path d="M468.7 227.5L471.0 226.4L467.8 225.0L465.5 226.0Z" class="e"/><path d="M487.5 227.6L489.8 226.6L486.7 225.1L484.3 226.2Z" fill="#f3b23a" stroke="#f3b23a"/><path d="M487.5 227.6L489.8 226.6L486.7 225.1L484.3 226.2Z" class="e"/><path d="M474.2 227.9L476.5 226.8L473.3 225.4L471.0 226.4Z" fill="#f3b23a" stroke="#f3b23a"/><path d="M474.2 227.9L476.5 226.8L473.3 225.4L471.0 226.4Z" class="e"/><path d="M493.0 228.0L495.3 227.0L492.2 225.5L489.8 226.6Z" fill="#f3b23a" stroke="#f3b23a"/><path d="M493.0 228.0L495.3 227.0L492.2 225.5L489.8 226.6Z" class="e"/><path d="M479.6 228.3L482.0 227.2L478.8 225.8L476.5 226.8Z" fill="#f3b23a" stroke="#f3b23a"/><path d="M479.6 228.3L482.0 227.2L478.8 225.8L476.5 226.8Z" class="e"/><path d="M498.5 228.4L500.8 227.4L497.7 225.9L495.3 227.0Z" fill="#f3b23a" stroke="#f3b23a"/><path d="M498.5 228.4L500.8 227.4L497.7 225.9L495.3 227.0Z" class="e"/><path d="M466.3 228.5L468.7 227.5L465.5 226.0L463.2 227.1Z" fill="#f3b23a" stroke="#f3b23a"/><path d="M466.3 228.5L468.7 227.5L465.5 226.0L463.2 227.1Z" class="e"/><path d="M485.1 228.7L487.5 227.6L484.3 226.2L482.0 227.2Z" fill="#f3b23a" stroke="#f3b23a"/><path d="M485.1 228.7L487.5 227.6L484.3 226.2L482.0 227.2Z" class="e"/><path d="M504.0 228.8L506.3 227.8L503.2 226.3L500.8 227.4Z" fill="#f3b23a" stroke="#f3b23a"/><path d="M504.0 228.8L506.3 227.8L503.2 226.3L500.8 227.4Z" class="e"/><path d="M471.8 228.9L474.2 227.9L471.0 226.4L468.7 227.5Z" fill="#f3b23a" stroke="#f3b23a"/><path d="M471.8 228.9L474.2 227.9L471.0 226.4L468.7 227.5Z" class="e"/><path d="M490.6 229.0L493.0 228.0L489.8 226.6L487.5 227.6Z" fill="#f3b23a" stroke="#f3b23a"/><path d="M490.6 229.0L493.0 228.0L489.8 226.6L487.5 227.6Z" class="e"/><path d="M477.3 229.3L479.6 228.3L476.5 226.8L474.2 227.9Z" fill="#f3b23a" stroke="#f3b23a"/><path d="M477.3 229.3L479.6 228.3L476.5 226.8L474.2 227.9Z" class="e"/><path d="M496.1 229.4L498.5 228.4L495.3 227.0L493.0 228.0Z" fill="#f3b23a" stroke="#f3b23a"/><path d="M496.1 229.4L498.5 228.4L495.3 227.0L493.0 228.0Z" class="e"/><path d="M464.0 229.6L466.3 228.5L463.2 227.1L460.8 228.1Z" fill="#f3b23a" stroke="#f3b23a"/><path d="M464.0 229.6L466.3 228.5L463.2 227.1L460.8 228.1Z" class="e"/><path d="M482.8 229.7L485.1 228.7L482.0 227.2L479.6 228.3Z" fill="#f3b23a" stroke="#f3b23a"/><path d="M482.8 229.7L485.1 228.7L482.0 227.2L479.6 228.3Z" class="e"/><path d="M501.6 229.8L504.0 228.8L500.8 227.4L498.5 228.4Z" fill="#f3b23a" stroke="#f3b23a"/><path d="M501.6 229.8L504.0 228.8L500.8 227.4L498.5 228.4Z" class="e"/><path d="M469.5 229.9L471.8 228.9L468.7 227.5L466.3 228.5Z" fill="#f3b23a" stroke="#f3b23a"/><path d="M469.5 229.9L471.8 228.9L468.7 227.5L466.3 228.5Z" class="e"/><path d="M488.3 230.1L490.6 229.0L487.5 227.6L485.1 228.7Z" fill="#f3b23a" stroke="#f3b23a"/><path d="M488.3 230.1L490.6 229.0L487.5 227.6L485.1 228.7Z" class="e"/><path d="M507.1 230.2L509.5 229.2L506.3 227.8L504.0 228.8Z" fill="#f3b23a" stroke="#f3b23a"/><path d="M507.1 230.2L509.5 229.2L506.3 227.8L504.0 228.8Z" class="e"/><path d="M475.0 230.3L477.3 229.3L474.2 227.9L471.8 228.9Z" fill="#f3b23a" stroke="#f3b23a"/><path d="M475.0 230.3L477.3 229.3L474.2 227.9L471.8 228.9Z" class="e"/><path d="M493.8 230.5L496.1 229.4L493.0 228.0L490.6 229.0Z" fill="#f3b23a" stroke="#f3b23a"/><path d="M493.8 230.5L496.1 229.4L493.0 228.0L490.6 229.0Z" class="e"/><path d="M461.6 230.6L464.0 229.6L460.8 228.1L458.5 229.2Z" fill="#f3b23a" stroke="#f3b23a"/><path d="M461.6 230.6L464.0 229.6L460.8 228.1L458.5 229.2Z" class="e"/><path d="M480.5 230.7L482.8 229.7L479.6 228.3L477.3 229.3Z" fill="#f3b23a" stroke="#f3b23a"/><path d="M480.5 230.7L482.8 229.7L479.6 228.3L477.3 229.3Z" class="e"/><path d="M499.3 230.9L501.6 229.8L498.5 228.4L496.1 229.4Z" fill="#f3b23a" stroke="#f3b23a"/><path d="M499.3 230.9L501.6 229.8L498.5 228.4L496.1 229.4Z" class="e"/><path d="M467.1 231.0L469.5 229.9L466.3 228.5L464.0 229.6Z" fill="#f3b23a" stroke="#f3b23a"/><path d="M467.1 231.0L469.5 229.9L466.3 228.5L464.0 229.6Z" class="e"/><path d="M486.0 231.1L488.3 230.1L485.1 228.7L482.8 229.7Z" fill="#f3b23a" stroke="#f3b23a"/><path d="M486.0 231.1L488.3 230.1L485.1 228.7L482.8 229.7Z" class="e"/><path d="M504.8 231.3L507.1 230.2L504.0 228.8L501.6 229.8Z" fill="#f3b23a" stroke="#f3b23a"/><path d="M504.8 231.3L507.1 230.2L504.0 228.8L501.6 229.8Z" class="e"/><path d="M472.6 231.4L475.0 230.3L471.8 228.9L469.5 229.9Z" fill="#f3b23a" stroke="#f3b23a"/><path d="M472.6 231.4L475.0 230.3L471.8 228.9L469.5 229.9Z" class="e"/><path d="M491.5 231.5L493.8 230.5L490.6 229.0L488.3 230.1Z" fill="#f3b23a" stroke="#f3b23a"/><path d="M491.5 231.5L493.8 230.5L490.6 229.0L488.3 230.1Z" class="e"/><path d="M459.3 231.6L461.6 230.6L458.5 229.2L456.1 230.2Z" fill="#f3b23a" stroke="#f3b23a"/><path d="M459.3 231.6L461.6 230.6L458.5 229.2L456.1 230.2Z" class="e"/><path d="M510.3 231.7L512.6 230.6L509.5 229.2L507.1 230.2Z" fill="#f3b23a" stroke="#f3b23a"/><path d="M510.3 231.7L512.6 230.6L509.5 229.2L507.1 230.2Z" class="e"/><path d="M478.1 231.8L480.5 230.7L477.3 229.3L475.0 230.3Z" fill="#f3b23a" stroke="#f3b23a"/><path d="M478.1 231.8L480.5 230.7L477.3 229.3L475.0 230.3Z" class="e"/><path d="M497.0 231.9L499.3 230.9L496.1 229.4L493.8 230.5Z" fill="#f3b23a" stroke="#f3b23a"/><path d="M497.0 231.9L499.3 230.9L496.1 229.4L493.8 230.5Z" class="e"/><path d="M464.8 232.0L467.1 231.0L464.0 229.6L461.6 230.6Z" fill="#f3b23a" stroke="#f3b23a"/><path d="M464.8 232.0L467.1 231.0L464.0 229.6L461.6 230.6Z" class="e"/><path d="M483.6 232.2L486.0 231.1L482.8 229.7L480.5 230.7Z" fill="#f3b23a" stroke="#f3b23a"/><path d="M483.6 232.2L486.0 231.1L482.8 229.7L480.5 230.7Z" class="e"/><path d="M502.4 259.6L504.8 231.3L501.6 229.8L499.3 230.9Z" fill="#3c23ae" stroke="#3c23ae"/><path d="M502.4 259.6L504.8 231.3L501.6 229.8L499.3 230.9Z" class="e"/><path d="M470.3 229.7L472.6 231.4L469.5 229.9L467.1 231.0Z" fill="#faf60c" stroke="#faf60c"/><path d="M470.3 229.7L472.6 231.4L469.5 229.9L467.1 231.0Z" class="e"/><path d="M489.1 232.6L491.5 231.5L488.3 230.1L486.0 231.1Z" fill="#f3b23a" stroke="#f3b23a"/><path d="M489.1 232.6L491.5 231.5L488.3 230.1L486.0 231.1Z" class="e"/><path d="M456.9 232.7L459.3 231.6L456.1 230.2L453.8 231.2Z" fill="#f3b23a" stroke="#f3b23a"/><path d="M456.9 232.7L459.3 231.6L456.1 230.2L453.8 231.2Z" class="e"/><path d="M507.9 232.7L510.3 231.7L507.1 230.2L504.8 231.3Z" fill="#f3b23a" stroke="#f3b23a"/><path d="M507.9 232.7L510.3 231.7L507.1 230.2L504.8 231.3Z" class="e"/><path d="M475.8 232.8L478.1 231.8L475.0 230.3L472.6 231.4Z" fill="#f3b23a" stroke="#f3b23a"/><path d="M475.8 232.8L478.1 231.8L475.0 230.3L472.6 231.4Z" class="e"/><path d="M494.6 233.0L497.0 231.9L493.8 230.5L491.5 231.5Z" fill="#f3b23a" stroke="#f3b23a"/><path d="M494.6 233.0L497.0 231.9L493.8 230.5L491.5 231.5Z" class="e"/><path d="M462.4 233.1L464.8 232.0L461.6 230.6L459.3 231.6Z" fill="#f3b23a" stroke="#f3b23a"/><path d="M462.4 233.1L464.8 232.0L461.6 230.6L459.3 231.6Z" class="e"/><path d="M513.4 233.1L515.8 232.1L512.6 230.6L510.3 231.7Z" fill="#f3b23a" stroke="#f3b23a"/><path d="M513.4 233.1L515.8 232.1L512.6 230.6L510.3 231.7Z" class="e"/><path d="M481.3 233.2L483.6 232.2L480.5 230.7L478.1 231.8Z" fill="#f3b23a" stroke="#f3b23a"/><path d="M481.3 233.2L483.6 232.2L480.5 230.7L478.1 231.8Z" class="e"/><path d="M500.1 260.6L502.4 259.6L499.3 230.9L497.0 231.9Z" fill="#3c23ae" stroke="#3c23ae"/><path d="M500.1 260.6L502.4 259.6L499.3 230.9L497.0 231.9Z" class="e"/><path d="M467.9 230.7L470.3 229.7L467.1 231.0L464.8 232.0Z" fill="#faf60c" stroke="#faf60c"/><path d="M467.9 230.7L470.3 229.7L467.1 231.0L464.8 232.0Z" class="e"/><path d="M486.8 233.6L489.1 232.6L486.0 231.1L483.6 232.2Z" fill="#f3b23a" stroke="#f3b23a"/><path d="M486.8 233.6L489.1 232.6L486.0 231.1L483.6 232.2Z" class="e"/><path d="M454.6 233.7L456.9 232.7L453.8 231.2L451.4 232.3Z" fill="#f3b23a" stroke="#f3b23a"/><path d="M454.6 233.7L456.9 232.7L453.8 231.2L451.4 232.3Z" class="e"/><path d="M505.6 261.0L507.9 232.7L504.8 231.3L502.4 259.6Z" fill="#3c23ae" stroke="#3c23ae"/><path d="M505.6 261.0L507.9 232.7L504.8 231.3L502.4 259.6Z" class="e"/><path d="M473.4 231.1L475.8 232.8L472.6 231.4L470.3 229.7Z" fill="#faf60c" stroke="#faf60c"/><path d="M473.4 231.1L475.8 232.8L472.6 231.4L470.3 229.7Z" class="e"/><path d="M492.3 234.0L494.6 233.0L491.5 231.5L489.1 232.6Z" fill="#f3b23a" stroke="#f3b23a"/><path d="M492.3 234.0L494.6 233.0L491.5 231.5L489.1 232.6Z" class="e"/><path d="M460.1 234.1L462.4 233.1L459.3 231.6L456.9 232.7Z" fill="#f3b23a" stroke="#f3b23a"/><path d="M460.1 234.1L462.4 233.1L459.3 231.6L456.9 232.7Z" class="e"/><path d="M511.1 234.1L513.4 233.1L510.3 231.7L507.9 232.7Z" fill="#f3b23a" stroke="#f3b23a"/><path d="M511.1 234.1L513.4 233.1L510.3 231.7L507.9 232.7Z" class="e"/><path d="M478.9 234.2L481.3 233.2L478.1 231.8L475.8 232.8Z" fill="#f3b23a" stroke="#f3b23a"/><path d="M478.9 234.2L481.3 233.2L478.1 231.8L475.8 232.8Z" class="e"/><path d="M497.8 261.6L500.1 260.6L497.0 231.9L494.6 233.0Z" fill="#3c23ae" stroke="#3c23ae"/><path d="M497.8 261.6L500.1 260.6L497.0 231.9L494.6 233.0Z" class="e"/><path d="M465.6 231.8L467.9 230.7L464.8 232.0L462.4 233.1Z" fill="#faf60c" stroke="#faf60c"/><path d="M465.6 231.8L467.9 230.7L464.8 232.0L462.4 233.1Z" class="e"/><path d="M516.6 234.5L518.9 233.5L515.8 232.1L513.4 233.1Z" fill="#f3b23a" stroke="#f3b23a"/><path d="M516.6 234.5L518.9 233.5L515.8 232.1L513.4 233.1Z" class="e"/><path d="M484.4 234.6L486.8 233.6L483.6 232.2L481.3 233.2Z" fill="#f3b23a" stroke="#f3b23a"/><path d="M484.4 234.6L486.8 233.6L483.6 232.2L481.3 233.2Z" class="e"/><path d="M452.2 234.8L454.6 233.7L451.4 232.3L449.1 233.3Z" fill="#f3b23a" stroke="#f3b23a"/><path d="M452.2 234.8L454.6 233.7L451.4 232.3L449.1 233.3Z" class="e"/><path d="M503.3 262.0L505.6 261.0L502.4 259.6L500.1 260.6Z" fill="#3c23ae" stroke="#3c23ae"/><path d="M503.3 262.0L505.6 261.0L502.4 259.6L500.1 260.6Z" class="e"/><path d="M471.1 232.2L473.4 231.1L470.3 229.7L467.9 230.7Z" fill="#faf60c" stroke="#faf60c"/><path d="M471.1 232.2L473.4 231.1L470.3 229.7L467.9 230.7Z" class="e"/><path d="M489.9 235.0L492.3 234.0L489.1 232.6L486.8 233.6Z" fill="#f3b23a" stroke="#f3b23a"/><path d="M489.9 235.0L492.3 234.0L489.1 232.6L486.8 233.6Z" class="e"/><path d="M457.7 235.1L460.1 234.1L456.9 232.7L454.6 233.7Z" fill="#f3b23a" stroke="#f3b23a"/><path d="M457.7 235.1L460.1 234.1L456.9 232.7L454.6 233.7Z" class="e"/><path d="M508.8 262.4L511.1 234.1L507.9 232.7L505.6 261.0Z" fill="#3c23ae" stroke="#3c23ae"/><path d="M508.8 262.4L511.1 234.1L507.9 232.7L505.6 261.0Z" class="e"/><path d="M476.6 232.6L478.9 234.2L475.8 232.8L473.4 231.1Z" fill="#faf60c" stroke="#faf60c"/><path d="M476.6 232.6L478.9 234.2L475.8 232.8L473.4 231.1Z" class="e"/><path d="M495.4 262.7L497.8 261.6L494.6 233.0L492.3 234.0Z" fill="#3c23ae" stroke="#3c23ae"/><path d="M495.4 262.7L497.8 261.6L494.6 233.0L492.3 234.0Z" class="e"/><path d="M463.2 232.8L465.6 231.8L462.4 233.1L460.1 234.1Z" fill="#faf60c" stroke="#faf60c"/><path d="M463.2 232.8L465.6 231.8L462.4 233.1L460.1 234.1Z" class="e"/><path d="M514.3 235.6L516.6 234.5L513.4 233.1L511.1 234.1Z" fill="#f3b23a" stroke="#f3b23a"/><path d="M514.3 235.6L516.6 234.5L513.4 233.1L511.1 234.1Z" class="e"/><path d="M482.1 235.7L484.4 234.6L481.3 233.2L478.9 234.2Z" fill="#f3b23a" stroke="#f3b23a"/><path d="M482.1 235.7L484.4 234.6L481.3 233.2L478.9 234.2Z" class="e"/><path d="M449.9 235.8L452.2 234.8L449.1 233.3L446.7 234.4Z" fill="#f3b23a" stroke="#f3b23a"/><path d="M449.9 235.8L452.2 234.8L449.1 233.3L446.7 234.4Z" class="e"/><path d="M500.9 263.1L503.3 262.0L500.1 260.6L497.8 261.6Z" fill="#3c23ae" stroke="#3c23ae"/><path d="M500.9 263.1L503.3 262.0L500.1 260.6L497.8 261.6Z" class="e"/><path d="M468.7 233.2L471.1 232.2L467.9 230.7L465.6 231.8Z" fill="#faf60c" stroke="#faf60c"/><path d="M468.7 233.2L471.1 232.2L467.9 230.7L465.6 231.8Z" class="e"/><path d="M519.8 236.0L522.1 234.9L518.9 233.5L516.6 234.5Z" fill="#f3b23a" stroke="#f3b23a"/><path d="M519.8 236.0L522.1 234.9L518.9 233.5L516.6 234.5Z" class="e"/><path d="M487.6 236.1L489.9 235.0L486.8 233.6L484.4 234.6Z" fill="#f3b23a" stroke="#f3b23a"/><path d="M487.6 236.1L489.9 235.0L486.8 233.6L484.4 234.6Z" class="e"/><path d="M455.4 236.2L457.7 235.1L454.6 233.7L452.2 234.8Z" fill="#f3b23a" stroke="#f3b23a"/><path d="M455.4 236.2L457.7 235.1L454.6 233.7L452.2 234.8Z" class="e"/><path d="M506.4 263.5L508.8 262.4L505.6 261.0L503.3 262.0Z" fill="#3c23ae" stroke="#3c23ae"/><path d="M506.4 263.5L508.8 262.4L505.6 261.0L503.3 262.0Z" class="e"/><path d="M474.2 233.6L476.6 232.6L473.4 231.1L471.1 232.2Z" fill="#faf60c" stroke="#faf60c"/><path d="M474.2 233.6L476.6 232.6L473.4 231.1L471.1 232.2Z" class="e"/><path d="M493.1 263.7L495.4 262.7L492.3 234.0L489.9 235.0Z" fill="#3c23ae" stroke="#3c23ae"/><path d="M493.1 263.7L495.4 262.7L492.3 234.0L489.9 235.0Z" class="e"/><path d="M460.9 233.9L463.2 232.8L460.1 234.1L457.7 235.1Z" fill="#faf60c" stroke="#faf60c"/><path d="M460.9 233.9L463.2 232.8L460.1 234.1L457.7 235.1Z" class="e"/><path d="M511.9 263.9L514.3 235.6L511.1 234.1L508.8 262.4Z" fill="#3c23ae" stroke="#3c23ae"/><path d="M511.9 263.9L514.3 235.6L511.1 234.1L508.8 262.4Z" class="e"/><path d="M479.7 234.0L482.1 235.7L478.9 234.2L476.6 232.6Z" fill="#faf60c" stroke="#faf60c"/><path d="M479.7 234.0L482.1 235.7L478.9 234.2L476.6 232.6Z" class="e"/><path d="M447.5 236.8L449.9 235.8L446.7 234.4L444.4 235.4Z" fill="#f3b23a" stroke="#f3b23a"/><path d="M447.5 236.8L449.9 235.8L446.7 234.4L444.4 235.4Z" class="e"/><path d="M498.6 264.1L500.9 263.1L497.8 261.6L495.4 262.7Z" fill="#3c23ae" stroke="#3c23ae"/><path d="M498.6 264.1L500.9 263.1L497.8 261.6L495.4 262.7Z" class="e"/><path d="M466.4 234.3L468.7 233.2L465.6 231.8L463.2 232.8Z" fill="#faf60c" stroke="#faf60c"/><path d="M466.4 234.3L468.7 233.2L465.6 231.8L463.2 232.8Z" class="e"/><path d="M517.4 237.0L519.8 236.0L516.6 234.5L514.3 235.6Z" fill="#f3b23a" stroke="#f3b23a"/><path d="M517.4 237.0L519.8 236.0L516.6 234.5L514.3 235.6Z" class="e"/><path d="M485.2 237.1L487.6 236.1L484.4 234.6L482.1 235.7Z" fill="#f3b23a" stroke="#f3b23a"/><path d="M485.2 237.1L487.6 236.1L484.4 234.6L482.1 235.7Z" class="e"/><path d="M453.0 237.2L455.4 236.2L452.2 234.8L449.9 235.8Z" fill="#f3b23a" stroke="#f3b23a"/><path d="M453.0 237.2L455.4 236.2L452.2 234.8L449.9 235.8Z" class="e"/><path d="M504.1 264.5L506.4 263.5L503.3 262.0L500.9 263.1Z" fill="#3c23ae" stroke="#3c23ae"/><path d="M504.1 264.5L506.4 263.5L503.3 262.0L500.9 263.1Z" class="e"/><path d="M471.9 234.6L474.2 233.6L471.1 232.2L468.7 233.2Z" fill="#faf60c" stroke="#faf60c"/><path d="M471.9 234.6L474.2 233.6L471.1 232.2L468.7 233.2Z" class="e"/><path d="M522.9 237.4L525.2 236.4L522.1 234.9L519.8 236.0Z" fill="#f3b23a" stroke="#f3b23a"/><path d="M522.9 237.4L525.2 236.4L522.1 234.9L519.8 236.0Z" class="e"/><path d="M490.7 264.8L493.1 263.7L489.9 235.0L487.6 236.1Z" fill="#3c23ae" stroke="#3c23ae"/><path d="M490.7 264.8L493.1 263.7L489.9 235.0L487.6 236.1Z" class="e"/><path d="M458.5 234.9L460.9 233.9L457.7 235.1L455.4 236.2Z" fill="#faf60c" stroke="#faf60c"/><path d="M458.5 234.9L460.9 233.9L457.7 235.1L455.4 236.2Z" class="e"/><path d="M509.6 264.9L511.9 263.9L508.8 262.4L506.4 263.5Z" fill="#3c23ae" stroke="#3c23ae"/><path d="M509.6 264.9L511.9 263.9L508.8 262.4L506.4 263.5Z" class="e"/><path d="M477.4 235.0L479.7 234.0L476.6 232.6L474.2 233.6Z" fill="#faf60c" stroke="#faf60c"/><path d="M477.4 235.0L479.7 234.0L476.6 232.6L474.2 233.6Z" class="e"/><path d="M445.2 237.9L447.5 236.8L444.4 235.4L442.1 236.4Z" fill="#f3b23a" stroke="#f3b23a"/><path d="M445.2 237.9L447.5 236.8L444.4 235.4L442.1 236.4Z" class="e"/><path d="M496.2 265.2L498.6 264.1L495.4 262.7L493.1 263.7Z" fill="#3c23ae" stroke="#3c23ae"/><path d="M496.2 265.2L498.6 264.1L495.4 262.7L493.1 263.7Z" class="e"/><path d="M464.0 235.3L466.4 234.3L463.2 232.8L460.9 233.9Z" fill="#faf60c" stroke="#faf60c"/><path d="M464.0 235.3L466.4 234.3L463.2 232.8L460.9 233.9Z" class="e"/><path d="M515.1 265.3L517.4 237.0L514.3 235.6L511.9 263.9Z" fill="#3c23ae" stroke="#3c23ae"/><path d="M515.1 265.3L517.4 237.0L514.3 235.6L511.9 263.9Z" class="e"/><path d="M482.9 259.4L485.2 237.1L482.1 235.7L479.7 234.0Z" fill="#3c60ea" stroke="#3c60ea"/><path d="M482.9 259.4L485.2 237.1L482.1 235.7L479.7 234.0Z" class="e"/><path d="M450.7 238.3L453.0 237.2L449.9 235.8L447.5 236.8Z" fill="#f3b23a" stroke="#f3b23a"/><path d="M450.7 238.3L453.0 237.2L449.9 235.8L447.5 236.8Z" class="e"/><path d="M501.7 265.5L504.1 264.5L500.9 263.1L498.6 264.1Z" fill="#3c23ae" stroke="#3c23ae"/><path d="M501.7 265.5L504.1 264.5L500.9 263.1L498.6 264.1Z" class="e"/><path d="M469.5 235.7L471.9 234.6L468.7 233.2L466.4 234.3Z" fill="#faf60c" stroke="#faf60c"/><path d="M469.5 235.7L471.9 234.6L468.7 233.2L466.4 234.3Z" class="e"/><path d="M520.6 238.4L522.9 237.4L519.8 236.0L517.4 237.0Z" fill="#f3b23a" stroke="#f3b23a"/><path d="M520.6 238.4L522.9 237.4L519.8 236.0L517.4 237.0Z" class="e"/><path d="M488.4 265.8L490.7 264.8L487.6 236.1L485.2 237.1Z" fill="#3c23ae" stroke="#3c23ae"/><path d="M488.4 265.8L490.7 264.8L487.6 236.1L485.2 237.1Z" class="e"/><path d="M456.2 251.7L458.5 234.9L455.4 236.2L453.0 237.2Z" fill="#28b8be" stroke="#28b8be"/><path d="M456.2 251.7L458.5 234.9L455.4 236.2L453.0 237.2Z" class="e"/><path d="M507.2 265.9L509.6 264.9L506.4 263.5L504.1 264.5Z" fill="#3c23ae" stroke="#3c23ae"/><path d="M507.2 265.9L509.6 264.9L506.4 263.5L504.1 264.5Z" class="e"/><path d="M475.0 236.1L477.4 235.0L474.2 233.6L471.9 234.6Z" fill="#faf60c" stroke="#faf60c"/><path d="M475.0 236.1L477.4 235.0L474.2 233.6L471.9 234.6Z" class="e"/><path d="M526.1 238.8L528.4 237.8L525.2 236.4L522.9 237.4Z" fill="#f3b23a" stroke="#f3b23a"/><path d="M526.1 238.8L528.4 237.8L525.2 236.4L522.9 237.4Z" class="e"/><path d="M493.9 266.2L496.2 265.2L493.1 263.7L490.7 264.8Z" fill="#3c23ae" stroke="#3c23ae"/><path d="M493.9 266.2L496.2 265.2L493.1 263.7L490.7 264.8Z" class="e"/><path d="M461.7 236.3L464.0 235.3L460.9 233.9L458.5 234.9Z" fill="#faf60c" stroke="#faf60c"/><path d="M461.7 236.3L464.0 235.3L460.9 233.9L458.5 234.9Z" class="e"/><path d="M512.7 266.3L515.1 265.3L511.9 263.9L509.6 264.9Z" fill="#3c23ae" stroke="#3c23ae"/><path d="M512.7 266.3L515.1 265.3L511.9 263.9L509.6 264.9Z" class="e"/><path d="M480.5 260.4L482.9 259.4L479.7 234.0L477.4 235.0Z" fill="#3c60ea" stroke="#3c60ea"/><path d="M480.5 260.4L482.9 259.4L479.7 234.0L477.4 235.0Z" class="e"/><path d="M448.4 239.3L450.7 238.3L447.5 236.8L445.2 237.9Z" fill="#f3b23a" stroke="#f3b23a"/><path d="M448.4 239.3L450.7 238.3L447.5 236.8L445.2 237.9Z" class="e"/><path d="M499.4 266.6L501.7 265.5L498.6 264.1L496.2 265.2Z" fill="#3c23ae" stroke="#3c23ae"/><path d="M499.4 266.6L501.7 265.5L498.6 264.1L496.2 265.2Z" class="e"/><path d="M467.2 236.7L469.5 235.7L466.4 234.3L464.0 235.3Z" fill="#faf60c" stroke="#faf60c"/><path d="M467.2 236.7L469.5 235.7L466.4 234.3L464.0 235.3Z" class="e"/><path d="M518.2 239.5L520.6 238.4L517.4 237.0L515.1 265.3Z" fill="#f3b23a" stroke="#f3b23a"/><path d="M518.2 239.5L520.6 238.4L517.4 237.0L515.1 265.3Z" class="e"/><path d="M486.0 260.8L488.4 265.8L485.2 237.1L482.9 259.4Z" fill="#3c60ea" stroke="#3c60ea"/><path d="M486.0 260.8L488.4 265.8L485.2 237.1L482.9 259.4Z" class="e"/><path d="M453.9 239.7L456.2 251.7L453.0 237.2L450.7 238.3Z" fill="#f3b23a" stroke="#f3b23a"/><path d="M453.9 239.7L456.2 251.7L453.0 237.2L450.7 238.3Z" class="e"/><path d="M504.9 267.0L507.2 265.9L504.1 264.5L501.7 265.5Z" fill="#3c23ae" stroke="#3c23ae"/><path d="M504.9 267.0L507.2 265.9L504.1 264.5L501.7 265.5Z" class="e"/><path d="M472.7 237.1L475.0 236.1L471.9 234.6L469.5 235.7Z" fill="#faf60c" stroke="#faf60c"/><path d="M472.7 237.1L475.0 236.1L471.9 234.6L469.5 235.7Z" class="e"/><path d="M523.7 239.9L526.1 238.8L522.9 237.4L520.6 238.4Z" fill="#f3b23a" stroke="#f3b23a"/><path d="M523.7 239.9L526.1 238.8L522.9 237.4L520.6 238.4Z" class="e"/><path d="M491.5 267.2L493.9 266.2L490.7 264.8L488.4 265.8Z" fill="#3c23ae" stroke="#3c23ae"/><path d="M491.5 267.2L493.9 266.2L490.7 264.8L488.4 265.8Z" class="e"/><path d="M459.4 253.2L461.7 236.3L458.5 234.9L456.2 251.7Z" fill="#28b8be" stroke="#28b8be"/><path d="M459.4 253.2L461.7 236.3L458.5 234.9L456.2 251.7Z" class="e"/><path d="M510.4 267.4L512.7 266.3L509.6 264.9L507.2 265.9Z" fill="#3c23ae" stroke="#3c23ae"/><path d="M510.4 267.4L512.7 266.3L509.6 264.9L507.2 265.9Z" class="e"/><path d="M478.2 261.5L480.5 260.4L477.4 235.0L475.0 236.1Z" fill="#3c60ea" stroke="#3c60ea"/><path d="M478.2 261.5L480.5 260.4L477.4 235.0L475.0 236.1Z" class="e"/><path d="M497.0 267.6L499.4 266.6L496.2 265.2L493.9 266.2Z" fill="#3c23ae" stroke="#3c23ae"/><path d="M497.0 267.6L499.4 266.6L496.2 265.2L493.9 266.2Z" class="e"/><path d="M464.9 237.8L467.2 236.7L464.0 235.3L461.7 236.3Z" fill="#faf60c" stroke="#faf60c"/><path d="M464.9 237.8L467.2 236.7L464.0 235.3L461.7 236.3Z" class="e"/><path d="M515.9 240.5L518.2 239.5L515.1 265.3L512.7 266.3Z" fill="#f3b23a" stroke="#f3b23a"/><path d="M515.9 240.5L518.2 239.5L515.1 265.3L512.7 266.3Z" class="e"/><path d="M483.7 261.9L486.0 260.8L482.9 259.4L480.5 260.4Z" fill="#3c60ea" stroke="#3c60ea"/><path d="M483.7 261.9L486.0 260.8L482.9 259.4L480.5 260.4Z" class="e"/><path d="M451.5 240.7L453.9 239.7L450.7 238.3L448.4 239.3Z" fill="#f3b23a" stroke="#f3b23a"/><path d="M451.5 240.7L453.9 239.7L450.7 238.3L448.4 239.3Z" class="e"/><path d="M502.5 268.0L504.9 267.0L501.7 265.5L499.4 266.6Z" fill="#3c23ae" stroke="#3c23ae"/><path d="M502.5 268.0L504.9 267.0L501.7 265.5L499.4 266.6Z" class="e"/><path d="M470.3 238.2L472.7 237.1L469.5 235.7L467.2 236.7Z" fill="#faf60c" stroke="#faf60c"/><path d="M470.3 238.2L472.7 237.1L469.5 235.7L467.2 236.7Z" class="e"/><path d="M521.4 240.9L523.7 239.9L520.6 238.4L518.2 239.5Z" fill="#f3b23a" stroke="#f3b23a"/><path d="M521.4 240.9L523.7 239.9L520.6 238.4L518.2 239.5Z" class="e"/><path d="M489.2 268.3L491.5 267.2L488.4 265.8L486.0 260.8Z" fill="#3c23ae" stroke="#3c23ae"/><path d="M489.2 268.3L491.5 267.2L488.4 265.8L486.0 260.8Z" class="e"/><path d="M457.0 241.1L459.4 253.2L456.2 251.7L453.9 239.7Z" fill="#f3b23a" stroke="#f3b23a"/><path d="M457.0 241.1L459.4 253.2L456.2 251.7L453.9 239.7Z" class="e"/><path d="M508.0 268.4L510.4 267.4L507.2 265.9L504.9 267.0Z" fill="#3c23ae" stroke="#3c23ae"/><path d="M508.0 268.4L510.4 267.4L507.2 265.9L504.9 267.0Z" class="e"/><path d="M475.8 262.5L478.2 261.5L475.0 236.1L472.7 237.1Z" fill="#3c60ea" stroke="#3c60ea"/><path d="M475.8 262.5L478.2 261.5L475.0 236.1L472.7 237.1Z" class="e"/><path d="M494.7 268.7L497.0 267.6L493.9 266.2L491.5 267.2Z" fill="#3c23ae" stroke="#3c23ae"/><path d="M494.7 268.7L497.0 267.6L493.9 266.2L491.5 267.2Z" class="e"/><path d="M462.5 254.6L464.9 237.8L461.7 236.3L459.4 253.2Z" fill="#28b8be" stroke="#28b8be"/><path d="M462.5 254.6L464.9 237.8L461.7 236.3L459.4 253.2Z" class="e"/><path d="M513.5 241.6L515.9 240.5L512.7 266.3L510.4 267.4Z" fill="#f3b23a" stroke="#f3b23a"/><path d="M513.5 241.6L515.9 240.5L512.7 266.3L510.4 267.4Z" class="e"/><path d="M481.3 262.9L483.7 261.9L480.5 260.4L478.2 261.5Z" fill="#3c60ea" stroke="#3c60ea"/><path d="M481.3 262.9L483.7 261.9L480.5 260.4L478.2 261.5Z" class="e"/><path d="M500.2 269.1L502.5 268.0L499.4 266.6L497.0 267.6Z" fill="#3c23ae" stroke="#3c23ae"/><path d="M500.2 269.1L502.5 268.0L499.4 266.6L497.0 267.6Z" class="e"/><path d="M468.0 239.2L470.3 238.2L467.2 236.7L464.9 237.8Z" fill="#faf60c" stroke="#faf60c"/><path d="M468.0 239.2L470.3 238.2L467.2 236.7L464.9 237.8Z" class="e"/><path d="M519.0 241.9L521.4 240.9L518.2 239.5L515.9 240.5Z" fill="#f3b23a" stroke="#f3b23a"/><path d="M519.0 241.9L521.4 240.9L518.2 239.5L515.9 240.5Z" class="e"/><path d="M486.8 269.3L489.2 268.3L486.0 260.8L483.7 261.9Z" fill="#3c23ae" stroke="#3c23ae"/><path d="M486.8 269.3L489.2 268.3L486.0 260.8L483.7 261.9Z" class="e"/><path d="M454.7 242.2L457.0 241.1L453.9 239.7L451.5 240.7Z" fill="#f3b23a" stroke="#f3b23a"/><path d="M454.7 242.2L457.0 241.1L453.9 239.7L451.5 240.7Z" class="e"/><path d="M505.7 269.4L508.0 268.4L504.9 267.0L502.5 268.0Z" fill="#3c23ae" stroke="#3c23ae"/><path d="M505.7 269.4L508.0 268.4L504.9 267.0L502.5 268.0Z" class="e"/><path d="M473.5 263.6L475.8 262.5L472.7 237.1L470.3 238.2Z" fill="#3c60ea" stroke="#3c60ea"/><path d="M473.5 263.6L475.8 262.5L472.7 237.1L470.3 238.2Z" class="e"/><path d="M492.3 269.7L494.7 268.7L491.5 267.2L489.2 268.3Z" fill="#3c23ae" stroke="#3c23ae"/><path d="M492.3 269.7L494.7 268.7L491.5 267.2L489.2 268.3Z" class="e"/><path d="M460.2 242.6L462.5 254.6L459.4 253.2L457.0 241.1Z" fill="#f3b23a" stroke="#f3b23a"/><path d="M460.2 242.6L462.5 254.6L459.4 253.2L457.0 241.1Z" class="e"/><path d="M511.2 242.6L513.5 241.6L510.4 267.4L508.0 268.4Z" fill="#f3b23a" stroke="#f3b23a"/><path d="M511.2 242.6L513.5 241.6L510.4 267.4L508.0 268.4Z" class="e"/><path d="M479.0 264.0L481.3 262.9L478.2 261.5L475.8 262.5Z" fill="#3c60ea" stroke="#3c60ea"/><path d="M479.0 264.0L481.3 262.9L478.2 261.5L475.8 262.5Z" class="e"/><path d="M497.8 270.1L500.2 269.1L497.0 267.6L494.7 268.7Z" fill="#3c23ae" stroke="#3c23ae"/><path d="M497.8 270.1L500.2 269.1L497.0 267.6L494.7 268.7Z" class="e"/><path d="M465.7 249.5L468.0 239.2L464.9 237.8L462.5 254.6Z" fill="#8cc84c" stroke="#8cc84c"/><path d="M465.7 249.5L468.0 239.2L464.9 237.8L462.5 254.6Z" class="e"/><path d="M516.7 243.0L519.0 241.9L515.9 240.5L513.5 241.6Z" fill="#f3b23a" stroke="#f3b23a"/><path d="M516.7 243.0L519.0 241.9L515.9 240.5L513.5 241.6Z" class="e"/><path d="M484.5 270.4L486.8 269.3L483.7 261.9L481.3 262.9Z" fill="#3c23ae" stroke="#3c23ae"/><path d="M484.5 270.4L486.8 269.3L483.7 261.9L481.3 262.9Z" class="e"/><path d="M503.3 270.5L505.7 269.4L502.5 268.0L500.2 269.1Z" fill="#3c23ae" stroke="#3c23ae"/><path d="M503.3 270.5L505.7 269.4L502.5 268.0L500.2 269.1Z" class="e"/><path d="M471.2 264.6L473.5 263.6L470.3 238.2L468.0 239.2Z" fill="#3c60ea" stroke="#3c60ea"/><path d="M471.2 264.6L473.5 263.6L470.3 238.2L468.0 239.2Z" class="e"/><path d="M490.0 270.7L492.3 269.7L489.2 268.3L486.8 269.3Z" fill="#3c23ae" stroke="#3c23ae"/><path d="M490.0 270.7L492.3 269.7L489.2 268.3L486.8 269.3Z" class="e"/><path d="M457.8 243.6L460.2 242.6L457.0 241.1L454.7 242.2Z" fill="#f3b23a" stroke="#f3b23a"/><path d="M457.8 243.6L460.2 242.6L457.0 241.1L454.7 242.2Z" class="e"/><path d="M508.8 243.6L511.2 242.6L508.0 268.4L505.7 269.4Z" fill="#f3b23a" stroke="#f3b23a"/><path d="M508.8 243.6L511.2 242.6L508.0 268.4L505.7 269.4Z" class="e"/><path d="M476.7 265.0L479.0 264.0L475.8 262.5L473.5 263.6Z" fill="#3c60ea" stroke="#3c60ea"/><path d="M476.7 265.0L479.0 264.0L475.8 262.5L473.5 263.6Z" class="e"/><path d="M495.5 271.1L497.8 270.1L494.7 268.7L492.3 269.7Z" fill="#3c23ae" stroke="#3c23ae"/><path d="M495.5 271.1L497.8 270.1L494.7 268.7L492.3 269.7Z" class="e"/><path d="M463.3 244.0L465.7 249.5L462.5 254.6L460.2 242.6Z" fill="#f3b23a" stroke="#f3b23a"/><path d="M463.3 244.0L465.7 249.5L462.5 254.6L460.2 242.6Z" class="e"/><path d="M514.3 244.0L516.7 243.0L513.5 241.6L511.2 242.6Z" fill="#f3b23a" stroke="#f3b23a"/><path d="M514.3 244.0L516.7 243.0L513.5 241.6L511.2 242.6Z" class="e"/><path d="M482.2 271.4L484.5 270.4L481.3 262.9L479.0 264.0Z" fill="#3c23ae" stroke="#3c23ae"/><path d="M482.2 271.4L484.5 270.4L481.3 262.9L479.0 264.0Z" class="e"/><path d="M501.0 271.5L503.3 270.5L500.2 269.1L497.8 270.1Z" fill="#3c23ae" stroke="#3c23ae"/><path d="M501.0 271.5L503.3 270.5L500.2 269.1L497.8 270.1Z" class="e"/><path d="M468.8 265.6L471.2 264.6L468.0 239.2L465.7 249.5Z" fill="#3c60ea" stroke="#3c60ea"/><path d="M468.8 265.6L471.2 264.6L468.0 239.2L465.7 249.5Z" class="e"/><path d="M487.7 271.8L490.0 270.7L486.8 269.3L484.5 270.4Z" fill="#3c23ae" stroke="#3c23ae"/><path d="M487.7 271.8L490.0 270.7L486.8 269.3L484.5 270.4Z" class="e"/><path d="M506.5 244.7L508.8 243.6L505.7 269.4L503.3 270.5Z" fill="#f3b23a" stroke="#f3b23a"/><path d="M506.5 244.7L508.8 243.6L505.7 269.4L503.3 270.5Z" class="e"/><path d="M474.3 266.0L476.7 265.0L473.5 263.6L471.2 264.6Z" fill="#3c60ea" stroke="#3c60ea"/><path d="M474.3 266.0L476.7 265.0L473.5 263.6L471.2 264.6Z" class="e"/><path d="M493.1 272.2L495.5 271.1L492.3 269.7L490.0 270.7Z" fill="#3c23ae" stroke="#3c23ae"/><path d="M493.1 272.2L495.5 271.1L492.3 269.7L490.0 270.7Z" class="e"/><path d="M461.0 245.0L463.3 244.0L460.2 242.6L457.8 243.6Z" fill="#f3b23a" stroke="#f3b23a"/><path d="M461.0 245.0L463.3 244.0L460.2 242.6L457.8 243.6Z" class="e"/><path d="M512.0 245.1L514.3 244.0L511.2 242.6L508.8 243.6Z" fill="#f3b23a" stroke="#f3b23a"/><path d="M512.0 245.1L514.3 244.0L511.2 242.6L508.8 243.6Z" class="e"/><path d="M479.8 272.4L482.2 271.4L479.0 264.0L476.7 265.0Z" fill="#3c23ae" stroke="#3c23ae"/><path d="M479.8 272.4L482.2 271.4L479.0 264.0L476.7 265.0Z" class="e"/><path d="M498.6 272.6L501.0 271.5L497.8 270.1L495.5 271.1Z" fill="#3c23ae" stroke="#3c23ae"/><path d="M498.6 272.6L501.0 271.5L497.8 270.1L495.5 271.1Z" class="e"/><path d="M466.5 245.4L468.8 265.6L465.7 249.5L463.3 244.0Z" fill="#f3b23a" stroke="#f3b23a"/><path d="M466.5 245.4L468.8 265.6L465.7 249.5L463.3 244.0Z" class="e"/><path d="M485.3 272.8L487.7 271.8L484.5 270.4L482.2 271.4Z" fill="#3c23ae" stroke="#3c23ae"/><path d="M485.3 272.8L487.7 271.8L484.5 270.4L482.2 271.4Z" class="e"/><path d="M504.1 245.7L506.5 244.7L503.3 270.5L501.0 271.5Z" fill="#f3b23a" stroke="#f3b23a"/><path d="M504.1 245.7L506.5 244.7L503.3 270.5L501.0 271.5Z" class="e"/><path d="M472.0 267.1L474.3 266.0L471.2 264.6L468.8 265.6Z" fill="#3c60ea" stroke="#3c60ea"/><path d="M472.0 267.1L474.3 266.0L471.2 264.6L468.8 265.6Z" class="e"/><path d="M490.8 273.2L493.1 272.2L490.0 270.7L487.7 271.8Z" fill="#3c23ae" stroke="#3c23ae"/><path d="M490.8 273.2L493.1 272.2L490.0 270.7L487.7 271.8Z" class="e"/><path d="M509.6 246.1L512.0 245.1L508.8 243.6L506.5 244.7Z" fill="#f3b23a" stroke="#f3b23a"/><path d="M509.6 246.1L512.0 245.1L508.8 243.6L506.5 244.7Z" class="e"/><path d="M477.5 273.5L479.8 272.4L476.7 265.0L474.3 266.0Z" fill="#3c23ae" stroke="#3c23ae"/><path d="M477.5 273.5L479.8 272.4L476.7 265.0L474.3 266.0Z" class="e"/><path d="M496.3 273.6L498.6 272.6L495.5 271.1L493.1 272.2Z" fill="#3c23ae" stroke="#3c23ae"/><path d="M496.3 273.6L498.6 272.6L495.5 271.1L493.1 272.2Z" class="e"/><path d="M464.1 246.5L466.5 245.4L463.3 244.0L461.0 245.0Z" fill="#f3b23a" stroke="#f3b23a"/><path d="M464.1 246.5L466.5 245.4L463.3 244.0L461.0 245.0Z" class="e"/><path d="M483.0 273.9L485.3 272.8L482.2 271.4L479.8 272.4Z" fill="#3c23ae" stroke="#3c23ae"/><path d="M483.0 273.9L485.3 272.8L482.2 271.4L479.8 272.4Z" class="e"/><path d="M501.8 246.8L504.1 245.7L501.0 271.5L498.6 272.6Z" fill="#f3b23a" stroke="#f3b23a"/><path d="M501.8 246.8L504.1 245.7L501.0 271.5L498.6 272.6Z" class="e"/><path d="M469.6 246.9L472.0 267.1L468.8 265.6L466.5 245.4Z" fill="#f3b23a" stroke="#f3b23a"/><path d="M469.6 246.9L472.0 267.1L468.8 265.6L466.5 245.4Z" class="e"/><path d="M488.5 274.3L490.8 273.2L487.7 271.8L485.3 272.8Z" fill="#3c23ae" stroke="#3c23ae"/><path d="M488.5 274.3L490.8 273.2L487.7 271.8L485.3 272.8Z" class="e"/><path d="M507.3 247.1L509.6 246.1L506.5 244.7L504.1 245.7Z" fill="#f3b23a" stroke="#f3b23a"/><path d="M507.3 247.1L509.6 246.1L506.5 244.7L504.1 245.7Z" class="e"/><path d="M475.1 274.5L477.5 273.5L474.3 266.0L472.0 267.1Z" fill="#3c23ae" stroke="#3c23ae"/><path d="M475.1 274.5L477.5 273.5L474.3 266.0L472.0 267.1Z" class="e"/><path d="M494.0 274.6L496.3 273.6L493.1 272.2L490.8 273.2Z" fill="#3c23ae" stroke="#3c23ae"/><path d="M494.0 274.6L496.3 273.6L493.1 272.2L490.8 273.2Z" class="e"/><path d="M480.6 274.9L483.0 273.9L479.8 272.4L477.5 273.5Z" fill="#3c23ae" stroke="#3c23ae"/><path d="M480.6 274.9L483.0 273.9L479.8 272.4L477.5 273.5Z" class="e"/><path d="M499.5 247.8L501.8 246.8L498.6 272.6L496.3 273.6Z" fill="#f3b23a" stroke="#f3b23a"/><path d="M499.5 247.8L501.8 246.8L498.6 272.6L496.3 273.6Z" class="e"/><path d="M467.3 247.9L469.6 246.9L466.5 245.4L464.1 246.5Z" fill="#f3b23a" stroke="#f3b23a"/><path d="M467.3 247.9L469.6 246.9L466.5 245.4L464.1 246.5Z" class="e"/><path d="M486.1 275.3L488.5 274.3L485.3 272.8L483.0 273.9Z" fill="#3c23ae" stroke="#3c23ae"/><path d="M486.1 275.3L488.5 274.3L485.3 272.8L483.0 273.9Z" class="e"/><path d="M505.0 248.2L507.3 247.1L504.1 245.7L501.8 246.8Z" fill="#f3b23a" stroke="#f3b23a"/><path d="M505.0 248.2L507.3 247.1L504.1 245.7L501.8 246.8Z" class="e"/><path d="M472.8 248.3L475.1 274.5L472.0 267.1L469.6 246.9Z" fill="#f3b23a" stroke="#f3b23a"/><path d="M472.8 248.3L475.1 274.5L472.0 267.1L469.6 246.9Z" class="e"/><path d="M491.6 275.7L494.0 274.6L490.8 273.2L488.5 274.3Z" fill="#3c23ae" stroke="#3c23ae"/><path d="M491.6 275.7L494.0 274.6L490.8 273.2L488.5 274.3Z" class="e"/><path d="M478.3 275.9L480.6 274.9L477.5 273.5L475.1 274.5Z" fill="#3c23ae" stroke="#3c23ae"/><path d="M478.3 275.9L480.6 274.9L477.5 273.5L475.1 274.5Z" class="e"/><path d="M497.1 248.8L499.5 247.8L496.3 273.6L494.0 274.6Z" fill="#f3b23a" stroke="#f3b23a"/><path d="M497.1 248.8L499.5 247.8L496.3 273.6L494.0 274.6Z" class="e"/><path d="M483.8 276.3L486.1 275.3L483.0 273.9L480.6 274.9Z" fill="#3c23ae" stroke="#3c23ae"/><path d="M483.8 276.3L486.1 275.3L483.0 273.9L480.6 274.9Z" class="e"/><path d="M502.6 249.2L505.0 248.2L501.8 246.8L499.5 247.8Z" fill="#f3b23a" stroke="#f3b23a"/><path d="M502.6 249.2L505.0 248.2L501.8 246.8L499.5 247.8Z" class="e"/><path d="M470.4 249.3L472.8 248.3L469.6 246.9L467.3 247.9Z" fill="#f3b23a" stroke="#f3b23a"/><path d="M470.4 249.3L472.8 248.3L469.6 246.9L467.3 247.9Z" class="e"/><path d="M489.3 276.7L491.6 275.7L488.5 274.3L486.1 275.3Z" fill="#3c23ae" stroke="#3c23ae"/><path d="M489.3 276.7L491.6 275.7L488.5 274.3L486.1 275.3Z" class="e"/><path d="M475.9 249.7L478.3 275.9L475.1 274.5L472.8 248.3Z" fill="#f3b23a" stroke="#f3b23a"/><path d="M475.9 249.7L478.3 275.9L475.1 274.5L472.8 248.3Z" class="e"/><path d="M494.8 249.9L497.1 248.8L494.0 274.6L491.6 275.7Z" fill="#f3b23a" stroke="#f3b23a"/><path d="M494.8 249.9L497.1 248.8L494.0 274.6L491.6 275.7Z" class="e"/><path d="M481.4 277.4L483.8 276.3L480.6 274.9L478.3 275.9Z" fill="#3c23ae" stroke="#3c23ae"/><path d="M481.4 277.4L483.8 276.3L480.6 274.9L478.3 275.9Z" class="e"/><path d="M500.3 250.3L502.6 249.2L499.5 247.8L497.1 248.8Z" fill="#f3b23a" stroke="#f3b23a"/><path d="M500.3 250.3L502.6 249.2L499.5 247.8L497.1 248.8Z" class="e"/><path d="M486.9 277.8L489.3 276.7L486.1 275.3L483.8 276.3Z" fill="#3c23ae" stroke="#3c23ae"/><path d="M486.9 277.8L489.3 276.7L486.1 275.3L483.8 276.3Z" class="e"/><path d="M473.6 250.8L475.9 249.7L472.8 248.3L470.4 249.3Z" fill="#f3b23a" stroke="#f3b23a"/><path d="M473.6 250.8L475.9 249.7L472.8 248.3L470.4 249.3Z" class="e"/><path d="M492.4 250.9L494.8 249.9L491.6 275.7L489.3 276.7Z" fill="#f3b23a" stroke="#f3b23a"/><path d="M492.4 250.9L494.8 249.9L491.6 275.7L489.3 276.7Z" class="e"/><path d="M479.1 251.2L481.4 277.4L478.3 275.9L475.9 249.7Z" fill="#f3b23a" stroke="#f3b23a"/><path d="M479.1 251.2L481.4 277.4L478.3 275.9L475.9 249.7Z" class="e"/><path d="M497.9 251.3L500.3 250.3L497.1 248.8L494.8 249.9Z" fill="#f3b23a" stroke="#f3b23a"/><path d="M497.9 251.3L500.3 250.3L497.1 248.8L494.8 249.9Z" class="e"/><path d="M484.6 278.8L486.9 277.8L483.8 276.3L481.4 277.4Z" fill="#3c23ae" stroke="#3c23ae"/><path d="M484.6 278.8L486.9 277.8L483.8 276.3L481.4 277.4Z" class="e"/><path d="M490.1 252.0L492.4 250.9L489.3 276.7L486.9 277.8Z" fill="#f3b23a" stroke="#f3b23a"/><path d="M490.1 252.0L492.4 250.9L489.3 276.7L486.9 277.8Z" class="e"/><path d="M476.7 252.2L479.1 251.2L475.9 249.7L473.6 250.8Z" fill="#f3b23a" stroke="#f3b23a"/><path d="M476.7 252.2L479.1 251.2L475.9 249.7L473.6 250.8Z" class="e"/><path d="M495.6 252.3L497.9 251.3L494.8 249.9L492.4 250.9Z" fill="#f3b23a" stroke="#f3b23a"/><path d="M495.6 252.3L497.9 251.3L494.8 249.9L492.4 250.9Z" class="e"/><path d="M482.2 252.6L484.6 278.8L481.4 277.4L479.1 251.2Z" fill="#f3b23a" stroke="#f3b23a"/><path d="M482.2 252.6L484.6 278.8L481.4 277.4L479.1 251.2Z" class="e"/><path d="M487.7 253.0L490.1 252.0L486.9 277.8L484.6 278.8Z" fill="#f3b23a" stroke="#f3b23a"/><path d="M487.7 253.0L490.1 252.0L486.9 277.8L484.6 278.8Z" class="e"/><path d="M493.2 253.4L495.6 252.3L492.4 250.9L490.1 252.0Z" fill="#f3b23a" stroke="#f3b23a"/><path d="M493.2 253.4L495.6 252.3L492.4 250.9L490.1 252.0Z" class="e"/><path d="M479.9 253.6L482.2 252.6L479.1 251.2L476.7 252.2Z" fill="#f3b23a" stroke="#f3b23a"/><path d="M479.9 253.6L482.2 252.6L479.1 251.2L476.7 252.2Z" class="e"/><path d="M485.4 254.0L487.7 253.0L484.6 278.8L482.2 252.6Z" fill="#f3b23a" stroke="#f3b23a"/><path d="M485.4 254.0L487.7 253.0L484.6 278.8L482.2 252.6Z" class="e"/><path d="M490.9 254.4L493.2 253.4L490.1 252.0L487.7 253.0Z" fill="#f3b23a" stroke="#f3b23a"/><path d="M490.9 254.4L493.2 253.4L490.1 252.0L487.7 253.0Z" class="e"/><path d="M483.0 255.1L485.4 254.0L482.2 252.6L479.9 253.6Z" fill="#f3b23a" stroke="#f3b23a"/><path d="M483.0 255.1L485.4 254.0L482.2 252.6L479.9 253.6Z" class="e"/><path d="M488.5 255.5L490.9 254.4L487.7 253.0L485.4 254.0Z" fill="#f3b23a" stroke="#f3b23a"/><path d="M488.5 255.5L490.9 254.4L487.7 253.0L485.4 254.0Z" class="e"/><path d="M486.2 256.5L488.5 255.5L485.4 254.0L483.0 255.1Z" fill="#f3b23a" stroke="#f3b23a"/><path d="M486.2 256.5L488.5 255.5L485.4 254.0L483.0 255.1Z" class="e"/></g>
<text x="437.50" y="261.43" font-family="Liberation Serif, serif" font-weight="bold" font-size="4.55" text-anchor="end" fill="#111">1.01184</text>
<text x="437.50" y="250.53" font-family="Liberation Serif, serif" font-weight="bold" font-size="4.55" text-anchor="end" fill="#111">1.01186</text>
<text x="437.50" y="239.63" font-family="Liberation Serif, serif" font-weight="bold" font-size="4.55" text-anchor="end" fill="#111">1.01188</text>
<text x="437.50" y="228.73" font-family="Liberation Serif, serif" font-weight="bold" font-size="4.55" text-anchor="end" fill="#111">1.0119</text>
<text x="491.90" y="293.60" font-family="Liberation Serif, serif" font-weight="bold" font-size="4.85" text-anchor="middle" fill="#111">0</text>
<text x="515.35" y="283.20" font-family="Liberation Serif, serif" font-weight="bold" font-size="4.85" text-anchor="middle" fill="#111">10</text>
<text x="538.80" y="272.80" font-family="Liberation Serif, serif" font-weight="bold" font-size="4.85" text-anchor="middle" fill="#111">20</text>
<text x="482.40" y="293.70" font-family="Liberation Serif, serif" font-weight="bold" font-size="4.85" text-anchor="middle" fill="#111">0</text>
<text x="466.63" y="286.53" font-family="Liberation Serif, serif" font-weight="bold" font-size="4.85" text-anchor="middle" fill="#111">5</text>
<text x="450.87" y="279.37" font-family="Liberation Serif, serif" font-weight="bold" font-size="4.85" text-anchor="middle" fill="#111">10</text>
<text x="435.10" y="272.20" font-family="Liberation Serif, serif" font-weight="bold" font-size="4.85" text-anchor="middle" fill="#111">15</text>
<text x="512.7" y="294.8" font-family="Liberation Serif, serif" font-weight="bold" font-size="6" text-anchor="middle" fill="#222">X</text>
<text x="461.5" y="294.6" font-family="Liberation Serif, serif" font-weight="bold" font-size="6" text-anchor="middle" fill="#222">Y</text>
<text transform="translate(419.8,246.6) rotate(-90)" font-family="Liberation Serif, serif" font-weight="bold" font-size="5.2" text-anchor="middle" textLength="39.2" lengthAdjust="spacingAndGlyphs" fill="#222">Absolute Pressure</text>
<text x="428.3" y="216.9" font-family="Liberation Serif, serif" font-size="5.6" fill="#333">×10<tspan dy="-2" font-size="3.6">5</tspan></text>
</svg></body></html>
